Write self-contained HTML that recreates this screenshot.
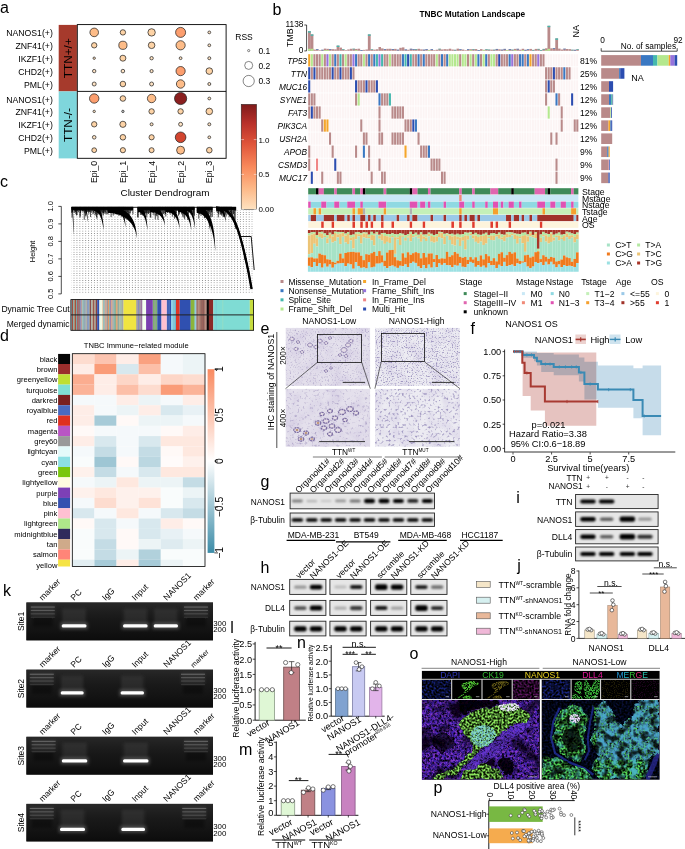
<!DOCTYPE html>
<html><head><meta charset="utf-8"><title>Figure</title>
<style>html,body{margin:0;padding:0;background:#fff}svg{display:block}text{font-family:"Liberation Sans",sans-serif}</style></head>
<body>
<svg width="685" height="849" viewBox="0 0 685 849">
<defs>
<linearGradient id="gradA" x1="0" y1="0" x2="0" y2="1">
<stop offset="0" stop-color="#7f1a1a"/><stop offset="0.18" stop-color="#b8302a"/><stop offset="0.38" stop-color="#e0553a"/><stop offset="0.6" stop-color="#f98a5c"/><stop offset="0.8" stop-color="#fdb887"/><stop offset="1" stop-color="#fee2c0"/>
</linearGradient>
<linearGradient id="gradD" x1="0" y1="0" x2="0" y2="1"><stop offset="0" stop-color="#f98a60"/><stop offset="0.5" stop-color="#ffffff"/><stop offset="1" stop-color="#3c8ca8"/></linearGradient>

<filter id="blur1" x="-5%" y="-50%" width="110%" height="200%"><feGaussianBlur stdDeviation="0.85"/></filter>

<filter id="ihcCloud" x="0" y="0" width="100%" height="100%" color-interpolation-filters="sRGB"><feTurbulence type="fractalNoise" baseFrequency="0.07" numOctaves="3" seed="4" result="n"/><feColorMatrix in="n" type="matrix" values="0 0 0 0 0  0 0 0 0 0  0 0 0 0 0  2.6 0 0 0 -1.0" result="a"/><feComposite in="SourceGraphic" in2="a" operator="in"/></filter>
<filter id="ihcSpkL" x="0" y="0" width="100%" height="100%" color-interpolation-filters="sRGB"><feTurbulence type="fractalNoise" baseFrequency="0.6" numOctaves="2" seed="8" result="n"/><feColorMatrix in="n" type="matrix" values="0 0 0 0 0  0 0 0 0 0  0 0 0 0 0  0 3.5 0 0 -1.95" result="a"/><feComposite in="SourceGraphic" in2="a" operator="in"/></filter>
<filter id="ihcSpkL2" x="0" y="0" width="100%" height="100%" color-interpolation-filters="sRGB"><feTurbulence type="fractalNoise" baseFrequency="0.4" numOctaves="2" seed="15" result="n"/><feColorMatrix in="n" type="matrix" values="0 0 0 0 0  0 0 0 0 0  0 0 0 0 0  0 3.5 0 0 -2.0" result="a"/><feComposite in="SourceGraphic" in2="a" operator="in"/></filter>
<filter id="ihcSpkR" x="0" y="0" width="100%" height="100%" color-interpolation-filters="sRGB"><feTurbulence type="fractalNoise" baseFrequency="0.8" numOctaves="1" seed="3" result="n"/><feColorMatrix in="n" type="matrix" values="0 0 0 0 0  0 0 0 0 0  0 0 0 0 0  0 4.5 0 0 -2.35" result="a"/><feComposite in="SourceGraphic" in2="a" operator="in"/></filter>
<filter id="ihcSpkR2" x="0" y="0" width="100%" height="100%" color-interpolation-filters="sRGB"><feTurbulence type="fractalNoise" baseFrequency="0.45" numOctaves="1" seed="9" result="n"/><feColorMatrix in="n" type="matrix" values="0 0 0 0 0  0 0 0 0 0  0 0 0 0 0  0 4.5 0 0 -2.45" result="a"/><feComposite in="SourceGraphic" in2="a" operator="in"/></filter>

<filter id="blur2" x="-5%" y="-10%" width="110%" height="120%"><feGaussianBlur stdDeviation="1.6"/></filter>
<filter id="blur3" x="-5%" y="-10%" width="110%" height="120%"><feGaussianBlur stdDeviation="0.7"/></filter>
<linearGradient id="gelg" x1="0" y1="0" x2="0" y2="1"><stop offset="0" stop-color="#2a2a2a" stop-opacity="0.9"/><stop offset="0.5" stop-color="#151515" stop-opacity="0.6"/><stop offset="1" stop-color="#0a0a0a" stop-opacity="0.9"/></linearGradient>
<filter id="fRough" x="-10%" y="-10%" width="120%" height="120%"><feTurbulence type="fractalNoise" baseFrequency="0.09" numOctaves="3" seed="6" result="t"/><feDisplacementMap in="SourceGraphic" in2="t" scale="9" xChannelSelector="R" yChannelSelector="G"/><feGaussianBlur stdDeviation="0.7"/></filter>
<filter id="fTexA" x="0" y="0" width="100%" height="100%" color-interpolation-filters="sRGB"><feTurbulence type="fractalNoise" baseFrequency="0.5" numOctaves="3" seed="5" result="n"/><feColorMatrix in="n" type="matrix" values="0 0 0 0 0  0 0 0 0 0  0 0 0 0 0  3.0 0 0 0 -1.1" result="a"/><feComposite in="SourceGraphic" in2="a" operator="in"/></filter>
<filter id="fTexB" x="0" y="0" width="100%" height="100%" color-interpolation-filters="sRGB"><feTurbulence type="fractalNoise" baseFrequency="0.7" numOctaves="2" seed="7" result="n"/><feColorMatrix in="n" type="matrix" values="0 0 0 0 0  0 0 0 0 0  0 0 0 0 0  0 4.0 0 0 -1.4" result="a"/><feComposite in="SourceGraphic" in2="a" operator="in"/></filter>
<filter id="fTexC" x="0" y="0" width="100%" height="100%" color-interpolation-filters="sRGB"><feTurbulence type="fractalNoise" baseFrequency="0.9" numOctaves="2" seed="9" result="n"/><feColorMatrix in="n" type="matrix" values="0 0 0 0 0  0 0 0 0 0  0 0 0 0 0  0 0 6.0 0 -3.1" result="a"/><feComposite in="SourceGraphic" in2="a" operator="in"/></filter>
<filter id="fTexP" x="0" y="0" width="100%" height="100%" color-interpolation-filters="sRGB"><feTurbulence type="fractalNoise" baseFrequency="0.4" numOctaves="3" seed="12" result="n"/><feColorMatrix in="n" type="matrix" values="0 0 0 0 0  0 0 0 0 0  0 0 0 0 0  2.6 0 0 0 -0.65" result="a"/><feComposite in="SourceGraphic" in2="a" operator="in"/></filter>
<filter id="fTexP2" x="0" y="0" width="100%" height="100%" color-interpolation-filters="sRGB"><feTurbulence type="fractalNoise" baseFrequency="0.45" numOctaves="3" seed="2" result="n"/><feColorMatrix in="n" type="matrix" values="0 0 0 0 0  0 0 0 0 0  0 0 0 0 0  0 4.0 0 0 -1.9" result="a"/><feComposite in="SourceGraphic" in2="a" operator="in"/></filter>
<filter id="fTexG" x="0" y="0" width="100%" height="100%" color-interpolation-filters="sRGB"><feTurbulence type="fractalNoise" baseFrequency="0.55" numOctaves="3" seed="21" result="n"/><feColorMatrix in="n" type="matrix" values="0 0 0 0 0  0 0 0 0 0  0 0 0 0 0  0 3.4 0 0 -1.05" result="a"/><feComposite in="SourceGraphic" in2="a" operator="in"/></filter>
<filter id="fTexG2" x="0" y="0" width="100%" height="100%" color-interpolation-filters="sRGB"><feTurbulence type="fractalNoise" baseFrequency="0.6" numOctaves="2" seed="33" result="n"/><feColorMatrix in="n" type="matrix" values="0 0 0 0 0  0 0 0 0 0  0 0 0 0 0  0 0 3.0 0 -0.8" result="a"/><feComposite in="SourceGraphic" in2="a" operator="in"/></filter>
<filter id="fTexC2" x="0" y="0" width="100%" height="100%" color-interpolation-filters="sRGB"><feTurbulence type="fractalNoise" baseFrequency="0.16" numOctaves="3" seed="17" result="n"/><feColorMatrix in="n" type="matrix" values="0 0 0 0 0  0 0 0 0 0  0 0 0 0 0  4.0 0 0 0 -1.8" result="a"/><feComposite in="SourceGraphic" in2="a" operator="in"/></filter>
<filter id="fTexD" x="0" y="0" width="100%" height="100%" color-interpolation-filters="sRGB"><feTurbulence type="fractalNoise" baseFrequency="0.06" numOctaves="2" seed="44" result="n"/><feColorMatrix in="n" type="matrix" values="0 0 0 0 0  0 0 0 0 0  0 0 0 0 0  0 0 4.0 0 -1.9" result="a"/><feComposite in="SourceGraphic" in2="a" operator="in"/></filter>
<filter id="fTexG3" x="0" y="0" width="100%" height="100%" color-interpolation-filters="sRGB"><feTurbulence type="fractalNoise" baseFrequency="0.5" numOctaves="3" seed="27" result="n"/><feColorMatrix in="n" type="matrix" values="0 0 0 0 0  0 0 0 0 0  0 0 0 0 0  0 3.6 0 0 -1.35" result="a"/><feComposite in="SourceGraphic" in2="a" operator="in"/></filter>
<filter id="fTexD2" x="0" y="0" width="100%" height="100%" color-interpolation-filters="sRGB"><feTurbulence type="fractalNoise" baseFrequency="0.12" numOctaves="2" seed="51" result="n"/><feColorMatrix in="n" type="matrix" values="0 0 0 0 0  0 0 0 0 0  0 0 0 0 0  5.0 0 0 0 -2.5" result="a"/><feComposite in="SourceGraphic" in2="a" operator="in"/></filter>
<filter id="blur4" x="-5%" y="-5%" width="110%" height="110%"><feGaussianBlur stdDeviation="0.45"/></filter>
<filter id="blurIF" x="0" y="0" width="100%" height="100%"><feGaussianBlur stdDeviation="0.45"/></filter>
</defs>

<rect width="685" height="849" fill="#fff"/>
<g id="panel-a">
<text x="0.0" y="12.6" font-size="16">a</text>
<text x="52.8" y="36.4" font-size="8.7" text-anchor="end">NANOS1(+)</text>
<text x="52.8" y="49.3" font-size="8.7" text-anchor="end">ZNF41(+)</text>
<text x="52.8" y="62.2" font-size="8.7" text-anchor="end">IKZF1(+)</text>
<text x="52.8" y="75.1" font-size="8.7" text-anchor="end">CHD2(+)</text>
<text x="52.8" y="88.0" font-size="8.7" text-anchor="end">PML(+)</text>
<text x="52.8" y="102.5" font-size="8.7" text-anchor="end">NANOS1(+)</text>
<text x="52.8" y="115.4" font-size="8.7" text-anchor="end">ZNF41(+)</text>
<text x="52.8" y="128.3" font-size="8.7" text-anchor="end">IKZF1(+)</text>
<text x="52.8" y="141.3" font-size="8.7" text-anchor="end">CHD2(+)</text>
<text x="52.8" y="154.2" font-size="8.7" text-anchor="end">PML(+)</text>
<rect x="58.70" y="24.90" width="18.20" height="66.50" fill="#a63a2c"/>
<rect x="58.70" y="91.40" width="18.20" height="67.00" fill="#7fd6dc"/>
<text x="72.0" y="58.2" font-size="11.8" text-anchor="middle" transform="rotate(-90 72.0 58.2)">TTN+/+</text>
<text x="72.0" y="125.0" font-size="11.8" text-anchor="middle" transform="rotate(-90 72.0 125.0)">TTN-/-</text>
<rect x="77.30" y="24.60" width="148.80" height="133.70" fill="#fff" stroke="#000" stroke-width="0.9"/>
<line x1="77.30" y1="91.40" x2="226.10" y2="91.40" stroke="#000" stroke-width="0.9"/>
<circle cx="94.20" cy="32.40" r="4.30" fill="#fdbc88" stroke="#1a1a1a" stroke-width="0.7"/>
<circle cx="122.90" cy="32.40" r="2.70" fill="#fdd3a6" stroke="#1a1a1a" stroke-width="0.7"/>
<circle cx="151.60" cy="32.40" r="3.70" fill="#fdd3a6" stroke="#1a1a1a" stroke-width="0.7"/>
<circle cx="180.60" cy="32.40" r="5.00" fill="#fc9e6e" stroke="#1a1a1a" stroke-width="0.7"/>
<circle cx="209.30" cy="32.40" r="1.40" fill="#fee3c4" stroke="#1a1a1a" stroke-width="0.7"/>
<circle cx="94.20" cy="45.30" r="2.70" fill="#fdd3a6" stroke="#1a1a1a" stroke-width="0.7"/>
<circle cx="122.90" cy="45.30" r="4.10" fill="#fdbc88" stroke="#1a1a1a" stroke-width="0.7"/>
<circle cx="151.60" cy="45.30" r="3.30" fill="#fdd3a6" stroke="#1a1a1a" stroke-width="0.7"/>
<circle cx="180.60" cy="45.30" r="4.60" fill="#fdbc88" stroke="#1a1a1a" stroke-width="0.7"/>
<circle cx="209.30" cy="45.30" r="1.40" fill="#fee3c4" stroke="#1a1a1a" stroke-width="0.7"/>
<circle cx="94.20" cy="58.20" r="1.20" fill="#fee3c4" stroke="#1a1a1a" stroke-width="0.7"/>
<circle cx="122.90" cy="58.20" r="3.00" fill="#fdd3a6" stroke="#1a1a1a" stroke-width="0.7"/>
<circle cx="151.60" cy="58.20" r="1.70" fill="#fee3c4" stroke="#1a1a1a" stroke-width="0.7"/>
<circle cx="180.60" cy="58.20" r="1.40" fill="#fee3c4" stroke="#1a1a1a" stroke-width="0.7"/>
<circle cx="209.30" cy="58.20" r="1.50" fill="#fee3c4" stroke="#1a1a1a" stroke-width="0.7"/>
<circle cx="94.20" cy="71.10" r="1.70" fill="#fee3c4" stroke="#1a1a1a" stroke-width="0.7"/>
<circle cx="122.90" cy="71.10" r="1.80" fill="#fee3c4" stroke="#1a1a1a" stroke-width="0.7"/>
<circle cx="151.60" cy="71.10" r="1.60" fill="#fee3c4" stroke="#1a1a1a" stroke-width="0.7"/>
<circle cx="180.60" cy="71.10" r="4.60" fill="#fc9e6e" stroke="#1a1a1a" stroke-width="0.7"/>
<circle cx="209.30" cy="71.10" r="3.30" fill="#fdd3a6" stroke="#1a1a1a" stroke-width="0.7"/>
<circle cx="94.20" cy="84.00" r="2.00" fill="#fee3c4" stroke="#1a1a1a" stroke-width="0.7"/>
<circle cx="122.90" cy="84.00" r="2.80" fill="#fdd3a6" stroke="#1a1a1a" stroke-width="0.7"/>
<circle cx="151.60" cy="84.00" r="2.00" fill="#fee3c4" stroke="#1a1a1a" stroke-width="0.7"/>
<circle cx="180.60" cy="84.00" r="4.20" fill="#fdbc88" stroke="#1a1a1a" stroke-width="0.7"/>
<circle cx="209.30" cy="84.00" r="1.50" fill="#fee3c4" stroke="#1a1a1a" stroke-width="0.7"/>
<circle cx="94.20" cy="98.50" r="4.70" fill="#fc9e6e" stroke="#1a1a1a" stroke-width="0.7"/>
<circle cx="122.90" cy="98.50" r="2.80" fill="#fdd3a6" stroke="#1a1a1a" stroke-width="0.7"/>
<circle cx="151.60" cy="98.50" r="4.20" fill="#fdbc88" stroke="#1a1a1a" stroke-width="0.7"/>
<circle cx="180.60" cy="98.50" r="6.10" fill="#8a1f1f" stroke="#1a1a1a" stroke-width="0.7"/>
<circle cx="209.30" cy="98.50" r="1.40" fill="#fee3c4" stroke="#1a1a1a" stroke-width="0.7"/>
<circle cx="94.20" cy="111.40" r="1.20" fill="#fee3c4" stroke="#1a1a1a" stroke-width="0.7"/>
<circle cx="122.90" cy="111.40" r="1.20" fill="#ccc" stroke="#1a1a1a" stroke-width="0.7"/>
<circle cx="151.60" cy="111.40" r="2.70" fill="#fdd3a6" stroke="#1a1a1a" stroke-width="0.7"/>
<circle cx="180.60" cy="111.40" r="2.70" fill="#fdd3a6" stroke="#1a1a1a" stroke-width="0.7"/>
<circle cx="209.30" cy="111.40" r="3.30" fill="#fdd3a6" stroke="#1a1a1a" stroke-width="0.7"/>
<circle cx="94.20" cy="124.30" r="2.70" fill="#fdd3a6" stroke="#1a1a1a" stroke-width="0.7"/>
<circle cx="122.90" cy="124.30" r="3.10" fill="#fdd3a6" stroke="#1a1a1a" stroke-width="0.7"/>
<circle cx="151.60" cy="124.30" r="1.50" fill="#fee3c4" stroke="#1a1a1a" stroke-width="0.7"/>
<circle cx="180.60" cy="124.30" r="2.00" fill="#fee3c4" stroke="#1a1a1a" stroke-width="0.7"/>
<circle cx="209.30" cy="124.30" r="1.50" fill="#fee3c4" stroke="#1a1a1a" stroke-width="0.7"/>
<circle cx="94.20" cy="137.30" r="1.80" fill="#fee3c4" stroke="#1a1a1a" stroke-width="0.7"/>
<circle cx="122.90" cy="137.30" r="2.80" fill="#fdd3a6" stroke="#1a1a1a" stroke-width="0.7"/>
<circle cx="151.60" cy="137.30" r="2.60" fill="#fdd3a6" stroke="#1a1a1a" stroke-width="0.7"/>
<circle cx="180.60" cy="137.30" r="5.30" fill="#d2452f" stroke="#1a1a1a" stroke-width="0.7"/>
<circle cx="209.30" cy="137.30" r="1.40" fill="#fee3c4" stroke="#1a1a1a" stroke-width="0.7"/>
<circle cx="94.20" cy="150.20" r="2.40" fill="#fdd3a6" stroke="#1a1a1a" stroke-width="0.7"/>
<circle cx="122.90" cy="150.20" r="2.60" fill="#fdd3a6" stroke="#1a1a1a" stroke-width="0.7"/>
<circle cx="151.60" cy="150.20" r="2.50" fill="#fdd3a6" stroke="#1a1a1a" stroke-width="0.7"/>
<circle cx="180.60" cy="150.20" r="4.00" fill="#fdbc88" stroke="#1a1a1a" stroke-width="0.7"/>
<circle cx="209.30" cy="150.20" r="2.80" fill="#fdd3a6" stroke="#1a1a1a" stroke-width="0.7"/>
<text x="97.2" y="172.0" font-size="8.7" text-anchor="middle" transform="rotate(-90 97.2 172.0)">Epi_0</text>
<text x="125.9" y="172.0" font-size="8.7" text-anchor="middle" transform="rotate(-90 125.9 172.0)">Epi_1</text>
<text x="154.6" y="172.0" font-size="8.7" text-anchor="middle" transform="rotate(-90 154.6 172.0)">Epi_4</text>
<text x="183.6" y="172.0" font-size="8.7" text-anchor="middle" transform="rotate(-90 183.6 172.0)">Epi_2</text>
<text x="212.3" y="172.0" font-size="8.7" text-anchor="middle" transform="rotate(-90 212.3 172.0)">Epi_3</text>
<text x="235.3" y="39.8" font-size="8.5">RSS</text>
<circle cx="248.70" cy="50.60" r="1.10" fill="#fff" stroke="#222" stroke-width="0.55"/>
<circle cx="248.70" cy="65.40" r="4.00" fill="#fff" stroke="#222" stroke-width="0.55"/>
<circle cx="248.70" cy="81.00" r="5.60" fill="#fff" stroke="#222" stroke-width="0.55"/>
<text x="258.4" y="53.7" font-size="8.5">0.1</text>
<text x="258.4" y="68.5" font-size="8.5">0.2</text>
<text x="258.4" y="84.1" font-size="8.5">0.3</text>
<rect x="241.2" y="104.3" width="15.4" height="105" fill="url(#gradA)" stroke="#222" stroke-width="0.5"/>
<text x="258.4" y="142.5" font-size="8">1.0</text>
<line x1="241.20" y1="139.60" x2="244.00" y2="139.60" stroke="#fff" stroke-width="0.5"/>
<line x1="253.80" y1="139.60" x2="256.60" y2="139.60" stroke="#fff" stroke-width="0.5"/>
<text x="258.4" y="177.3" font-size="8">0.5</text>
<line x1="241.20" y1="174.40" x2="244.00" y2="174.40" stroke="#fff" stroke-width="0.5"/>
<line x1="253.80" y1="174.40" x2="256.60" y2="174.40" stroke="#fff" stroke-width="0.5"/>
<text x="258.4" y="212.2" font-size="8">0.00</text>
<line x1="241.20" y1="209.30" x2="244.00" y2="209.30" stroke="#fff" stroke-width="0.5"/>
<line x1="253.80" y1="209.30" x2="256.60" y2="209.30" stroke="#fff" stroke-width="0.5"/>
</g>
<g id="panel-b">
<text x="272.5" y="14.5" font-size="16">b</text>
<text x="472.3" y="16.6" font-size="8.3" text-anchor="middle" font-weight="bold">TNBC Mutation Landscape</text>
<pattern id="bgc" x="308.2" y="0" width="2.603" height="20" patternUnits="userSpaceOnUse"><rect x="0" y="0" width="2.0" height="20" fill="#fcf4f4"/></pattern>
<rect x="308.20" y="54.20" width="270.11" height="12.20" fill="url(#bgc)"/>
<rect x="308.20" y="67.25" width="270.11" height="12.20" fill="url(#bgc)"/>
<rect x="308.20" y="80.30" width="270.11" height="12.20" fill="url(#bgc)"/>
<rect x="308.20" y="93.35" width="270.11" height="12.20" fill="url(#bgc)"/>
<rect x="308.20" y="106.40" width="270.11" height="12.20" fill="url(#bgc)"/>
<rect x="308.20" y="119.45" width="270.11" height="12.20" fill="url(#bgc)"/>
<rect x="308.20" y="132.50" width="270.11" height="12.20" fill="url(#bgc)"/>
<rect x="308.20" y="145.55" width="270.11" height="12.20" fill="url(#bgc)"/>
<rect x="308.20" y="158.60" width="270.11" height="12.20" fill="url(#bgc)"/>
<rect x="308.20" y="171.65" width="270.11" height="12.20" fill="url(#bgc)"/>
<rect x="308.20" y="54.20" width="2.05" height="12.20" fill="#f5a62a"/>
<rect x="310.80" y="54.20" width="2.05" height="12.20" fill="#b4e88e"/>
<rect x="313.41" y="54.20" width="2.05" height="12.20" fill="#b98a8a"/>
<rect x="316.01" y="54.20" width="2.05" height="12.20" fill="#b98a8a"/>
<rect x="318.61" y="54.20" width="2.05" height="12.20" fill="#b98a8a"/>
<rect x="321.21" y="54.20" width="2.05" height="12.20" fill="#b4e88e"/>
<rect x="323.82" y="54.20" width="2.05" height="12.20" fill="#b98a8a"/>
<rect x="326.42" y="54.20" width="2.05" height="12.20" fill="#9673dc"/>
<rect x="329.02" y="54.20" width="2.05" height="12.20" fill="#b4e88e"/>
<rect x="331.63" y="54.20" width="2.05" height="12.20" fill="#b98a8a"/>
<rect x="334.23" y="54.20" width="2.05" height="12.20" fill="#3a78c2"/>
<rect x="336.83" y="54.20" width="2.05" height="12.20" fill="#b98a8a"/>
<rect x="339.44" y="54.20" width="2.05" height="12.20" fill="#45b8ae"/>
<rect x="342.04" y="54.20" width="2.05" height="12.20" fill="#b98a8a"/>
<rect x="344.64" y="54.20" width="2.05" height="12.20" fill="#b4e88e"/>
<rect x="347.25" y="54.20" width="2.05" height="12.20" fill="#b98a8a"/>
<rect x="349.85" y="54.20" width="2.05" height="12.20" fill="#b98a8a"/>
<rect x="352.45" y="54.20" width="2.05" height="12.20" fill="#9673dc"/>
<rect x="355.05" y="54.20" width="2.05" height="12.20" fill="#3a78c2"/>
<rect x="357.66" y="54.20" width="2.05" height="12.20" fill="#b98a8a"/>
<rect x="360.26" y="54.20" width="2.05" height="12.20" fill="#b98a8a"/>
<rect x="362.86" y="54.20" width="2.05" height="12.20" fill="#b4e88e"/>
<rect x="365.47" y="54.20" width="2.05" height="12.20" fill="#b98a8a"/>
<rect x="368.07" y="54.20" width="2.05" height="12.20" fill="#3a78c2"/>
<rect x="370.67" y="54.20" width="2.05" height="12.20" fill="#b98a8a"/>
<rect x="373.27" y="54.20" width="2.05" height="12.20" fill="#3a78c2"/>
<rect x="375.88" y="54.20" width="2.05" height="12.20" fill="#45b8ae"/>
<rect x="378.48" y="54.20" width="2.05" height="12.20" fill="#9673dc"/>
<rect x="381.08" y="54.20" width="2.05" height="12.20" fill="#45b8ae"/>
<rect x="383.69" y="54.20" width="2.05" height="12.20" fill="#b98a8a"/>
<rect x="386.29" y="54.20" width="2.05" height="12.20" fill="#b98a8a"/>
<rect x="388.89" y="54.20" width="2.05" height="12.20" fill="#b4e88e"/>
<rect x="391.50" y="54.20" width="2.05" height="12.20" fill="#b98a8a"/>
<rect x="394.10" y="54.20" width="2.05" height="12.20" fill="#b98a8a"/>
<rect x="396.70" y="54.20" width="2.05" height="12.20" fill="#b98a8a"/>
<rect x="399.31" y="54.20" width="2.05" height="12.20" fill="#b98a8a"/>
<rect x="401.91" y="54.20" width="2.05" height="12.20" fill="#3a78c2"/>
<rect x="404.51" y="54.20" width="2.05" height="12.20" fill="#45b8ae"/>
<rect x="407.11" y="54.20" width="2.05" height="12.20" fill="#2c4db0"/>
<rect x="409.72" y="54.20" width="2.05" height="12.20" fill="#45b8ae"/>
<rect x="412.32" y="54.20" width="2.05" height="12.20" fill="#b98a8a"/>
<rect x="414.92" y="54.20" width="2.05" height="12.20" fill="#b98a8a"/>
<rect x="417.53" y="54.20" width="2.05" height="12.20" fill="#3a78c2"/>
<rect x="420.13" y="54.20" width="2.05" height="12.20" fill="#b98a8a"/>
<rect x="422.73" y="54.20" width="2.05" height="12.20" fill="#3a78c2"/>
<rect x="425.33" y="54.20" width="2.05" height="12.20" fill="#b98a8a"/>
<rect x="427.94" y="54.20" width="2.05" height="12.20" fill="#b98a8a"/>
<rect x="430.54" y="54.20" width="2.05" height="12.20" fill="#b98a8a"/>
<rect x="433.14" y="54.20" width="2.05" height="12.20" fill="#b98a8a"/>
<rect x="435.75" y="54.20" width="2.05" height="12.20" fill="#b4e88e"/>
<rect x="438.35" y="54.20" width="2.05" height="12.20" fill="#b98a8a"/>
<rect x="440.95" y="54.20" width="2.05" height="12.20" fill="#3a78c2"/>
<rect x="443.56" y="54.20" width="2.05" height="12.20" fill="#b98a8a"/>
<rect x="446.16" y="54.20" width="2.05" height="12.20" fill="#3a78c2"/>
<rect x="448.76" y="54.20" width="2.05" height="12.20" fill="#b4e88e"/>
<rect x="451.37" y="54.20" width="2.05" height="12.20" fill="#b4e88e"/>
<rect x="453.97" y="54.20" width="2.05" height="12.20" fill="#b4e88e"/>
<rect x="456.57" y="54.20" width="2.05" height="12.20" fill="#b4e88e"/>
<rect x="459.17" y="54.20" width="2.05" height="12.20" fill="#b98a8a"/>
<rect x="461.78" y="54.20" width="2.05" height="12.20" fill="#b4e88e"/>
<rect x="464.38" y="54.20" width="2.05" height="12.20" fill="#b4e88e"/>
<rect x="466.98" y="54.20" width="2.05" height="12.20" fill="#b98a8a"/>
<rect x="469.59" y="54.20" width="2.05" height="12.20" fill="#b4e88e"/>
<rect x="472.19" y="54.20" width="2.05" height="12.20" fill="#b98a8a"/>
<rect x="474.79" y="54.20" width="2.05" height="12.20" fill="#b4e88e"/>
<rect x="477.39" y="54.20" width="2.05" height="12.20" fill="#3a78c2"/>
<rect x="480.00" y="54.20" width="2.05" height="12.20" fill="#b98a8a"/>
<rect x="482.60" y="54.20" width="2.05" height="12.20" fill="#b4e88e"/>
<rect x="485.20" y="54.20" width="2.05" height="12.20" fill="#3a78c2"/>
<rect x="487.81" y="54.20" width="2.05" height="12.20" fill="#b98a8a"/>
<rect x="490.41" y="54.20" width="2.05" height="12.20" fill="#b4e88e"/>
<rect x="493.01" y="54.20" width="2.05" height="12.20" fill="#b4e88e"/>
<rect x="495.62" y="54.20" width="2.05" height="12.20" fill="#b98a8a"/>
<rect x="498.22" y="54.20" width="2.05" height="12.20" fill="#2c4db0"/>
<rect x="500.82" y="54.20" width="2.05" height="12.20" fill="#b98a8a"/>
<rect x="503.43" y="54.20" width="2.05" height="12.20" fill="#b98a8a"/>
<rect x="506.03" y="54.20" width="2.05" height="12.20" fill="#b98a8a"/>
<rect x="508.63" y="54.20" width="2.05" height="12.20" fill="#3a78c2"/>
<rect x="511.23" y="54.20" width="2.05" height="12.20" fill="#9673dc"/>
<rect x="513.84" y="54.20" width="2.05" height="12.20" fill="#b98a8a"/>
<rect x="516.44" y="54.20" width="2.05" height="12.20" fill="#b98a8a"/>
<rect x="519.04" y="54.20" width="2.05" height="12.20" fill="#3a78c2"/>
<rect x="521.65" y="54.20" width="2.05" height="12.20" fill="#3a78c2"/>
<rect x="524.25" y="54.20" width="2.05" height="12.20" fill="#b98a8a"/>
<rect x="526.85" y="54.20" width="2.05" height="12.20" fill="#3a78c2"/>
<rect x="529.46" y="54.20" width="2.05" height="12.20" fill="#f5a62a"/>
<rect x="532.06" y="54.20" width="2.05" height="12.20" fill="#b98a8a"/>
<rect x="534.66" y="54.20" width="2.05" height="12.20" fill="#b98a8a"/>
<rect x="537.26" y="54.20" width="2.05" height="12.20" fill="#9673dc"/>
<rect x="539.87" y="54.20" width="2.05" height="12.20" fill="#b98a8a"/>
<rect x="542.47" y="54.20" width="2.05" height="12.20" fill="#b98a8a"/>
<text x="307.0" y="63.6" font-size="8.3" text-anchor="end" font-style="italic">TP53</text>
<text x="580.0" y="63.7" font-size="8.6">81%</text>
<rect x="308.20" y="67.25" width="2.05" height="12.20" fill="#2c4db0"/>
<rect x="310.80" y="67.25" width="2.05" height="12.20" fill="#b98a8a"/>
<rect x="313.41" y="67.25" width="2.05" height="12.20" fill="#2c4db0"/>
<rect x="316.01" y="67.25" width="2.05" height="12.20" fill="#b98a8a"/>
<rect x="318.61" y="67.25" width="2.05" height="12.20" fill="#b98a8a"/>
<rect x="321.21" y="67.25" width="2.05" height="12.20" fill="#b98a8a"/>
<rect x="323.82" y="67.25" width="2.05" height="12.20" fill="#b98a8a"/>
<rect x="326.42" y="67.25" width="2.05" height="12.20" fill="#b98a8a"/>
<rect x="329.02" y="67.25" width="2.05" height="12.20" fill="#b98a8a"/>
<rect x="331.63" y="67.25" width="2.05" height="12.20" fill="#2c4db0"/>
<rect x="334.23" y="67.25" width="2.05" height="12.20" fill="#b98a8a"/>
<rect x="336.83" y="67.25" width="2.05" height="12.20" fill="#b98a8a"/>
<rect x="339.44" y="67.25" width="2.05" height="12.20" fill="#2c4db0"/>
<rect x="342.04" y="67.25" width="2.05" height="12.20" fill="#b98a8a"/>
<rect x="344.64" y="67.25" width="2.05" height="12.20" fill="#b98a8a"/>
<rect x="347.25" y="67.25" width="2.05" height="12.20" fill="#b98a8a"/>
<rect x="349.85" y="67.25" width="2.05" height="12.20" fill="#2c4db0"/>
<rect x="352.45" y="67.25" width="2.05" height="12.20" fill="#b98a8a"/>
<rect x="545.07" y="67.25" width="2.05" height="12.20" fill="#b98a8a"/>
<rect x="547.68" y="67.25" width="2.05" height="12.20" fill="#b98a8a"/>
<rect x="550.28" y="67.25" width="2.05" height="12.20" fill="#b98a8a"/>
<rect x="552.88" y="67.25" width="2.05" height="12.20" fill="#2c4db0"/>
<rect x="555.49" y="67.25" width="2.05" height="12.20" fill="#b98a8a"/>
<rect x="558.09" y="67.25" width="2.05" height="12.20" fill="#b98a8a"/>
<rect x="560.69" y="67.25" width="2.05" height="12.20" fill="#b98a8a"/>
<rect x="563.29" y="67.25" width="2.05" height="12.20" fill="#3a78c2"/>
<rect x="565.90" y="67.25" width="2.05" height="12.20" fill="#b98a8a"/>
<rect x="568.50" y="67.25" width="2.05" height="12.20" fill="#b98a8a"/>
<text x="307.0" y="76.6" font-size="8.3" text-anchor="end" font-style="italic">TTN</text>
<text x="580.0" y="76.7" font-size="8.6">25%</text>
<rect x="308.20" y="80.30" width="2.05" height="12.20" fill="#2c4db0"/>
<rect x="355.05" y="80.30" width="2.05" height="12.20" fill="#2c4db0"/>
<rect x="357.66" y="80.30" width="2.05" height="12.20" fill="#b98a8a"/>
<rect x="360.26" y="80.30" width="2.05" height="12.20" fill="#b98a8a"/>
<rect x="362.86" y="80.30" width="2.05" height="12.20" fill="#b98a8a"/>
<rect x="365.47" y="80.30" width="2.05" height="12.20" fill="#2c4db0"/>
<rect x="368.07" y="80.30" width="2.05" height="12.20" fill="#b98a8a"/>
<rect x="370.67" y="80.30" width="2.05" height="12.20" fill="#b98a8a"/>
<rect x="373.27" y="80.30" width="2.05" height="12.20" fill="#b98a8a"/>
<rect x="375.88" y="80.30" width="2.05" height="12.20" fill="#2c4db0"/>
<rect x="545.07" y="80.30" width="2.05" height="12.20" fill="#b98a8a"/>
<rect x="547.68" y="80.30" width="2.05" height="12.20" fill="#2c4db0"/>
<rect x="550.28" y="80.30" width="2.05" height="12.20" fill="#b98a8a"/>
<rect x="552.88" y="80.30" width="2.05" height="12.20" fill="#b98a8a"/>
<text x="307.0" y="89.7" font-size="8.3" text-anchor="end" font-style="italic">MUC16</text>
<text x="580.0" y="89.8" font-size="8.6">12%</text>
<rect x="308.20" y="93.35" width="2.05" height="12.20" fill="#b98a8a"/>
<rect x="310.80" y="93.35" width="2.05" height="12.20" fill="#b98a8a"/>
<rect x="313.41" y="93.35" width="2.05" height="12.20" fill="#b98a8a"/>
<rect x="355.05" y="93.35" width="2.05" height="12.20" fill="#b98a8a"/>
<rect x="357.66" y="93.35" width="2.05" height="12.20" fill="#b4e88e"/>
<rect x="378.48" y="93.35" width="2.05" height="12.20" fill="#3a78c2"/>
<rect x="381.08" y="93.35" width="2.05" height="12.20" fill="#b98a8a"/>
<rect x="383.69" y="93.35" width="2.05" height="12.20" fill="#b98a8a"/>
<rect x="386.29" y="93.35" width="2.05" height="12.20" fill="#b98a8a"/>
<rect x="388.89" y="93.35" width="2.05" height="12.20" fill="#45b8ae"/>
<rect x="545.07" y="93.35" width="2.05" height="12.20" fill="#b98a8a"/>
<rect x="555.49" y="93.35" width="2.05" height="12.20" fill="#3a78c2"/>
<rect x="558.09" y="93.35" width="2.05" height="12.20" fill="#b98a8a"/>
<rect x="571.10" y="93.35" width="2.05" height="12.20" fill="#2c4db0"/>
<text x="307.0" y="102.7" font-size="8.3" text-anchor="end" font-style="italic">SYNE1</text>
<text x="580.0" y="102.8" font-size="8.6">12%</text>
<rect x="308.20" y="106.40" width="2.05" height="12.20" fill="#b98a8a"/>
<rect x="310.80" y="106.40" width="2.05" height="12.20" fill="#2c4db0"/>
<rect x="313.41" y="106.40" width="2.05" height="12.20" fill="#b98a8a"/>
<rect x="316.01" y="106.40" width="2.05" height="12.20" fill="#b98a8a"/>
<rect x="318.61" y="106.40" width="2.05" height="12.20" fill="#b98a8a"/>
<rect x="378.48" y="106.40" width="2.05" height="12.20" fill="#b98a8a"/>
<rect x="391.50" y="106.40" width="2.05" height="12.20" fill="#b98a8a"/>
<rect x="394.10" y="106.40" width="2.05" height="12.20" fill="#b98a8a"/>
<rect x="396.70" y="106.40" width="2.05" height="12.20" fill="#b98a8a"/>
<rect x="399.31" y="106.40" width="2.05" height="12.20" fill="#b98a8a"/>
<rect x="401.91" y="106.40" width="2.05" height="12.20" fill="#b98a8a"/>
<rect x="547.68" y="106.40" width="2.05" height="12.20" fill="#b4e88e"/>
<rect x="560.69" y="106.40" width="2.05" height="12.20" fill="#b98a8a"/>
<text x="307.0" y="115.8" font-size="8.3" text-anchor="end" font-style="italic">FAT3</text>
<text x="580.0" y="115.9" font-size="8.6">12%</text>
<rect x="321.21" y="119.45" width="2.05" height="12.20" fill="#b98a8a"/>
<rect x="323.82" y="119.45" width="2.05" height="12.20" fill="#f5a62a"/>
<rect x="326.42" y="119.45" width="2.05" height="12.20" fill="#f5a62a"/>
<rect x="360.26" y="119.45" width="2.05" height="12.20" fill="#b98a8a"/>
<rect x="378.48" y="119.45" width="2.05" height="12.20" fill="#b98a8a"/>
<rect x="404.51" y="119.45" width="2.05" height="12.20" fill="#b98a8a"/>
<rect x="407.11" y="119.45" width="2.05" height="12.20" fill="#b98a8a"/>
<rect x="409.72" y="119.45" width="2.05" height="12.20" fill="#b98a8a"/>
<rect x="412.32" y="119.45" width="2.05" height="12.20" fill="#2c4db0"/>
<rect x="414.92" y="119.45" width="2.05" height="12.20" fill="#3a78c2"/>
<rect x="560.69" y="119.45" width="2.05" height="12.20" fill="#b98a8a"/>
<rect x="573.71" y="119.45" width="2.05" height="12.20" fill="#b98a8a"/>
<rect x="576.31" y="119.45" width="2.05" height="12.20" fill="#b98a8a"/>
<text x="307.0" y="128.8" font-size="8.3" text-anchor="end" font-style="italic">PIK3CA</text>
<text x="580.0" y="128.9" font-size="8.6">12%</text>
<rect x="329.02" y="132.50" width="2.05" height="12.20" fill="#b98a8a"/>
<rect x="362.86" y="132.50" width="2.05" height="12.20" fill="#b98a8a"/>
<rect x="365.47" y="132.50" width="2.05" height="12.20" fill="#b98a8a"/>
<rect x="378.48" y="132.50" width="2.05" height="12.20" fill="#b98a8a"/>
<rect x="381.08" y="132.50" width="2.05" height="12.20" fill="#b98a8a"/>
<rect x="391.50" y="132.50" width="2.05" height="12.20" fill="#b98a8a"/>
<rect x="394.10" y="132.50" width="2.05" height="12.20" fill="#b98a8a"/>
<rect x="396.70" y="132.50" width="2.05" height="12.20" fill="#b98a8a"/>
<rect x="399.31" y="132.50" width="2.05" height="12.20" fill="#b98a8a"/>
<rect x="401.91" y="132.50" width="2.05" height="12.20" fill="#b98a8a"/>
<rect x="417.53" y="132.50" width="2.05" height="12.20" fill="#b98a8a"/>
<rect x="550.28" y="132.50" width="2.05" height="12.20" fill="#b98a8a"/>
<rect x="555.49" y="132.50" width="2.05" height="12.20" fill="#b98a8a"/>
<text x="307.0" y="141.9" font-size="8.3" text-anchor="end" font-style="italic">USH2A</text>
<text x="580.0" y="142.0" font-size="8.6">12%</text>
<rect x="308.20" y="145.55" width="2.05" height="12.20" fill="#b98a8a"/>
<rect x="331.63" y="145.55" width="2.05" height="12.20" fill="#b98a8a"/>
<rect x="355.05" y="145.55" width="2.05" height="12.20" fill="#b98a8a"/>
<rect x="362.86" y="145.55" width="2.05" height="12.20" fill="#3a78c2"/>
<rect x="368.07" y="145.55" width="2.05" height="12.20" fill="#b98a8a"/>
<rect x="404.51" y="145.55" width="2.05" height="12.20" fill="#f5a62a"/>
<rect x="420.13" y="145.55" width="2.05" height="12.20" fill="#b98a8a"/>
<rect x="422.73" y="145.55" width="2.05" height="12.20" fill="#b98a8a"/>
<rect x="425.33" y="145.55" width="2.05" height="12.20" fill="#b98a8a"/>
<rect x="427.94" y="145.55" width="2.05" height="12.20" fill="#3a78c2"/>
<text x="307.0" y="154.9" font-size="8.3" text-anchor="end" font-style="italic">APOB</text>
<text x="580.0" y="155.0" font-size="8.6">9%</text>
<rect x="308.20" y="158.60" width="2.05" height="12.20" fill="#b98a8a"/>
<rect x="316.01" y="158.60" width="2.05" height="12.20" fill="#f08585"/>
<rect x="334.23" y="158.60" width="2.05" height="12.20" fill="#2c4db0"/>
<rect x="368.07" y="158.60" width="2.05" height="12.20" fill="#b98a8a"/>
<rect x="378.48" y="158.60" width="2.05" height="12.20" fill="#b98a8a"/>
<rect x="430.54" y="158.60" width="2.05" height="12.20" fill="#b98a8a"/>
<rect x="433.14" y="158.60" width="2.05" height="12.20" fill="#b98a8a"/>
<rect x="435.75" y="158.60" width="2.05" height="12.20" fill="#b98a8a"/>
<rect x="438.35" y="158.60" width="2.05" height="12.20" fill="#b98a8a"/>
<rect x="555.49" y="158.60" width="2.05" height="12.20" fill="#b98a8a"/>
<text x="307.0" y="168.0" font-size="8.3" text-anchor="end" font-style="italic">CSMD3</text>
<text x="580.0" y="168.1" font-size="8.6">9%</text>
<rect x="310.80" y="171.65" width="2.05" height="12.20" fill="#2c4db0"/>
<rect x="321.21" y="171.65" width="2.05" height="12.20" fill="#b98a8a"/>
<rect x="336.83" y="171.65" width="2.05" height="12.20" fill="#b98a8a"/>
<rect x="339.44" y="171.65" width="2.05" height="12.20" fill="#b98a8a"/>
<rect x="370.67" y="171.65" width="2.05" height="12.20" fill="#b98a8a"/>
<rect x="381.08" y="171.65" width="2.05" height="12.20" fill="#b98a8a"/>
<rect x="383.69" y="171.65" width="2.05" height="12.20" fill="#b98a8a"/>
<rect x="440.95" y="171.65" width="2.05" height="12.20" fill="#b98a8a"/>
<rect x="443.56" y="171.65" width="2.05" height="12.20" fill="#b98a8a"/>
<rect x="555.49" y="171.65" width="2.05" height="12.20" fill="#b98a8a"/>
<text x="307.0" y="181.0" font-size="8.3" text-anchor="end" font-style="italic">MUC17</text>
<text x="580.0" y="181.1" font-size="8.6">9%</text>
<line x1="306.60" y1="25.00" x2="306.60" y2="50.90" stroke="#000" stroke-width="0.7"/>
<line x1="304.30" y1="25.00" x2="306.60" y2="25.00" stroke="#000" stroke-width="0.7"/>
<line x1="304.30" y1="50.90" x2="306.60" y2="50.90" stroke="#000" stroke-width="0.7"/>
<text x="303.4" y="27.4" font-size="8.3" text-anchor="end">1138</text>
<text x="303.4" y="53.0" font-size="8.3" text-anchor="end">0</text>
<text x="292.6" y="37.6" font-size="8.8" text-anchor="middle" transform="rotate(-90 292.6 37.6)">TMB</text>
<rect x="308.00" y="31.20" width="2.80" height="19.60" fill="#b98a8a"/>
<rect x="308.00" y="31.20" width="2.80" height="1.40" fill="#45b8ae"/>
<rect x="308.00" y="48.80" width="2.80" height="2.00" fill="#b4e88e"/>
<rect x="310.60" y="34.40" width="2.80" height="16.40" fill="#b98a8a"/>
<rect x="310.60" y="34.40" width="2.80" height="1.40" fill="#45b8ae"/>
<rect x="310.60" y="48.80" width="2.80" height="2.00" fill="#b4e88e"/>
<rect x="313.41" y="49.61" width="2.50" height="1.19" fill="#b98a8a"/>
<rect x="316.01" y="49.20" width="2.50" height="1.60" fill="#b98a8a"/>
<rect x="316.01" y="49.20" width="2.50" height="0.60" fill="#3a78c2"/>
<rect x="318.61" y="50.18" width="2.50" height="0.62" fill="#b98a8a"/>
<rect x="321.21" y="49.79" width="2.50" height="1.01" fill="#b98a8a"/>
<rect x="321.21" y="49.79" width="2.50" height="0.60" fill="#3a78c2"/>
<rect x="323.82" y="48.61" width="2.50" height="2.19" fill="#b98a8a"/>
<rect x="323.82" y="50.00" width="2.50" height="0.80" fill="#b4e88e"/>
<rect x="326.42" y="48.86" width="2.50" height="1.94" fill="#b98a8a"/>
<rect x="326.42" y="50.00" width="2.50" height="0.80" fill="#b4e88e"/>
<rect x="329.02" y="49.18" width="2.50" height="1.62" fill="#b98a8a"/>
<rect x="329.02" y="49.18" width="2.50" height="0.60" fill="#3a78c2"/>
<rect x="331.63" y="49.18" width="2.50" height="1.62" fill="#b98a8a"/>
<rect x="334.23" y="49.36" width="2.50" height="1.44" fill="#b98a8a"/>
<rect x="336.63" y="45.60" width="2.80" height="5.20" fill="#b98a8a"/>
<rect x="336.63" y="45.60" width="2.80" height="1.40" fill="#45b8ae"/>
<rect x="339.44" y="47.60" width="2.50" height="3.20" fill="#b98a8a"/>
<rect x="342.04" y="49.25" width="2.50" height="1.55" fill="#b98a8a"/>
<rect x="342.04" y="49.25" width="2.50" height="0.60" fill="#45b8ae"/>
<rect x="344.64" y="50.15" width="2.50" height="0.65" fill="#b98a8a"/>
<rect x="347.25" y="49.44" width="2.50" height="1.36" fill="#b98a8a"/>
<rect x="349.85" y="48.79" width="2.50" height="2.01" fill="#b98a8a"/>
<rect x="352.45" y="48.73" width="2.50" height="2.07" fill="#b98a8a"/>
<rect x="352.45" y="48.73" width="2.50" height="0.60" fill="#45b8ae"/>
<rect x="355.05" y="48.92" width="2.50" height="1.88" fill="#b98a8a"/>
<rect x="355.05" y="50.00" width="2.50" height="0.80" fill="#b4e88e"/>
<rect x="357.66" y="48.70" width="2.50" height="2.10" fill="#b98a8a"/>
<rect x="360.26" y="50.04" width="2.50" height="0.76" fill="#b98a8a"/>
<rect x="360.26" y="50.04" width="2.50" height="0.60" fill="#3a78c2"/>
<rect x="362.86" y="49.85" width="2.50" height="0.95" fill="#b98a8a"/>
<rect x="365.47" y="49.50" width="2.50" height="1.30" fill="#b98a8a"/>
<rect x="367.87" y="34.40" width="2.80" height="16.40" fill="#b98a8a"/>
<rect x="367.87" y="34.40" width="2.80" height="1.40" fill="#45b8ae"/>
<rect x="370.67" y="49.39" width="2.50" height="1.41" fill="#b98a8a"/>
<rect x="370.67" y="49.39" width="2.50" height="0.60" fill="#45b8ae"/>
<rect x="373.27" y="49.64" width="2.50" height="1.16" fill="#b98a8a"/>
<rect x="375.88" y="49.27" width="2.50" height="1.53" fill="#b98a8a"/>
<rect x="378.48" y="47.00" width="2.50" height="3.80" fill="#b98a8a"/>
<rect x="381.08" y="48.40" width="2.50" height="2.40" fill="#b98a8a"/>
<rect x="383.69" y="49.13" width="2.50" height="1.67" fill="#b98a8a"/>
<rect x="383.69" y="49.13" width="2.50" height="0.60" fill="#3a78c2"/>
<rect x="386.29" y="48.82" width="2.50" height="1.98" fill="#b98a8a"/>
<rect x="388.89" y="48.75" width="2.50" height="2.05" fill="#b98a8a"/>
<rect x="391.50" y="49.06" width="2.50" height="1.74" fill="#b98a8a"/>
<rect x="391.50" y="49.06" width="2.50" height="0.60" fill="#3a78c2"/>
<rect x="394.10" y="48.87" width="2.50" height="1.93" fill="#b98a8a"/>
<rect x="396.70" y="49.74" width="2.50" height="1.06" fill="#b98a8a"/>
<rect x="396.70" y="49.74" width="2.50" height="0.60" fill="#3a78c2"/>
<rect x="399.31" y="47.80" width="2.50" height="3.00" fill="#b98a8a"/>
<rect x="401.91" y="47.40" width="2.50" height="3.40" fill="#b98a8a"/>
<rect x="404.51" y="49.54" width="2.50" height="1.26" fill="#b98a8a"/>
<rect x="404.51" y="49.54" width="2.50" height="0.60" fill="#3a78c2"/>
<rect x="407.11" y="49.73" width="2.50" height="1.07" fill="#b98a8a"/>
<rect x="409.72" y="48.80" width="2.50" height="2.00" fill="#b98a8a"/>
<rect x="409.72" y="48.80" width="2.50" height="0.60" fill="#3a78c2"/>
<rect x="412.32" y="49.22" width="2.50" height="1.58" fill="#b98a8a"/>
<rect x="412.32" y="49.22" width="2.50" height="0.60" fill="#3a78c2"/>
<rect x="414.92" y="49.05" width="2.50" height="1.75" fill="#b98a8a"/>
<rect x="414.92" y="49.05" width="2.50" height="0.60" fill="#45b8ae"/>
<rect x="417.53" y="48.79" width="2.50" height="2.01" fill="#b98a8a"/>
<rect x="420.13" y="49.39" width="2.50" height="1.41" fill="#b98a8a"/>
<rect x="422.73" y="49.70" width="2.50" height="1.10" fill="#b98a8a"/>
<rect x="422.73" y="49.70" width="2.50" height="0.60" fill="#3a78c2"/>
<rect x="425.33" y="49.24" width="2.50" height="1.56" fill="#b98a8a"/>
<rect x="425.33" y="49.24" width="2.50" height="0.60" fill="#3a78c2"/>
<rect x="427.94" y="49.88" width="2.50" height="0.92" fill="#b98a8a"/>
<rect x="427.94" y="50.00" width="2.50" height="0.80" fill="#b4e88e"/>
<rect x="430.54" y="49.22" width="2.50" height="1.58" fill="#b98a8a"/>
<rect x="430.54" y="49.22" width="2.50" height="0.60" fill="#3a78c2"/>
<rect x="433.14" y="50.13" width="2.50" height="0.67" fill="#b98a8a"/>
<rect x="435.75" y="49.70" width="2.50" height="1.10" fill="#b98a8a"/>
<rect x="438.35" y="48.77" width="2.50" height="2.03" fill="#b98a8a"/>
<rect x="438.35" y="48.77" width="2.50" height="0.60" fill="#45b8ae"/>
<rect x="440.95" y="49.46" width="2.50" height="1.34" fill="#b98a8a"/>
<rect x="443.56" y="49.17" width="2.50" height="1.63" fill="#b98a8a"/>
<rect x="446.16" y="49.31" width="2.50" height="1.49" fill="#b98a8a"/>
<rect x="448.76" y="48.70" width="2.50" height="2.10" fill="#b98a8a"/>
<rect x="451.37" y="49.51" width="2.50" height="1.29" fill="#b98a8a"/>
<rect x="453.97" y="49.82" width="2.50" height="0.98" fill="#b98a8a"/>
<rect x="453.97" y="49.82" width="2.50" height="0.60" fill="#45b8ae"/>
<rect x="456.57" y="48.64" width="2.50" height="2.16" fill="#b98a8a"/>
<rect x="459.17" y="49.32" width="2.50" height="1.48" fill="#b98a8a"/>
<rect x="459.17" y="49.32" width="2.50" height="0.60" fill="#3a78c2"/>
<rect x="461.78" y="49.54" width="2.50" height="1.26" fill="#b98a8a"/>
<rect x="464.38" y="50.17" width="2.50" height="0.63" fill="#b98a8a"/>
<rect x="466.98" y="49.19" width="2.50" height="1.61" fill="#b98a8a"/>
<rect x="466.98" y="49.19" width="2.50" height="0.60" fill="#3a78c2"/>
<rect x="469.59" y="49.20" width="2.50" height="1.60" fill="#b98a8a"/>
<rect x="469.59" y="50.00" width="2.50" height="0.80" fill="#b4e88e"/>
<rect x="472.19" y="49.11" width="2.50" height="1.69" fill="#b98a8a"/>
<rect x="472.19" y="49.11" width="2.50" height="0.60" fill="#45b8ae"/>
<rect x="474.79" y="49.07" width="2.50" height="1.73" fill="#b98a8a"/>
<rect x="477.39" y="50.16" width="2.50" height="0.64" fill="#b98a8a"/>
<rect x="477.39" y="50.16" width="2.50" height="0.60" fill="#3a78c2"/>
<rect x="480.00" y="49.12" width="2.50" height="1.68" fill="#b98a8a"/>
<rect x="482.60" y="49.80" width="2.50" height="1.00" fill="#b98a8a"/>
<rect x="482.60" y="50.00" width="2.50" height="0.80" fill="#b4e88e"/>
<rect x="485.20" y="49.25" width="2.50" height="1.55" fill="#b98a8a"/>
<rect x="485.20" y="49.25" width="2.50" height="0.60" fill="#45b8ae"/>
<rect x="487.81" y="49.62" width="2.50" height="1.18" fill="#b98a8a"/>
<rect x="487.81" y="49.62" width="2.50" height="0.60" fill="#45b8ae"/>
<rect x="490.41" y="49.61" width="2.50" height="1.19" fill="#b98a8a"/>
<rect x="493.01" y="49.72" width="2.50" height="1.08" fill="#b98a8a"/>
<rect x="493.01" y="49.72" width="2.50" height="0.60" fill="#45b8ae"/>
<rect x="495.62" y="48.96" width="2.50" height="1.84" fill="#b98a8a"/>
<rect x="495.62" y="48.96" width="2.50" height="0.60" fill="#3a78c2"/>
<rect x="498.22" y="49.29" width="2.50" height="1.51" fill="#b98a8a"/>
<rect x="500.82" y="49.70" width="2.50" height="1.10" fill="#b98a8a"/>
<rect x="500.82" y="49.70" width="2.50" height="0.60" fill="#3a78c2"/>
<rect x="503.43" y="48.91" width="2.50" height="1.89" fill="#b98a8a"/>
<rect x="503.43" y="48.91" width="2.50" height="0.60" fill="#3a78c2"/>
<rect x="506.03" y="49.90" width="2.50" height="0.90" fill="#b98a8a"/>
<rect x="506.03" y="50.00" width="2.50" height="0.80" fill="#b4e88e"/>
<rect x="508.63" y="49.08" width="2.50" height="1.72" fill="#b98a8a"/>
<rect x="508.63" y="49.08" width="2.50" height="0.60" fill="#3a78c2"/>
<rect x="511.23" y="49.68" width="2.50" height="1.12" fill="#b98a8a"/>
<rect x="511.23" y="49.68" width="2.50" height="0.60" fill="#45b8ae"/>
<rect x="513.84" y="48.87" width="2.50" height="1.93" fill="#b98a8a"/>
<rect x="513.84" y="50.00" width="2.50" height="0.80" fill="#b4e88e"/>
<rect x="516.44" y="48.83" width="2.50" height="1.97" fill="#b98a8a"/>
<rect x="516.44" y="48.83" width="2.50" height="0.60" fill="#3a78c2"/>
<rect x="519.04" y="49.66" width="2.50" height="1.14" fill="#b98a8a"/>
<rect x="521.65" y="48.78" width="2.50" height="2.02" fill="#b98a8a"/>
<rect x="521.65" y="50.00" width="2.50" height="0.80" fill="#b4e88e"/>
<rect x="524.25" y="49.84" width="2.50" height="0.96" fill="#b98a8a"/>
<rect x="524.25" y="49.84" width="2.50" height="0.60" fill="#3a78c2"/>
<rect x="526.85" y="49.35" width="2.50" height="1.45" fill="#b98a8a"/>
<rect x="526.85" y="49.35" width="2.50" height="0.60" fill="#3a78c2"/>
<rect x="529.46" y="48.91" width="2.50" height="1.89" fill="#b98a8a"/>
<rect x="532.06" y="49.91" width="2.50" height="0.89" fill="#b98a8a"/>
<rect x="532.06" y="49.91" width="2.50" height="0.60" fill="#45b8ae"/>
<rect x="534.66" y="48.91" width="2.50" height="1.89" fill="#b98a8a"/>
<rect x="537.26" y="48.91" width="2.50" height="1.89" fill="#b98a8a"/>
<rect x="537.26" y="48.91" width="2.50" height="0.60" fill="#45b8ae"/>
<rect x="539.87" y="49.99" width="2.50" height="0.81" fill="#b98a8a"/>
<rect x="539.87" y="49.99" width="2.50" height="0.60" fill="#45b8ae"/>
<rect x="542.47" y="48.93" width="2.50" height="1.87" fill="#b98a8a"/>
<rect x="542.47" y="48.93" width="2.50" height="0.60" fill="#45b8ae"/>
<rect x="545.07" y="48.30" width="2.50" height="2.50" fill="#b98a8a"/>
<rect x="545.07" y="50.00" width="2.50" height="0.80" fill="#b4e88e"/>
<rect x="547.48" y="25.80" width="2.80" height="25.00" fill="#b98a8a"/>
<rect x="547.48" y="25.80" width="2.80" height="1.40" fill="#45b8ae"/>
<rect x="547.48" y="48.80" width="2.80" height="2.00" fill="#b4e88e"/>
<rect x="550.28" y="48.30" width="2.50" height="2.50" fill="#b98a8a"/>
<rect x="552.88" y="48.20" width="2.50" height="2.60" fill="#b98a8a"/>
<rect x="552.88" y="48.20" width="2.50" height="0.60" fill="#3a78c2"/>
<rect x="555.28" y="38.40" width="2.80" height="12.40" fill="#b98a8a"/>
<rect x="555.28" y="38.40" width="2.80" height="1.40" fill="#45b8ae"/>
<rect x="558.09" y="48.60" width="2.50" height="2.20" fill="#b98a8a"/>
<rect x="560.69" y="49.51" width="2.50" height="1.29" fill="#b98a8a"/>
<rect x="563.29" y="48.72" width="2.50" height="2.08" fill="#b98a8a"/>
<rect x="563.29" y="48.72" width="2.50" height="0.60" fill="#3a78c2"/>
<rect x="565.90" y="49.01" width="2.50" height="1.79" fill="#b98a8a"/>
<rect x="568.50" y="49.14" width="2.50" height="1.66" fill="#b98a8a"/>
<rect x="571.10" y="49.74" width="2.50" height="1.06" fill="#b98a8a"/>
<rect x="571.10" y="49.74" width="2.50" height="0.60" fill="#45b8ae"/>
<rect x="573.71" y="49.84" width="2.50" height="0.96" fill="#b98a8a"/>
<rect x="573.71" y="49.84" width="2.50" height="0.60" fill="#3a78c2"/>
<rect x="576.31" y="49.26" width="2.50" height="1.54" fill="#b98a8a"/>
<rect x="576.31" y="49.26" width="2.50" height="0.60" fill="#45b8ae"/>
<text x="578.6" y="31.3" font-size="9" text-anchor="middle" transform="rotate(-90 578.6 31.3)">NA</text>
<line x1="601.20" y1="51.20" x2="677.20" y2="51.20" stroke="#000" stroke-width="0.7"/>
<line x1="601.20" y1="48.20" x2="601.20" y2="51.20" stroke="#000" stroke-width="0.7"/>
<line x1="677.20" y1="48.20" x2="677.20" y2="51.20" stroke="#000" stroke-width="0.7"/>
<text x="602.6" y="43.3" font-size="8.3" text-anchor="middle">0</text>
<text x="678.0" y="43.3" font-size="8.3" text-anchor="middle">92</text>
<text x="648.4" y="49.2" font-size="8.3" text-anchor="middle">No. of samples</text>
<rect x="601.20" y="55.10" width="39.80" height="10.60" fill="#b98a8a"/>
<rect x="641.00" y="55.10" width="12.00" height="10.60" fill="#3a78c2"/>
<rect x="653.00" y="55.10" width="4.40" height="10.60" fill="#45b8ae"/>
<rect x="657.40" y="55.10" width="11.30" height="10.60" fill="#b4e88e"/>
<rect x="668.70" y="55.10" width="1.60" height="10.60" fill="#f5a62a"/>
<rect x="670.30" y="55.10" width="4.30" height="10.60" fill="#9673dc"/>
<rect x="674.60" y="55.10" width="2.60" height="10.60" fill="#2c4db0"/>
<rect x="601.20" y="68.15" width="17.90" height="10.60" fill="#b98a8a"/>
<rect x="619.10" y="68.15" width="1.10" height="10.60" fill="#3a78c2"/>
<rect x="620.20" y="68.15" width="4.20" height="10.60" fill="#2c4db0"/>
<rect x="601.20" y="81.20" width="7.80" height="10.60" fill="#b98a8a"/>
<rect x="609.00" y="81.20" width="4.10" height="10.60" fill="#2c4db0"/>
<rect x="601.20" y="94.25" width="7.80" height="10.60" fill="#b98a8a"/>
<rect x="609.00" y="94.25" width="2.00" height="10.60" fill="#3a78c2"/>
<rect x="611.00" y="94.25" width="0.90" height="10.60" fill="#45b8ae"/>
<rect x="611.90" y="94.25" width="0.60" height="10.60" fill="#b4e88e"/>
<rect x="612.50" y="94.25" width="0.60" height="10.60" fill="#2c4db0"/>
<rect x="601.20" y="107.30" width="9.10" height="10.60" fill="#b98a8a"/>
<rect x="610.30" y="107.30" width="0.80" height="10.60" fill="#b4e88e"/>
<rect x="611.10" y="107.30" width="0.80" height="10.60" fill="#2c4db0"/>
<rect x="601.20" y="120.35" width="7.20" height="10.60" fill="#b98a8a"/>
<rect x="608.40" y="120.35" width="1.90" height="10.60" fill="#f5a62a"/>
<rect x="610.30" y="120.35" width="0.90" height="10.60" fill="#3a78c2"/>
<rect x="611.20" y="120.35" width="1.00" height="10.60" fill="#2c4db0"/>
<rect x="601.20" y="133.40" width="11.00" height="10.60" fill="#b98a8a"/>
<rect x="601.20" y="146.45" width="6.00" height="10.60" fill="#b98a8a"/>
<rect x="607.20" y="146.45" width="1.40" height="10.60" fill="#3a78c2"/>
<rect x="608.60" y="146.45" width="1.10" height="10.60" fill="#f5a62a"/>
<rect x="601.20" y="159.50" width="7.20" height="10.60" fill="#b98a8a"/>
<rect x="608.40" y="159.50" width="0.50" height="10.60" fill="#f08585"/>
<rect x="608.90" y="159.50" width="0.80" height="10.60" fill="#2c4db0"/>
<rect x="601.20" y="172.55" width="7.20" height="10.60" fill="#b98a8a"/>
<rect x="608.40" y="172.55" width="1.30" height="10.60" fill="#2c4db0"/>
<text x="631.2" y="80.8" font-size="9">NA</text>
<rect x="308.20" y="188.20" width="7.86" height="6.25" fill="#3e8a58"/>
<rect x="316.01" y="188.20" width="2.65" height="6.25" fill="#000"/>
<rect x="318.61" y="188.20" width="5.26" height="6.25" fill="#e066b0"/>
<rect x="323.82" y="188.20" width="10.46" height="6.25" fill="#3e8a58"/>
<rect x="334.23" y="188.20" width="2.65" height="6.25" fill="#e066b0"/>
<rect x="336.83" y="188.20" width="15.67" height="6.25" fill="#3e8a58"/>
<rect x="352.45" y="188.20" width="2.65" height="6.25" fill="#e066b0"/>
<rect x="355.05" y="188.20" width="5.26" height="6.25" fill="#3e8a58"/>
<rect x="360.26" y="188.20" width="2.65" height="6.25" fill="#e066b0"/>
<rect x="362.86" y="188.20" width="2.65" height="6.25" fill="#000"/>
<rect x="365.47" y="188.20" width="18.27" height="6.25" fill="#3e8a58"/>
<rect x="383.69" y="188.20" width="2.65" height="6.25" fill="#e066b0"/>
<rect x="386.29" y="188.20" width="23.48" height="6.25" fill="#3e8a58"/>
<rect x="409.72" y="188.20" width="2.65" height="6.25" fill="#000"/>
<rect x="412.32" y="188.20" width="5.26" height="6.25" fill="#e066b0"/>
<rect x="417.53" y="188.20" width="10.46" height="6.25" fill="#3e8a58"/>
<rect x="427.94" y="188.20" width="2.65" height="6.25" fill="#e066b0"/>
<rect x="430.54" y="188.20" width="28.68" height="6.25" fill="#3e8a58"/>
<rect x="459.17" y="188.20" width="2.65" height="6.25" fill="#e066b0"/>
<rect x="461.78" y="188.20" width="10.46" height="6.25" fill="#3e8a58"/>
<rect x="472.19" y="188.20" width="2.65" height="6.25" fill="#e066b0"/>
<rect x="474.79" y="188.20" width="15.67" height="6.25" fill="#3e8a58"/>
<rect x="490.41" y="188.20" width="7.86" height="6.25" fill="#e066b0"/>
<rect x="498.22" y="188.20" width="13.07" height="6.25" fill="#3e8a58"/>
<rect x="511.23" y="188.20" width="2.65" height="6.25" fill="#000"/>
<rect x="513.84" y="188.20" width="20.87" height="6.25" fill="#3e8a58"/>
<rect x="534.66" y="188.20" width="10.46" height="6.25" fill="#e066b0"/>
<rect x="545.07" y="188.20" width="2.65" height="6.25" fill="#3e8a58"/>
<rect x="547.68" y="188.20" width="2.65" height="6.25" fill="#000"/>
<rect x="550.28" y="188.20" width="20.87" height="6.25" fill="#3e8a58"/>
<rect x="571.10" y="188.20" width="2.65" height="6.25" fill="#e066b0"/>
<rect x="573.71" y="188.20" width="4.66" height="6.25" fill="#3e8a58"/>
<rect x="308.20" y="194.88" width="151.02" height="6.25" fill="#c9e8f6"/>
<rect x="459.17" y="194.88" width="2.65" height="6.25" fill="#f08a78"/>
<rect x="461.78" y="194.88" width="116.59" height="6.25" fill="#c9e8f6"/>
<rect x="308.20" y="201.56" width="2.65" height="6.25" fill="#e052b2"/>
<rect x="310.80" y="201.56" width="10.46" height="6.25" fill="#8fd9e2"/>
<rect x="321.21" y="201.56" width="5.26" height="6.25" fill="#e052b2"/>
<rect x="326.42" y="201.56" width="7.86" height="6.25" fill="#8fd9e2"/>
<rect x="334.23" y="201.56" width="5.26" height="6.25" fill="#e052b2"/>
<rect x="339.44" y="201.56" width="7.86" height="6.25" fill="#8fd9e2"/>
<rect x="347.25" y="201.56" width="7.86" height="6.25" fill="#e052b2"/>
<rect x="355.05" y="201.56" width="5.26" height="6.25" fill="#8fd9e2"/>
<rect x="360.26" y="201.56" width="2.65" height="6.25" fill="#e052b2"/>
<rect x="362.86" y="201.56" width="15.67" height="6.25" fill="#8fd9e2"/>
<rect x="378.48" y="201.56" width="7.86" height="6.25" fill="#e052b2"/>
<rect x="386.29" y="201.56" width="23.48" height="6.25" fill="#8fd9e2"/>
<rect x="409.72" y="201.56" width="7.86" height="6.25" fill="#e052b2"/>
<rect x="417.53" y="201.56" width="2.65" height="6.25" fill="#8fd9e2"/>
<rect x="420.13" y="201.56" width="5.26" height="6.25" fill="#e052b2"/>
<rect x="425.33" y="201.56" width="2.65" height="6.25" fill="#8fd9e2"/>
<rect x="427.94" y="201.56" width="2.65" height="6.25" fill="#e052b2"/>
<rect x="430.54" y="201.56" width="13.07" height="6.25" fill="#8fd9e2"/>
<rect x="443.56" y="201.56" width="2.65" height="6.25" fill="#e052b2"/>
<rect x="446.16" y="201.56" width="13.06" height="6.25" fill="#8fd9e2"/>
<rect x="459.17" y="201.56" width="5.26" height="6.25" fill="#e052b2"/>
<rect x="464.38" y="201.56" width="7.86" height="6.25" fill="#8fd9e2"/>
<rect x="472.19" y="201.56" width="2.65" height="6.25" fill="#e052b2"/>
<rect x="474.79" y="201.56" width="10.46" height="6.25" fill="#8fd9e2"/>
<rect x="485.20" y="201.56" width="2.65" height="6.25" fill="#e052b2"/>
<rect x="487.81" y="201.56" width="5.26" height="6.25" fill="#8fd9e2"/>
<rect x="493.01" y="201.56" width="5.26" height="6.25" fill="#e052b2"/>
<rect x="498.22" y="201.56" width="2.65" height="6.25" fill="#8fd9e2"/>
<rect x="500.82" y="201.56" width="2.65" height="6.25" fill="#e052b2"/>
<rect x="503.43" y="201.56" width="5.26" height="6.25" fill="#8fd9e2"/>
<rect x="508.63" y="201.56" width="5.26" height="6.25" fill="#e052b2"/>
<rect x="513.84" y="201.56" width="5.26" height="6.25" fill="#8fd9e2"/>
<rect x="519.04" y="201.56" width="2.65" height="6.25" fill="#e052b2"/>
<rect x="521.65" y="201.56" width="15.67" height="6.25" fill="#8fd9e2"/>
<rect x="537.26" y="201.56" width="7.86" height="6.25" fill="#e052b2"/>
<rect x="545.07" y="201.56" width="5.26" height="6.25" fill="#8fd9e2"/>
<rect x="550.28" y="201.56" width="5.26" height="6.25" fill="#e052b2"/>
<rect x="555.49" y="201.56" width="5.26" height="6.25" fill="#8fd9e2"/>
<rect x="560.69" y="201.56" width="5.26" height="6.25" fill="#e052b2"/>
<rect x="565.90" y="201.56" width="5.26" height="6.25" fill="#8fd9e2"/>
<rect x="571.10" y="201.56" width="2.65" height="6.25" fill="#e052b2"/>
<rect x="573.71" y="201.56" width="4.66" height="6.25" fill="#8fd9e2"/>
<rect x="308.20" y="208.24" width="5.26" height="6.25" fill="#c4f0b8"/>
<rect x="313.41" y="208.24" width="2.65" height="6.25" fill="#f5a02e"/>
<rect x="316.01" y="208.24" width="2.65" height="6.25" fill="#c4f0b8"/>
<rect x="318.61" y="208.24" width="2.65" height="6.25" fill="#f5a02e"/>
<rect x="321.21" y="208.24" width="31.29" height="6.25" fill="#c4f0b8"/>
<rect x="352.45" y="208.24" width="2.65" height="6.25" fill="#f5a02e"/>
<rect x="355.05" y="208.24" width="2.65" height="6.25" fill="#c4f0b8"/>
<rect x="357.66" y="208.24" width="5.26" height="6.25" fill="#f5a02e"/>
<rect x="362.86" y="208.24" width="2.65" height="6.25" fill="#b0b0b0"/>
<rect x="365.47" y="208.24" width="18.27" height="6.25" fill="#c4f0b8"/>
<rect x="383.69" y="208.24" width="2.65" height="6.25" fill="#f5a02e"/>
<rect x="386.29" y="208.24" width="23.48" height="6.25" fill="#c4f0b8"/>
<rect x="409.72" y="208.24" width="2.65" height="6.25" fill="#b0b0b0"/>
<rect x="412.32" y="208.24" width="46.90" height="6.25" fill="#c4f0b8"/>
<rect x="459.17" y="208.24" width="2.65" height="6.25" fill="#f5a02e"/>
<rect x="461.78" y="208.24" width="31.29" height="6.25" fill="#c4f0b8"/>
<rect x="493.01" y="208.24" width="5.26" height="6.25" fill="#f5a02e"/>
<rect x="498.22" y="208.24" width="44.30" height="6.25" fill="#c4f0b8"/>
<rect x="542.47" y="208.24" width="2.65" height="6.25" fill="#f5a02e"/>
<rect x="545.07" y="208.24" width="26.08" height="6.25" fill="#c4f0b8"/>
<rect x="571.10" y="208.24" width="5.26" height="6.25" fill="#f5a02e"/>
<rect x="576.31" y="208.24" width="2.05" height="6.25" fill="#c4f0b8"/>
<rect x="308.20" y="214.92" width="2.65" height="6.25" fill="#9bc9e8"/>
<rect x="310.80" y="214.92" width="5.26" height="6.25" fill="#a0322a"/>
<rect x="316.01" y="214.92" width="7.86" height="6.25" fill="#9bc9e8"/>
<rect x="323.82" y="214.92" width="10.46" height="6.25" fill="#a0322a"/>
<rect x="334.23" y="214.92" width="2.65" height="6.25" fill="#9bc9e8"/>
<rect x="336.83" y="214.92" width="7.86" height="6.25" fill="#a0322a"/>
<rect x="344.64" y="214.92" width="2.65" height="6.25" fill="#9bc9e8"/>
<rect x="347.25" y="214.92" width="2.65" height="6.25" fill="#a0322a"/>
<rect x="349.85" y="214.92" width="2.65" height="6.25" fill="#9bc9e8"/>
<rect x="352.45" y="214.92" width="2.65" height="6.25" fill="#a0322a"/>
<rect x="355.05" y="214.92" width="5.26" height="6.25" fill="#9bc9e8"/>
<rect x="360.26" y="214.92" width="5.26" height="6.25" fill="#a0322a"/>
<rect x="365.47" y="214.92" width="2.65" height="6.25" fill="#9bc9e8"/>
<rect x="368.07" y="214.92" width="2.65" height="6.25" fill="#a0322a"/>
<rect x="370.67" y="214.92" width="2.65" height="6.25" fill="#9bc9e8"/>
<rect x="373.27" y="214.92" width="2.65" height="6.25" fill="#a0322a"/>
<rect x="375.88" y="214.92" width="5.26" height="6.25" fill="#9bc9e8"/>
<rect x="381.08" y="214.92" width="2.65" height="6.25" fill="#a0322a"/>
<rect x="383.69" y="214.92" width="13.06" height="6.25" fill="#9bc9e8"/>
<rect x="396.70" y="214.92" width="2.65" height="6.25" fill="#a0322a"/>
<rect x="399.31" y="214.92" width="7.86" height="6.25" fill="#9bc9e8"/>
<rect x="407.11" y="214.92" width="2.65" height="6.25" fill="#a0322a"/>
<rect x="409.72" y="214.92" width="2.65" height="6.25" fill="#9bc9e8"/>
<rect x="412.32" y="214.92" width="5.26" height="6.25" fill="#a0322a"/>
<rect x="417.53" y="214.92" width="13.06" height="6.25" fill="#9bc9e8"/>
<rect x="430.54" y="214.92" width="2.65" height="6.25" fill="#a0322a"/>
<rect x="433.14" y="214.92" width="10.46" height="6.25" fill="#9bc9e8"/>
<rect x="443.56" y="214.92" width="2.65" height="6.25" fill="#a0322a"/>
<rect x="446.16" y="214.92" width="13.06" height="6.25" fill="#9bc9e8"/>
<rect x="459.17" y="214.92" width="2.65" height="6.25" fill="#a0322a"/>
<rect x="461.78" y="214.92" width="2.65" height="6.25" fill="#9bc9e8"/>
<rect x="464.38" y="214.92" width="2.65" height="6.25" fill="#a0322a"/>
<rect x="466.98" y="214.92" width="2.65" height="6.25" fill="#9bc9e8"/>
<rect x="469.59" y="214.92" width="5.26" height="6.25" fill="#a0322a"/>
<rect x="474.79" y="214.92" width="2.65" height="6.25" fill="#9bc9e8"/>
<rect x="477.39" y="214.92" width="2.65" height="6.25" fill="#a0322a"/>
<rect x="480.00" y="214.92" width="26.08" height="6.25" fill="#9bc9e8"/>
<rect x="506.03" y="214.92" width="5.26" height="6.25" fill="#a0322a"/>
<rect x="511.23" y="214.92" width="2.65" height="6.25" fill="#9bc9e8"/>
<rect x="513.84" y="214.92" width="5.26" height="6.25" fill="#a0322a"/>
<rect x="519.04" y="214.92" width="2.65" height="6.25" fill="#9bc9e8"/>
<rect x="521.65" y="214.92" width="2.65" height="6.25" fill="#a0322a"/>
<rect x="524.25" y="214.92" width="5.26" height="6.25" fill="#9bc9e8"/>
<rect x="529.46" y="214.92" width="2.65" height="6.25" fill="#a0322a"/>
<rect x="532.06" y="214.92" width="5.26" height="6.25" fill="#9bc9e8"/>
<rect x="537.26" y="214.92" width="36.49" height="6.25" fill="#a0322a"/>
<rect x="573.71" y="214.92" width="2.65" height="6.25" fill="#9bc9e8"/>
<rect x="576.31" y="214.92" width="2.05" height="6.25" fill="#a0322a"/>
<rect x="308.20" y="221.60" width="13.06" height="6.25" fill="#fdf4dc"/>
<rect x="321.21" y="221.60" width="2.65" height="6.25" fill="#e03c2e"/>
<rect x="323.82" y="221.60" width="7.86" height="6.25" fill="#fdf4dc"/>
<rect x="331.63" y="221.60" width="2.65" height="6.25" fill="#e03c2e"/>
<rect x="334.23" y="221.60" width="18.27" height="6.25" fill="#fdf4dc"/>
<rect x="352.45" y="221.60" width="2.65" height="6.25" fill="#e03c2e"/>
<rect x="355.05" y="221.60" width="5.26" height="6.25" fill="#fdf4dc"/>
<rect x="360.26" y="221.60" width="2.65" height="6.25" fill="#e03c2e"/>
<rect x="362.86" y="221.60" width="2.65" height="6.25" fill="#fdf4dc"/>
<rect x="365.47" y="221.60" width="2.65" height="6.25" fill="#e03c2e"/>
<rect x="368.07" y="221.60" width="2.65" height="6.25" fill="#fdf4dc"/>
<rect x="370.67" y="221.60" width="2.65" height="6.25" fill="#e03c2e"/>
<rect x="373.27" y="221.60" width="7.86" height="6.25" fill="#fdf4dc"/>
<rect x="381.08" y="221.60" width="2.65" height="6.25" fill="#e03c2e"/>
<rect x="383.69" y="221.60" width="7.86" height="6.25" fill="#fdf4dc"/>
<rect x="391.50" y="221.60" width="2.65" height="6.25" fill="#e03c2e"/>
<rect x="394.10" y="221.60" width="15.67" height="6.25" fill="#fdf4dc"/>
<rect x="409.72" y="221.60" width="2.65" height="6.25" fill="#e03c2e"/>
<rect x="412.32" y="221.60" width="10.46" height="6.25" fill="#fdf4dc"/>
<rect x="422.73" y="221.60" width="2.65" height="6.25" fill="#e03c2e"/>
<rect x="425.33" y="221.60" width="26.08" height="6.25" fill="#fdf4dc"/>
<rect x="451.37" y="221.60" width="2.65" height="6.25" fill="#e03c2e"/>
<rect x="453.97" y="221.60" width="5.26" height="6.25" fill="#fdf4dc"/>
<rect x="459.17" y="221.60" width="2.65" height="6.25" fill="#e03c2e"/>
<rect x="461.78" y="221.60" width="10.46" height="6.25" fill="#fdf4dc"/>
<rect x="472.19" y="221.60" width="2.65" height="6.25" fill="#e03c2e"/>
<rect x="474.79" y="221.60" width="15.67" height="6.25" fill="#fdf4dc"/>
<rect x="490.41" y="221.60" width="2.65" height="6.25" fill="#e03c2e"/>
<rect x="493.01" y="221.60" width="2.65" height="6.25" fill="#fdf4dc"/>
<rect x="495.62" y="221.60" width="2.65" height="6.25" fill="#e03c2e"/>
<rect x="498.22" y="221.60" width="10.46" height="6.25" fill="#fdf4dc"/>
<rect x="508.63" y="221.60" width="2.65" height="6.25" fill="#e03c2e"/>
<rect x="511.23" y="221.60" width="28.68" height="6.25" fill="#fdf4dc"/>
<rect x="539.87" y="221.60" width="2.65" height="6.25" fill="#e03c2e"/>
<rect x="542.47" y="221.60" width="35.89" height="6.25" fill="#fdf4dc"/>
<text x="582.0" y="194.9" font-size="8.7">Stage</text>
<text x="582.0" y="201.6" font-size="8.7">Mstage</text>
<text x="582.0" y="208.3" font-size="8.7">Nstage</text>
<text x="582.0" y="215.0" font-size="8.7">Tstage</text>
<text x="582.0" y="221.7" font-size="8.7">Age</text>
<text x="582.0" y="228.3" font-size="8.7">OS</text>
<rect x="307.90" y="230.00" width="2.65" height="3.23" fill="#a83428"/>
<rect x="307.90" y="233.18" width="2.65" height="2.28" fill="#b4e8a2"/>
<rect x="307.90" y="235.41" width="2.65" height="18.82" fill="#ecc476"/>
<rect x="307.90" y="254.18" width="2.65" height="3.39" fill="#a6e2c6"/>
<rect x="307.90" y="257.51" width="2.65" height="8.39" fill="#f07a1e"/>
<rect x="307.90" y="265.86" width="2.65" height="5.89" fill="#9be0e2"/>
<rect x="310.50" y="230.00" width="2.65" height="2.33" fill="#a83428"/>
<rect x="310.50" y="232.28" width="2.65" height="2.16" fill="#b4e8a2"/>
<rect x="310.50" y="234.40" width="2.65" height="18.82" fill="#ecc476"/>
<rect x="310.50" y="253.16" width="2.65" height="4.21" fill="#a6e2c6"/>
<rect x="310.50" y="257.32" width="2.65" height="10.04" fill="#f07a1e"/>
<rect x="310.50" y="267.31" width="2.65" height="4.44" fill="#9be0e2"/>
<rect x="313.11" y="230.00" width="2.65" height="2.03" fill="#a83428"/>
<rect x="313.11" y="231.98" width="2.65" height="1.64" fill="#b4e8a2"/>
<rect x="313.11" y="233.58" width="2.65" height="10.17" fill="#ecc476"/>
<rect x="313.11" y="243.70" width="2.65" height="14.77" fill="#a6e2c6"/>
<rect x="313.11" y="258.42" width="2.65" height="3.62" fill="#f07a1e"/>
<rect x="313.11" y="261.99" width="2.65" height="9.76" fill="#9be0e2"/>
<rect x="315.71" y="230.00" width="2.65" height="4.99" fill="#a83428"/>
<rect x="315.71" y="234.94" width="2.65" height="3.30" fill="#b4e8a2"/>
<rect x="315.71" y="238.19" width="2.65" height="8.33" fill="#ecc476"/>
<rect x="315.71" y="246.47" width="2.65" height="11.92" fill="#a6e2c6"/>
<rect x="315.71" y="258.34" width="2.65" height="7.76" fill="#f07a1e"/>
<rect x="315.71" y="266.06" width="2.65" height="5.69" fill="#9be0e2"/>
<rect x="318.31" y="230.00" width="2.65" height="2.24" fill="#a83428"/>
<rect x="318.31" y="232.19" width="2.65" height="0.92" fill="#b4e8a2"/>
<rect x="318.31" y="233.06" width="2.65" height="3.90" fill="#ecc476"/>
<rect x="318.31" y="236.92" width="2.65" height="16.71" fill="#a6e2c6"/>
<rect x="318.31" y="253.58" width="2.65" height="9.88" fill="#f07a1e"/>
<rect x="318.31" y="263.41" width="2.65" height="8.34" fill="#9be0e2"/>
<rect x="320.91" y="230.00" width="2.65" height="1.82" fill="#a83428"/>
<rect x="320.91" y="231.77" width="2.65" height="2.04" fill="#b4e8a2"/>
<rect x="320.91" y="233.76" width="2.65" height="4.85" fill="#ecc476"/>
<rect x="320.91" y="238.56" width="2.65" height="16.20" fill="#a6e2c6"/>
<rect x="320.91" y="254.71" width="2.65" height="13.00" fill="#f07a1e"/>
<rect x="320.91" y="267.66" width="2.65" height="4.09" fill="#9be0e2"/>
<rect x="323.52" y="230.00" width="2.65" height="3.45" fill="#a83428"/>
<rect x="323.52" y="233.40" width="2.65" height="2.49" fill="#b4e8a2"/>
<rect x="323.52" y="235.84" width="2.65" height="1.30" fill="#ecc476"/>
<rect x="323.52" y="237.09" width="2.65" height="18.18" fill="#a6e2c6"/>
<rect x="323.52" y="255.22" width="2.65" height="8.49" fill="#f07a1e"/>
<rect x="323.52" y="263.66" width="2.65" height="8.09" fill="#9be0e2"/>
<rect x="326.12" y="230.00" width="2.65" height="5.05" fill="#a83428"/>
<rect x="326.12" y="235.00" width="2.65" height="3.38" fill="#b4e8a2"/>
<rect x="326.12" y="238.32" width="2.65" height="5.06" fill="#ecc476"/>
<rect x="326.12" y="243.33" width="2.65" height="16.00" fill="#a6e2c6"/>
<rect x="326.12" y="259.29" width="2.65" height="7.47" fill="#f07a1e"/>
<rect x="326.12" y="266.71" width="2.65" height="5.04" fill="#9be0e2"/>
<rect x="328.72" y="230.00" width="2.65" height="2.77" fill="#a83428"/>
<rect x="328.72" y="232.72" width="2.65" height="1.46" fill="#b4e8a2"/>
<rect x="328.72" y="234.13" width="2.65" height="4.74" fill="#ecc476"/>
<rect x="328.72" y="238.82" width="2.65" height="20.98" fill="#a6e2c6"/>
<rect x="328.72" y="259.75" width="2.65" height="4.83" fill="#f07a1e"/>
<rect x="328.72" y="264.53" width="2.65" height="7.22" fill="#9be0e2"/>
<rect x="331.33" y="230.00" width="2.65" height="4.54" fill="#a83428"/>
<rect x="331.33" y="234.49" width="2.65" height="1.85" fill="#b4e8a2"/>
<rect x="331.33" y="236.29" width="2.65" height="6.29" fill="#ecc476"/>
<rect x="331.33" y="242.53" width="2.65" height="19.37" fill="#a6e2c6"/>
<rect x="331.33" y="261.85" width="2.65" height="5.90" fill="#f07a1e"/>
<rect x="331.33" y="267.70" width="2.65" height="4.05" fill="#9be0e2"/>
<rect x="333.93" y="230.00" width="2.65" height="1.72" fill="#a83428"/>
<rect x="333.93" y="231.67" width="2.65" height="1.41" fill="#b4e8a2"/>
<rect x="333.93" y="233.03" width="2.65" height="8.23" fill="#ecc476"/>
<rect x="333.93" y="241.21" width="2.65" height="21.55" fill="#a6e2c6"/>
<rect x="333.93" y="262.71" width="2.65" height="1.85" fill="#f07a1e"/>
<rect x="333.93" y="264.51" width="2.65" height="7.24" fill="#9be0e2"/>
<rect x="336.53" y="230.00" width="2.65" height="1.96" fill="#a83428"/>
<rect x="336.53" y="231.91" width="2.65" height="2.46" fill="#b4e8a2"/>
<rect x="336.53" y="234.32" width="2.65" height="3.05" fill="#ecc476"/>
<rect x="336.53" y="237.32" width="2.65" height="23.64" fill="#a6e2c6"/>
<rect x="336.53" y="260.90" width="2.65" height="2.75" fill="#f07a1e"/>
<rect x="336.53" y="263.60" width="2.65" height="8.15" fill="#9be0e2"/>
<rect x="339.14" y="230.00" width="2.65" height="2.01" fill="#a83428"/>
<rect x="339.14" y="231.96" width="2.65" height="1.72" fill="#b4e8a2"/>
<rect x="339.14" y="233.62" width="2.65" height="10.53" fill="#ecc476"/>
<rect x="339.14" y="244.11" width="2.65" height="9.56" fill="#a6e2c6"/>
<rect x="339.14" y="253.61" width="2.65" height="9.88" fill="#f07a1e"/>
<rect x="339.14" y="263.44" width="2.65" height="8.31" fill="#9be0e2"/>
<rect x="341.74" y="230.00" width="2.65" height="2.06" fill="#a83428"/>
<rect x="341.74" y="232.01" width="2.65" height="1.03" fill="#b4e8a2"/>
<rect x="341.74" y="232.99" width="2.65" height="3.80" fill="#ecc476"/>
<rect x="341.74" y="236.74" width="2.65" height="21.68" fill="#a6e2c6"/>
<rect x="341.74" y="258.36" width="2.65" height="4.64" fill="#f07a1e"/>
<rect x="341.74" y="262.95" width="2.65" height="8.80" fill="#9be0e2"/>
<rect x="344.34" y="230.00" width="2.65" height="3.58" fill="#a83428"/>
<rect x="344.34" y="233.53" width="2.65" height="2.00" fill="#b4e8a2"/>
<rect x="344.34" y="235.49" width="2.65" height="7.02" fill="#ecc476"/>
<rect x="344.34" y="242.46" width="2.65" height="10.57" fill="#a6e2c6"/>
<rect x="344.34" y="252.98" width="2.65" height="13.32" fill="#f07a1e"/>
<rect x="344.34" y="266.26" width="2.65" height="5.49" fill="#9be0e2"/>
<rect x="346.94" y="230.00" width="2.65" height="2.11" fill="#a83428"/>
<rect x="346.94" y="232.06" width="2.65" height="1.94" fill="#b4e8a2"/>
<rect x="346.94" y="233.94" width="2.65" height="10.10" fill="#ecc476"/>
<rect x="346.94" y="243.99" width="2.65" height="8.27" fill="#a6e2c6"/>
<rect x="346.94" y="252.20" width="2.65" height="11.45" fill="#f07a1e"/>
<rect x="346.94" y="263.60" width="2.65" height="8.15" fill="#9be0e2"/>
<rect x="349.55" y="230.00" width="2.65" height="4.96" fill="#a83428"/>
<rect x="349.55" y="234.91" width="2.65" height="2.89" fill="#b4e8a2"/>
<rect x="349.55" y="237.75" width="2.65" height="2.74" fill="#ecc476"/>
<rect x="349.55" y="240.44" width="2.65" height="11.56" fill="#a6e2c6"/>
<rect x="349.55" y="251.95" width="2.65" height="12.59" fill="#f07a1e"/>
<rect x="349.55" y="264.49" width="2.65" height="7.26" fill="#9be0e2"/>
<rect x="352.15" y="230.00" width="2.65" height="4.57" fill="#a83428"/>
<rect x="352.15" y="234.52" width="2.65" height="2.49" fill="#b4e8a2"/>
<rect x="352.15" y="236.96" width="2.65" height="11.59" fill="#ecc476"/>
<rect x="352.15" y="248.50" width="2.65" height="3.39" fill="#a6e2c6"/>
<rect x="352.15" y="251.84" width="2.65" height="16.92" fill="#f07a1e"/>
<rect x="352.15" y="268.71" width="2.65" height="3.04" fill="#9be0e2"/>
<rect x="354.75" y="230.00" width="2.65" height="2.43" fill="#a83428"/>
<rect x="354.75" y="232.38" width="2.65" height="1.53" fill="#b4e8a2"/>
<rect x="354.75" y="233.86" width="2.65" height="5.48" fill="#ecc476"/>
<rect x="354.75" y="239.29" width="2.65" height="13.15" fill="#a6e2c6"/>
<rect x="354.75" y="252.39" width="2.65" height="9.88" fill="#f07a1e"/>
<rect x="354.75" y="262.21" width="2.65" height="9.54" fill="#9be0e2"/>
<rect x="357.36" y="230.00" width="2.65" height="2.02" fill="#a83428"/>
<rect x="357.36" y="231.97" width="2.65" height="2.34" fill="#b4e8a2"/>
<rect x="357.36" y="234.26" width="2.65" height="2.10" fill="#ecc476"/>
<rect x="357.36" y="236.32" width="2.65" height="16.07" fill="#a6e2c6"/>
<rect x="357.36" y="252.33" width="2.65" height="13.67" fill="#f07a1e"/>
<rect x="357.36" y="265.95" width="2.65" height="5.80" fill="#9be0e2"/>
<rect x="359.96" y="230.00" width="2.65" height="2.96" fill="#a83428"/>
<rect x="359.96" y="232.91" width="2.65" height="2.02" fill="#b4e8a2"/>
<rect x="359.96" y="234.88" width="2.65" height="8.76" fill="#ecc476"/>
<rect x="359.96" y="243.59" width="2.65" height="12.17" fill="#a6e2c6"/>
<rect x="359.96" y="255.71" width="2.65" height="12.18" fill="#f07a1e"/>
<rect x="359.96" y="267.83" width="2.65" height="3.92" fill="#9be0e2"/>
<rect x="362.56" y="230.00" width="2.65" height="2.33" fill="#a83428"/>
<rect x="362.56" y="232.28" width="2.65" height="1.27" fill="#b4e8a2"/>
<rect x="362.56" y="233.50" width="2.65" height="4.08" fill="#ecc476"/>
<rect x="362.56" y="237.53" width="2.65" height="22.65" fill="#a6e2c6"/>
<rect x="362.56" y="260.13" width="2.65" height="7.41" fill="#f07a1e"/>
<rect x="362.56" y="267.49" width="2.65" height="4.26" fill="#9be0e2"/>
<rect x="365.17" y="230.00" width="2.65" height="2.55" fill="#a83428"/>
<rect x="365.17" y="232.50" width="2.65" height="1.36" fill="#b4e8a2"/>
<rect x="365.17" y="233.81" width="2.65" height="4.53" fill="#ecc476"/>
<rect x="365.17" y="238.29" width="2.65" height="15.95" fill="#a6e2c6"/>
<rect x="365.17" y="254.18" width="2.65" height="14.30" fill="#f07a1e"/>
<rect x="365.17" y="268.43" width="2.65" height="3.32" fill="#9be0e2"/>
<rect x="367.77" y="230.00" width="2.65" height="4.66" fill="#a83428"/>
<rect x="367.77" y="234.61" width="2.65" height="2.39" fill="#b4e8a2"/>
<rect x="367.77" y="236.96" width="2.65" height="1.30" fill="#ecc476"/>
<rect x="367.77" y="238.21" width="2.65" height="16.54" fill="#a6e2c6"/>
<rect x="367.77" y="254.70" width="2.65" height="7.78" fill="#f07a1e"/>
<rect x="367.77" y="262.43" width="2.65" height="9.32" fill="#9be0e2"/>
<rect x="370.37" y="230.00" width="2.65" height="1.85" fill="#a83428"/>
<rect x="370.37" y="231.80" width="2.65" height="3.29" fill="#b4e8a2"/>
<rect x="370.37" y="235.04" width="2.65" height="5.43" fill="#ecc476"/>
<rect x="370.37" y="240.42" width="2.65" height="12.80" fill="#a6e2c6"/>
<rect x="370.37" y="253.17" width="2.65" height="14.41" fill="#f07a1e"/>
<rect x="370.37" y="267.53" width="2.65" height="4.22" fill="#9be0e2"/>
<rect x="372.97" y="230.00" width="2.65" height="3.71" fill="#a83428"/>
<rect x="372.97" y="233.66" width="2.65" height="1.62" fill="#b4e8a2"/>
<rect x="372.97" y="235.23" width="2.65" height="10.25" fill="#ecc476"/>
<rect x="372.97" y="245.43" width="2.65" height="6.50" fill="#a6e2c6"/>
<rect x="372.97" y="251.88" width="2.65" height="14.97" fill="#f07a1e"/>
<rect x="372.97" y="266.80" width="2.65" height="4.95" fill="#9be0e2"/>
<rect x="375.58" y="230.00" width="2.65" height="1.95" fill="#a83428"/>
<rect x="375.58" y="231.90" width="2.65" height="1.46" fill="#b4e8a2"/>
<rect x="375.58" y="233.30" width="2.65" height="1.30" fill="#ecc476"/>
<rect x="375.58" y="234.55" width="2.65" height="21.47" fill="#a6e2c6"/>
<rect x="375.58" y="255.98" width="2.65" height="7.75" fill="#f07a1e"/>
<rect x="375.58" y="263.68" width="2.65" height="8.07" fill="#9be0e2"/>
<rect x="378.18" y="230.00" width="2.65" height="4.78" fill="#a83428"/>
<rect x="378.18" y="234.73" width="2.65" height="1.39" fill="#b4e8a2"/>
<rect x="378.18" y="236.07" width="2.65" height="2.68" fill="#ecc476"/>
<rect x="378.18" y="238.70" width="2.65" height="12.45" fill="#a6e2c6"/>
<rect x="378.18" y="251.10" width="2.65" height="12.55" fill="#f07a1e"/>
<rect x="378.18" y="263.60" width="2.65" height="8.15" fill="#9be0e2"/>
<rect x="380.78" y="230.00" width="2.65" height="3.20" fill="#a83428"/>
<rect x="380.78" y="233.15" width="2.65" height="1.04" fill="#b4e8a2"/>
<rect x="380.78" y="234.14" width="2.65" height="6.48" fill="#ecc476"/>
<rect x="380.78" y="240.57" width="2.65" height="14.79" fill="#a6e2c6"/>
<rect x="380.78" y="255.31" width="2.65" height="7.36" fill="#f07a1e"/>
<rect x="380.78" y="262.62" width="2.65" height="9.13" fill="#9be0e2"/>
<rect x="383.39" y="230.00" width="2.65" height="2.93" fill="#a83428"/>
<rect x="383.39" y="232.88" width="2.65" height="3.11" fill="#b4e8a2"/>
<rect x="383.39" y="235.94" width="2.65" height="7.92" fill="#ecc476"/>
<rect x="383.39" y="243.81" width="2.65" height="16.99" fill="#a6e2c6"/>
<rect x="383.39" y="260.75" width="2.65" height="5.65" fill="#f07a1e"/>
<rect x="383.39" y="266.35" width="2.65" height="5.40" fill="#9be0e2"/>
<rect x="385.99" y="230.00" width="2.65" height="4.02" fill="#a83428"/>
<rect x="385.99" y="233.97" width="2.65" height="2.35" fill="#b4e8a2"/>
<rect x="385.99" y="236.27" width="2.65" height="5.62" fill="#ecc476"/>
<rect x="385.99" y="241.84" width="2.65" height="10.75" fill="#a6e2c6"/>
<rect x="385.99" y="252.54" width="2.65" height="15.65" fill="#f07a1e"/>
<rect x="385.99" y="268.14" width="2.65" height="3.61" fill="#9be0e2"/>
<rect x="388.59" y="230.00" width="2.65" height="4.06" fill="#a83428"/>
<rect x="388.59" y="234.01" width="2.65" height="3.29" fill="#b4e8a2"/>
<rect x="388.59" y="237.25" width="2.65" height="5.74" fill="#ecc476"/>
<rect x="388.59" y="242.94" width="2.65" height="7.22" fill="#a6e2c6"/>
<rect x="388.59" y="250.12" width="2.65" height="16.14" fill="#f07a1e"/>
<rect x="388.59" y="266.20" width="2.65" height="5.55" fill="#9be0e2"/>
<rect x="391.20" y="230.00" width="2.65" height="3.33" fill="#a83428"/>
<rect x="391.20" y="233.28" width="2.65" height="2.71" fill="#b4e8a2"/>
<rect x="391.20" y="235.94" width="2.65" height="1.30" fill="#ecc476"/>
<rect x="391.20" y="237.19" width="2.65" height="12.80" fill="#a6e2c6"/>
<rect x="391.20" y="249.94" width="2.65" height="15.67" fill="#f07a1e"/>
<rect x="391.20" y="265.56" width="2.65" height="6.19" fill="#9be0e2"/>
<rect x="393.80" y="230.00" width="2.65" height="4.18" fill="#a83428"/>
<rect x="393.80" y="234.13" width="2.65" height="3.14" fill="#b4e8a2"/>
<rect x="393.80" y="237.21" width="2.65" height="16.66" fill="#ecc476"/>
<rect x="393.80" y="253.83" width="2.65" height="3.39" fill="#a6e2c6"/>
<rect x="393.80" y="257.16" width="2.65" height="9.57" fill="#f07a1e"/>
<rect x="393.80" y="266.68" width="2.65" height="5.07" fill="#9be0e2"/>
<rect x="396.40" y="230.00" width="2.65" height="4.36" fill="#a83428"/>
<rect x="396.40" y="234.31" width="2.65" height="3.17" fill="#b4e8a2"/>
<rect x="396.40" y="237.44" width="2.65" height="2.03" fill="#ecc476"/>
<rect x="396.40" y="239.41" width="2.65" height="20.97" fill="#a6e2c6"/>
<rect x="396.40" y="260.33" width="2.65" height="7.58" fill="#f07a1e"/>
<rect x="396.40" y="267.87" width="2.65" height="3.88" fill="#9be0e2"/>
<rect x="399.00" y="230.00" width="2.65" height="3.11" fill="#a83428"/>
<rect x="399.00" y="233.06" width="2.65" height="2.86" fill="#b4e8a2"/>
<rect x="399.00" y="235.87" width="2.65" height="9.12" fill="#ecc476"/>
<rect x="399.00" y="244.94" width="2.65" height="16.16" fill="#a6e2c6"/>
<rect x="399.00" y="261.06" width="2.65" height="4.75" fill="#f07a1e"/>
<rect x="399.00" y="265.75" width="2.65" height="6.00" fill="#9be0e2"/>
<rect x="401.61" y="230.00" width="2.65" height="3.80" fill="#a83428"/>
<rect x="401.61" y="233.75" width="2.65" height="1.84" fill="#b4e8a2"/>
<rect x="401.61" y="235.54" width="2.65" height="1.30" fill="#ecc476"/>
<rect x="401.61" y="236.79" width="2.65" height="16.53" fill="#a6e2c6"/>
<rect x="401.61" y="253.27" width="2.65" height="13.00" fill="#f07a1e"/>
<rect x="401.61" y="266.22" width="2.65" height="5.53" fill="#9be0e2"/>
<rect x="404.21" y="230.00" width="2.65" height="5.03" fill="#a83428"/>
<rect x="404.21" y="234.98" width="2.65" height="3.09" fill="#b4e8a2"/>
<rect x="404.21" y="238.02" width="2.65" height="2.78" fill="#ecc476"/>
<rect x="404.21" y="240.75" width="2.65" height="16.86" fill="#a6e2c6"/>
<rect x="404.21" y="257.56" width="2.65" height="6.94" fill="#f07a1e"/>
<rect x="404.21" y="264.45" width="2.65" height="7.30" fill="#9be0e2"/>
<rect x="406.81" y="230.00" width="2.65" height="4.17" fill="#a83428"/>
<rect x="406.81" y="234.12" width="2.65" height="2.34" fill="#b4e8a2"/>
<rect x="406.81" y="236.41" width="2.65" height="1.30" fill="#ecc476"/>
<rect x="406.81" y="237.66" width="2.65" height="14.65" fill="#a6e2c6"/>
<rect x="406.81" y="252.26" width="2.65" height="14.80" fill="#f07a1e"/>
<rect x="406.81" y="267.01" width="2.65" height="4.74" fill="#9be0e2"/>
<rect x="409.42" y="230.00" width="2.65" height="1.82" fill="#a83428"/>
<rect x="409.42" y="231.77" width="2.65" height="2.39" fill="#b4e8a2"/>
<rect x="409.42" y="234.11" width="2.65" height="7.38" fill="#ecc476"/>
<rect x="409.42" y="241.43" width="2.65" height="13.34" fill="#a6e2c6"/>
<rect x="409.42" y="254.73" width="2.65" height="8.65" fill="#f07a1e"/>
<rect x="409.42" y="263.32" width="2.65" height="8.43" fill="#9be0e2"/>
<rect x="412.02" y="230.00" width="2.65" height="4.05" fill="#a83428"/>
<rect x="412.02" y="234.00" width="2.65" height="2.13" fill="#b4e8a2"/>
<rect x="412.02" y="236.08" width="2.65" height="1.30" fill="#ecc476"/>
<rect x="412.02" y="237.33" width="2.65" height="15.89" fill="#a6e2c6"/>
<rect x="412.02" y="253.17" width="2.65" height="8.65" fill="#f07a1e"/>
<rect x="412.02" y="261.77" width="2.65" height="9.98" fill="#9be0e2"/>
<rect x="414.62" y="230.00" width="2.65" height="2.72" fill="#a83428"/>
<rect x="414.62" y="232.67" width="2.65" height="2.58" fill="#b4e8a2"/>
<rect x="414.62" y="235.20" width="2.65" height="1.30" fill="#ecc476"/>
<rect x="414.62" y="236.45" width="2.65" height="15.75" fill="#a6e2c6"/>
<rect x="414.62" y="252.16" width="2.65" height="10.79" fill="#f07a1e"/>
<rect x="414.62" y="262.89" width="2.65" height="8.86" fill="#9be0e2"/>
<rect x="417.23" y="230.00" width="2.65" height="4.74" fill="#a83428"/>
<rect x="417.23" y="234.69" width="2.65" height="2.54" fill="#b4e8a2"/>
<rect x="417.23" y="237.17" width="2.65" height="1.30" fill="#ecc476"/>
<rect x="417.23" y="238.43" width="2.65" height="14.75" fill="#a6e2c6"/>
<rect x="417.23" y="253.12" width="2.65" height="13.34" fill="#f07a1e"/>
<rect x="417.23" y="266.41" width="2.65" height="5.34" fill="#9be0e2"/>
<rect x="419.83" y="230.00" width="2.65" height="2.38" fill="#a83428"/>
<rect x="419.83" y="232.33" width="2.65" height="1.96" fill="#b4e8a2"/>
<rect x="419.83" y="234.24" width="2.65" height="7.56" fill="#ecc476"/>
<rect x="419.83" y="241.76" width="2.65" height="16.60" fill="#a6e2c6"/>
<rect x="419.83" y="258.31" width="2.65" height="9.92" fill="#f07a1e"/>
<rect x="419.83" y="268.17" width="2.65" height="3.58" fill="#9be0e2"/>
<rect x="422.43" y="230.00" width="2.65" height="4.65" fill="#a83428"/>
<rect x="422.43" y="234.60" width="2.65" height="1.85" fill="#b4e8a2"/>
<rect x="422.43" y="236.40" width="2.65" height="2.53" fill="#ecc476"/>
<rect x="422.43" y="238.88" width="2.65" height="14.19" fill="#a6e2c6"/>
<rect x="422.43" y="253.02" width="2.65" height="12.24" fill="#f07a1e"/>
<rect x="422.43" y="265.21" width="2.65" height="6.54" fill="#9be0e2"/>
<rect x="425.03" y="230.00" width="2.65" height="4.51" fill="#a83428"/>
<rect x="425.03" y="234.46" width="2.65" height="3.01" fill="#b4e8a2"/>
<rect x="425.03" y="237.42" width="2.65" height="3.60" fill="#ecc476"/>
<rect x="425.03" y="240.97" width="2.65" height="16.39" fill="#a6e2c6"/>
<rect x="425.03" y="257.31" width="2.65" height="11.17" fill="#f07a1e"/>
<rect x="425.03" y="268.43" width="2.65" height="3.32" fill="#9be0e2"/>
<rect x="427.64" y="230.00" width="2.65" height="2.64" fill="#a83428"/>
<rect x="427.64" y="232.59" width="2.65" height="1.31" fill="#b4e8a2"/>
<rect x="427.64" y="233.85" width="2.65" height="2.51" fill="#ecc476"/>
<rect x="427.64" y="236.30" width="2.65" height="17.26" fill="#a6e2c6"/>
<rect x="427.64" y="253.51" width="2.65" height="11.16" fill="#f07a1e"/>
<rect x="427.64" y="264.63" width="2.65" height="7.12" fill="#9be0e2"/>
<rect x="430.24" y="230.00" width="2.65" height="3.81" fill="#a83428"/>
<rect x="430.24" y="233.76" width="2.65" height="2.12" fill="#b4e8a2"/>
<rect x="430.24" y="235.83" width="2.65" height="5.87" fill="#ecc476"/>
<rect x="430.24" y="241.65" width="2.65" height="11.82" fill="#a6e2c6"/>
<rect x="430.24" y="253.41" width="2.65" height="14.28" fill="#f07a1e"/>
<rect x="430.24" y="267.64" width="2.65" height="4.11" fill="#9be0e2"/>
<rect x="432.84" y="230.00" width="2.65" height="4.99" fill="#a83428"/>
<rect x="432.84" y="234.94" width="2.65" height="2.02" fill="#b4e8a2"/>
<rect x="432.84" y="236.91" width="2.65" height="5.81" fill="#ecc476"/>
<rect x="432.84" y="242.67" width="2.65" height="16.46" fill="#a6e2c6"/>
<rect x="432.84" y="259.08" width="2.65" height="2.96" fill="#f07a1e"/>
<rect x="432.84" y="261.99" width="2.65" height="9.76" fill="#9be0e2"/>
<rect x="435.45" y="230.00" width="2.65" height="4.08" fill="#a83428"/>
<rect x="435.45" y="234.03" width="2.65" height="2.31" fill="#b4e8a2"/>
<rect x="435.45" y="236.29" width="2.65" height="5.44" fill="#ecc476"/>
<rect x="435.45" y="241.68" width="2.65" height="13.39" fill="#a6e2c6"/>
<rect x="435.45" y="255.02" width="2.65" height="12.34" fill="#f07a1e"/>
<rect x="435.45" y="267.30" width="2.65" height="4.45" fill="#9be0e2"/>
<rect x="438.05" y="230.00" width="2.65" height="1.78" fill="#a83428"/>
<rect x="438.05" y="231.73" width="2.65" height="1.22" fill="#b4e8a2"/>
<rect x="438.05" y="232.91" width="2.65" height="4.34" fill="#ecc476"/>
<rect x="438.05" y="237.19" width="2.65" height="21.97" fill="#a6e2c6"/>
<rect x="438.05" y="259.12" width="2.65" height="4.31" fill="#f07a1e"/>
<rect x="438.05" y="263.37" width="2.65" height="8.38" fill="#9be0e2"/>
<rect x="440.65" y="230.00" width="2.65" height="2.19" fill="#a83428"/>
<rect x="440.65" y="232.14" width="2.65" height="1.00" fill="#b4e8a2"/>
<rect x="440.65" y="233.09" width="2.65" height="5.26" fill="#ecc476"/>
<rect x="440.65" y="238.30" width="2.65" height="20.05" fill="#a6e2c6"/>
<rect x="440.65" y="258.30" width="2.65" height="6.61" fill="#f07a1e"/>
<rect x="440.65" y="264.86" width="2.65" height="6.89" fill="#9be0e2"/>
<rect x="443.26" y="230.00" width="2.65" height="3.82" fill="#a83428"/>
<rect x="443.26" y="233.77" width="2.65" height="2.52" fill="#b4e8a2"/>
<rect x="443.26" y="236.24" width="2.65" height="8.02" fill="#ecc476"/>
<rect x="443.26" y="244.22" width="2.65" height="14.45" fill="#a6e2c6"/>
<rect x="443.26" y="258.62" width="2.65" height="4.54" fill="#f07a1e"/>
<rect x="443.26" y="263.11" width="2.65" height="8.64" fill="#9be0e2"/>
<rect x="445.86" y="230.00" width="2.65" height="3.30" fill="#a83428"/>
<rect x="445.86" y="233.25" width="2.65" height="1.33" fill="#b4e8a2"/>
<rect x="445.86" y="234.53" width="2.65" height="1.30" fill="#ecc476"/>
<rect x="445.86" y="235.79" width="2.65" height="16.10" fill="#a6e2c6"/>
<rect x="445.86" y="251.83" width="2.65" height="13.26" fill="#f07a1e"/>
<rect x="445.86" y="265.04" width="2.65" height="6.71" fill="#9be0e2"/>
<rect x="448.46" y="230.00" width="2.65" height="4.10" fill="#a83428"/>
<rect x="448.46" y="234.05" width="2.65" height="1.33" fill="#b4e8a2"/>
<rect x="448.46" y="235.33" width="2.65" height="4.62" fill="#ecc476"/>
<rect x="448.46" y="239.91" width="2.65" height="16.95" fill="#a6e2c6"/>
<rect x="448.46" y="256.81" width="2.65" height="8.62" fill="#f07a1e"/>
<rect x="448.46" y="265.38" width="2.65" height="6.37" fill="#9be0e2"/>
<rect x="451.06" y="230.00" width="2.65" height="3.77" fill="#a83428"/>
<rect x="451.06" y="233.72" width="2.65" height="2.78" fill="#b4e8a2"/>
<rect x="451.06" y="236.44" width="2.65" height="8.10" fill="#ecc476"/>
<rect x="451.06" y="244.49" width="2.65" height="10.76" fill="#a6e2c6"/>
<rect x="451.06" y="255.20" width="2.65" height="12.16" fill="#f07a1e"/>
<rect x="451.06" y="267.31" width="2.65" height="4.44" fill="#9be0e2"/>
<rect x="453.67" y="230.00" width="2.65" height="4.74" fill="#a83428"/>
<rect x="453.67" y="234.69" width="2.65" height="1.10" fill="#b4e8a2"/>
<rect x="453.67" y="235.74" width="2.65" height="9.92" fill="#ecc476"/>
<rect x="453.67" y="245.62" width="2.65" height="6.46" fill="#a6e2c6"/>
<rect x="453.67" y="252.02" width="2.65" height="12.93" fill="#f07a1e"/>
<rect x="453.67" y="264.91" width="2.65" height="6.84" fill="#9be0e2"/>
<rect x="456.27" y="230.00" width="2.65" height="3.80" fill="#a83428"/>
<rect x="456.27" y="233.75" width="2.65" height="3.16" fill="#b4e8a2"/>
<rect x="456.27" y="236.87" width="2.65" height="2.86" fill="#ecc476"/>
<rect x="456.27" y="239.67" width="2.65" height="13.97" fill="#a6e2c6"/>
<rect x="456.27" y="253.59" width="2.65" height="12.18" fill="#f07a1e"/>
<rect x="456.27" y="265.72" width="2.65" height="6.03" fill="#9be0e2"/>
<rect x="458.87" y="230.00" width="2.65" height="4.65" fill="#a83428"/>
<rect x="458.87" y="234.60" width="2.65" height="2.88" fill="#b4e8a2"/>
<rect x="458.87" y="237.43" width="2.65" height="8.55" fill="#ecc476"/>
<rect x="458.87" y="245.93" width="2.65" height="10.99" fill="#a6e2c6"/>
<rect x="458.87" y="256.87" width="2.65" height="6.33" fill="#f07a1e"/>
<rect x="458.87" y="263.14" width="2.65" height="8.61" fill="#9be0e2"/>
<rect x="461.48" y="230.00" width="2.65" height="4.13" fill="#a83428"/>
<rect x="461.48" y="234.08" width="2.65" height="2.93" fill="#b4e8a2"/>
<rect x="461.48" y="236.96" width="2.65" height="3.78" fill="#ecc476"/>
<rect x="461.48" y="240.68" width="2.65" height="17.12" fill="#a6e2c6"/>
<rect x="461.48" y="257.75" width="2.65" height="9.08" fill="#f07a1e"/>
<rect x="461.48" y="266.78" width="2.65" height="4.97" fill="#9be0e2"/>
<rect x="464.08" y="230.00" width="2.65" height="2.43" fill="#a83428"/>
<rect x="464.08" y="232.38" width="2.65" height="3.14" fill="#b4e8a2"/>
<rect x="464.08" y="235.47" width="2.65" height="14.17" fill="#ecc476"/>
<rect x="464.08" y="249.58" width="2.65" height="7.41" fill="#a6e2c6"/>
<rect x="464.08" y="256.95" width="2.65" height="10.40" fill="#f07a1e"/>
<rect x="464.08" y="267.30" width="2.65" height="4.45" fill="#9be0e2"/>
<rect x="466.68" y="230.00" width="2.65" height="2.79" fill="#a83428"/>
<rect x="466.68" y="232.74" width="2.65" height="3.16" fill="#b4e8a2"/>
<rect x="466.68" y="235.85" width="2.65" height="3.93" fill="#ecc476"/>
<rect x="466.68" y="239.73" width="2.65" height="20.28" fill="#a6e2c6"/>
<rect x="466.68" y="259.96" width="2.65" height="4.25" fill="#f07a1e"/>
<rect x="466.68" y="264.16" width="2.65" height="7.59" fill="#9be0e2"/>
<rect x="469.29" y="230.00" width="2.65" height="1.99" fill="#a83428"/>
<rect x="469.29" y="231.94" width="2.65" height="1.99" fill="#b4e8a2"/>
<rect x="469.29" y="233.88" width="2.65" height="1.30" fill="#ecc476"/>
<rect x="469.29" y="235.13" width="2.65" height="22.02" fill="#a6e2c6"/>
<rect x="469.29" y="257.10" width="2.65" height="4.84" fill="#f07a1e"/>
<rect x="469.29" y="261.89" width="2.65" height="9.86" fill="#9be0e2"/>
<rect x="471.89" y="230.00" width="2.65" height="4.42" fill="#a83428"/>
<rect x="471.89" y="234.37" width="2.65" height="1.04" fill="#b4e8a2"/>
<rect x="471.89" y="235.36" width="2.65" height="3.28" fill="#ecc476"/>
<rect x="471.89" y="238.59" width="2.65" height="20.90" fill="#a6e2c6"/>
<rect x="471.89" y="259.44" width="2.65" height="3.53" fill="#f07a1e"/>
<rect x="471.89" y="262.92" width="2.65" height="8.83" fill="#9be0e2"/>
<rect x="474.49" y="230.00" width="2.65" height="2.84" fill="#a83428"/>
<rect x="474.49" y="232.79" width="2.65" height="2.86" fill="#b4e8a2"/>
<rect x="474.49" y="235.59" width="2.65" height="6.26" fill="#ecc476"/>
<rect x="474.49" y="241.80" width="2.65" height="15.50" fill="#a6e2c6"/>
<rect x="474.49" y="257.24" width="2.65" height="9.63" fill="#f07a1e"/>
<rect x="474.49" y="266.82" width="2.65" height="4.93" fill="#9be0e2"/>
<rect x="477.09" y="230.00" width="2.65" height="4.52" fill="#a83428"/>
<rect x="477.09" y="234.47" width="2.65" height="2.61" fill="#b4e8a2"/>
<rect x="477.09" y="237.03" width="2.65" height="6.52" fill="#ecc476"/>
<rect x="477.09" y="243.50" width="2.65" height="17.53" fill="#a6e2c6"/>
<rect x="477.09" y="260.97" width="2.65" height="4.26" fill="#f07a1e"/>
<rect x="477.09" y="265.18" width="2.65" height="6.57" fill="#9be0e2"/>
<rect x="479.70" y="230.00" width="2.65" height="4.88" fill="#a83428"/>
<rect x="479.70" y="234.83" width="2.65" height="1.10" fill="#b4e8a2"/>
<rect x="479.70" y="235.88" width="2.65" height="5.78" fill="#ecc476"/>
<rect x="479.70" y="241.62" width="2.65" height="13.82" fill="#a6e2c6"/>
<rect x="479.70" y="255.39" width="2.65" height="11.52" fill="#f07a1e"/>
<rect x="479.70" y="266.86" width="2.65" height="4.89" fill="#9be0e2"/>
<rect x="482.30" y="230.00" width="2.65" height="3.85" fill="#a83428"/>
<rect x="482.30" y="233.80" width="2.65" height="2.19" fill="#b4e8a2"/>
<rect x="482.30" y="235.94" width="2.65" height="9.07" fill="#ecc476"/>
<rect x="482.30" y="244.96" width="2.65" height="14.46" fill="#a6e2c6"/>
<rect x="482.30" y="259.37" width="2.65" height="6.34" fill="#f07a1e"/>
<rect x="482.30" y="265.66" width="2.65" height="6.09" fill="#9be0e2"/>
<rect x="484.90" y="230.00" width="2.65" height="2.76" fill="#a83428"/>
<rect x="484.90" y="232.71" width="2.65" height="1.84" fill="#b4e8a2"/>
<rect x="484.90" y="234.50" width="2.65" height="9.09" fill="#ecc476"/>
<rect x="484.90" y="243.54" width="2.65" height="10.59" fill="#a6e2c6"/>
<rect x="484.90" y="254.07" width="2.65" height="13.70" fill="#f07a1e"/>
<rect x="484.90" y="267.72" width="2.65" height="4.03" fill="#9be0e2"/>
<rect x="487.51" y="230.00" width="2.65" height="4.95" fill="#a83428"/>
<rect x="487.51" y="234.90" width="2.65" height="2.20" fill="#b4e8a2"/>
<rect x="487.51" y="237.04" width="2.65" height="1.30" fill="#ecc476"/>
<rect x="487.51" y="238.30" width="2.65" height="17.97" fill="#a6e2c6"/>
<rect x="487.51" y="256.21" width="2.65" height="6.95" fill="#f07a1e"/>
<rect x="487.51" y="263.12" width="2.65" height="8.63" fill="#9be0e2"/>
<rect x="490.11" y="230.00" width="2.65" height="3.51" fill="#a83428"/>
<rect x="490.11" y="233.46" width="2.65" height="2.14" fill="#b4e8a2"/>
<rect x="490.11" y="235.55" width="2.65" height="4.43" fill="#ecc476"/>
<rect x="490.11" y="239.93" width="2.65" height="21.02" fill="#a6e2c6"/>
<rect x="490.11" y="260.90" width="2.65" height="4.50" fill="#f07a1e"/>
<rect x="490.11" y="265.35" width="2.65" height="6.40" fill="#9be0e2"/>
<rect x="492.71" y="230.00" width="2.65" height="3.05" fill="#a83428"/>
<rect x="492.71" y="233.00" width="2.65" height="2.89" fill="#b4e8a2"/>
<rect x="492.71" y="235.84" width="2.65" height="4.57" fill="#ecc476"/>
<rect x="492.71" y="240.36" width="2.65" height="17.85" fill="#a6e2c6"/>
<rect x="492.71" y="258.16" width="2.65" height="7.07" fill="#f07a1e"/>
<rect x="492.71" y="265.17" width="2.65" height="6.58" fill="#9be0e2"/>
<rect x="495.32" y="230.00" width="2.65" height="4.02" fill="#a83428"/>
<rect x="495.32" y="233.97" width="2.65" height="1.05" fill="#b4e8a2"/>
<rect x="495.32" y="234.97" width="2.65" height="1.71" fill="#ecc476"/>
<rect x="495.32" y="236.63" width="2.65" height="24.78" fill="#a6e2c6"/>
<rect x="495.32" y="261.36" width="2.65" height="6.93" fill="#f07a1e"/>
<rect x="495.32" y="268.24" width="2.65" height="3.51" fill="#9be0e2"/>
<rect x="497.92" y="230.00" width="2.65" height="2.62" fill="#a83428"/>
<rect x="497.92" y="232.57" width="2.65" height="2.07" fill="#b4e8a2"/>
<rect x="497.92" y="234.58" width="2.65" height="4.22" fill="#ecc476"/>
<rect x="497.92" y="238.76" width="2.65" height="15.13" fill="#a6e2c6"/>
<rect x="497.92" y="253.84" width="2.65" height="10.98" fill="#f07a1e"/>
<rect x="497.92" y="264.77" width="2.65" height="6.98" fill="#9be0e2"/>
<rect x="500.52" y="230.00" width="2.65" height="4.44" fill="#a83428"/>
<rect x="500.52" y="234.39" width="2.65" height="3.14" fill="#b4e8a2"/>
<rect x="500.52" y="237.48" width="2.65" height="2.17" fill="#ecc476"/>
<rect x="500.52" y="239.60" width="2.65" height="12.70" fill="#a6e2c6"/>
<rect x="500.52" y="252.24" width="2.65" height="13.88" fill="#f07a1e"/>
<rect x="500.52" y="266.07" width="2.65" height="5.68" fill="#9be0e2"/>
<rect x="503.12" y="230.00" width="2.65" height="4.80" fill="#a83428"/>
<rect x="503.12" y="234.75" width="2.65" height="1.21" fill="#b4e8a2"/>
<rect x="503.12" y="235.91" width="2.65" height="5.48" fill="#ecc476"/>
<rect x="503.12" y="241.34" width="2.65" height="16.48" fill="#a6e2c6"/>
<rect x="503.12" y="257.77" width="2.65" height="4.13" fill="#f07a1e"/>
<rect x="503.12" y="261.85" width="2.65" height="9.90" fill="#9be0e2"/>
<rect x="505.73" y="230.00" width="2.65" height="2.37" fill="#a83428"/>
<rect x="505.73" y="232.32" width="2.65" height="1.45" fill="#b4e8a2"/>
<rect x="505.73" y="233.72" width="2.65" height="3.92" fill="#ecc476"/>
<rect x="505.73" y="237.59" width="2.65" height="17.56" fill="#a6e2c6"/>
<rect x="505.73" y="255.10" width="2.65" height="11.04" fill="#f07a1e"/>
<rect x="505.73" y="266.09" width="2.65" height="5.66" fill="#9be0e2"/>
<rect x="508.33" y="230.00" width="2.65" height="2.07" fill="#a83428"/>
<rect x="508.33" y="232.02" width="2.65" height="2.71" fill="#b4e8a2"/>
<rect x="508.33" y="234.68" width="2.65" height="2.34" fill="#ecc476"/>
<rect x="508.33" y="236.97" width="2.65" height="15.00" fill="#a6e2c6"/>
<rect x="508.33" y="251.92" width="2.65" height="13.44" fill="#f07a1e"/>
<rect x="508.33" y="265.31" width="2.65" height="6.44" fill="#9be0e2"/>
<rect x="510.93" y="230.00" width="2.65" height="2.55" fill="#a83428"/>
<rect x="510.93" y="232.50" width="2.65" height="1.38" fill="#b4e8a2"/>
<rect x="510.93" y="233.83" width="2.65" height="1.54" fill="#ecc476"/>
<rect x="510.93" y="235.33" width="2.65" height="18.27" fill="#a6e2c6"/>
<rect x="510.93" y="253.55" width="2.65" height="11.12" fill="#f07a1e"/>
<rect x="510.93" y="264.62" width="2.65" height="7.13" fill="#9be0e2"/>
<rect x="513.54" y="230.00" width="2.65" height="3.48" fill="#a83428"/>
<rect x="513.54" y="233.43" width="2.65" height="1.28" fill="#b4e8a2"/>
<rect x="513.54" y="234.67" width="2.65" height="4.38" fill="#ecc476"/>
<rect x="513.54" y="238.99" width="2.65" height="13.34" fill="#a6e2c6"/>
<rect x="513.54" y="252.29" width="2.65" height="13.93" fill="#f07a1e"/>
<rect x="513.54" y="266.17" width="2.65" height="5.58" fill="#9be0e2"/>
<rect x="516.14" y="230.00" width="2.65" height="3.85" fill="#a83428"/>
<rect x="516.14" y="233.80" width="2.65" height="2.21" fill="#b4e8a2"/>
<rect x="516.14" y="235.96" width="2.65" height="7.78" fill="#ecc476"/>
<rect x="516.14" y="243.69" width="2.65" height="14.94" fill="#a6e2c6"/>
<rect x="516.14" y="258.57" width="2.65" height="4.82" fill="#f07a1e"/>
<rect x="516.14" y="263.34" width="2.65" height="8.41" fill="#9be0e2"/>
<rect x="518.74" y="230.00" width="2.65" height="4.19" fill="#a83428"/>
<rect x="518.74" y="234.14" width="2.65" height="2.91" fill="#b4e8a2"/>
<rect x="518.74" y="237.00" width="2.65" height="1.36" fill="#ecc476"/>
<rect x="518.74" y="238.31" width="2.65" height="22.67" fill="#a6e2c6"/>
<rect x="518.74" y="260.93" width="2.65" height="3.05" fill="#f07a1e"/>
<rect x="518.74" y="263.93" width="2.65" height="7.82" fill="#9be0e2"/>
<rect x="521.35" y="230.00" width="2.65" height="2.77" fill="#a83428"/>
<rect x="521.35" y="232.72" width="2.65" height="3.19" fill="#b4e8a2"/>
<rect x="521.35" y="235.86" width="2.65" height="7.43" fill="#ecc476"/>
<rect x="521.35" y="243.24" width="2.65" height="18.29" fill="#a6e2c6"/>
<rect x="521.35" y="261.48" width="2.65" height="1.30" fill="#f07a1e"/>
<rect x="521.35" y="262.73" width="2.65" height="9.02" fill="#9be0e2"/>
<rect x="523.95" y="230.00" width="2.65" height="2.52" fill="#a83428"/>
<rect x="523.95" y="232.47" width="2.65" height="2.70" fill="#b4e8a2"/>
<rect x="523.95" y="235.12" width="2.65" height="16.76" fill="#ecc476"/>
<rect x="523.95" y="251.83" width="2.65" height="3.45" fill="#a6e2c6"/>
<rect x="523.95" y="255.23" width="2.65" height="7.20" fill="#f07a1e"/>
<rect x="523.95" y="262.38" width="2.65" height="9.37" fill="#9be0e2"/>
<rect x="526.55" y="230.00" width="2.65" height="4.49" fill="#a83428"/>
<rect x="526.55" y="234.44" width="2.65" height="1.94" fill="#b4e8a2"/>
<rect x="526.55" y="236.33" width="2.65" height="5.48" fill="#ecc476"/>
<rect x="526.55" y="241.77" width="2.65" height="13.10" fill="#a6e2c6"/>
<rect x="526.55" y="254.82" width="2.65" height="11.78" fill="#f07a1e"/>
<rect x="526.55" y="266.55" width="2.65" height="5.20" fill="#9be0e2"/>
<rect x="529.16" y="230.00" width="2.65" height="1.78" fill="#a83428"/>
<rect x="529.16" y="231.73" width="2.65" height="1.39" fill="#b4e8a2"/>
<rect x="529.16" y="233.06" width="2.65" height="3.38" fill="#ecc476"/>
<rect x="529.16" y="236.39" width="2.65" height="21.21" fill="#a6e2c6"/>
<rect x="529.16" y="257.55" width="2.65" height="10.65" fill="#f07a1e"/>
<rect x="529.16" y="268.15" width="2.65" height="3.60" fill="#9be0e2"/>
<rect x="531.76" y="230.00" width="2.65" height="4.95" fill="#a83428"/>
<rect x="531.76" y="234.90" width="2.65" height="1.17" fill="#b4e8a2"/>
<rect x="531.76" y="236.02" width="2.65" height="1.30" fill="#ecc476"/>
<rect x="531.76" y="237.27" width="2.65" height="19.32" fill="#a6e2c6"/>
<rect x="531.76" y="256.54" width="2.65" height="10.06" fill="#f07a1e"/>
<rect x="531.76" y="266.55" width="2.65" height="5.20" fill="#9be0e2"/>
<rect x="534.36" y="230.00" width="2.65" height="2.35" fill="#a83428"/>
<rect x="534.36" y="232.30" width="2.65" height="1.06" fill="#b4e8a2"/>
<rect x="534.36" y="233.31" width="2.65" height="4.85" fill="#ecc476"/>
<rect x="534.36" y="238.11" width="2.65" height="14.12" fill="#a6e2c6"/>
<rect x="534.36" y="252.18" width="2.65" height="9.83" fill="#f07a1e"/>
<rect x="534.36" y="261.96" width="2.65" height="9.79" fill="#9be0e2"/>
<rect x="536.96" y="230.00" width="2.65" height="18.82" fill="#a83428"/>
<rect x="536.96" y="248.76" width="2.65" height="2.17" fill="#b4e8a2"/>
<rect x="536.96" y="250.89" width="2.65" height="3.35" fill="#ecc476"/>
<rect x="536.96" y="254.19" width="2.65" height="-2.46" fill="#a6e2c6"/>
<rect x="536.96" y="251.68" width="2.65" height="11.51" fill="#f07a1e"/>
<rect x="536.96" y="263.14" width="2.65" height="8.61" fill="#9be0e2"/>
<rect x="539.57" y="230.00" width="2.65" height="4.52" fill="#a83428"/>
<rect x="539.57" y="234.47" width="2.65" height="3.36" fill="#b4e8a2"/>
<rect x="539.57" y="237.78" width="2.65" height="4.27" fill="#ecc476"/>
<rect x="539.57" y="242.00" width="2.65" height="17.16" fill="#a6e2c6"/>
<rect x="539.57" y="259.11" width="2.65" height="3.31" fill="#f07a1e"/>
<rect x="539.57" y="262.37" width="2.65" height="9.38" fill="#9be0e2"/>
<rect x="542.17" y="230.00" width="2.65" height="1.92" fill="#a83428"/>
<rect x="542.17" y="231.87" width="2.65" height="3.26" fill="#b4e8a2"/>
<rect x="542.17" y="235.09" width="2.65" height="1.30" fill="#ecc476"/>
<rect x="542.17" y="236.34" width="2.65" height="18.92" fill="#a6e2c6"/>
<rect x="542.17" y="255.21" width="2.65" height="9.85" fill="#f07a1e"/>
<rect x="542.17" y="265.00" width="2.65" height="6.75" fill="#9be0e2"/>
<rect x="544.77" y="230.00" width="2.65" height="3.44" fill="#a83428"/>
<rect x="544.77" y="233.39" width="2.65" height="1.96" fill="#b4e8a2"/>
<rect x="544.77" y="235.30" width="2.65" height="6.39" fill="#ecc476"/>
<rect x="544.77" y="241.64" width="2.65" height="15.25" fill="#a6e2c6"/>
<rect x="544.77" y="256.84" width="2.65" height="5.00" fill="#f07a1e"/>
<rect x="544.77" y="261.79" width="2.65" height="9.96" fill="#9be0e2"/>
<rect x="547.38" y="230.00" width="2.65" height="4.06" fill="#a83428"/>
<rect x="547.38" y="234.01" width="2.65" height="3.00" fill="#b4e8a2"/>
<rect x="547.38" y="236.95" width="2.65" height="6.59" fill="#ecc476"/>
<rect x="547.38" y="243.49" width="2.65" height="15.30" fill="#a6e2c6"/>
<rect x="547.38" y="258.74" width="2.65" height="5.88" fill="#f07a1e"/>
<rect x="547.38" y="264.57" width="2.65" height="7.18" fill="#9be0e2"/>
<rect x="549.98" y="230.00" width="2.65" height="2.37" fill="#a83428"/>
<rect x="549.98" y="232.32" width="2.65" height="1.30" fill="#b4e8a2"/>
<rect x="549.98" y="233.57" width="2.65" height="8.39" fill="#ecc476"/>
<rect x="549.98" y="241.90" width="2.65" height="15.14" fill="#a6e2c6"/>
<rect x="549.98" y="256.99" width="2.65" height="4.86" fill="#f07a1e"/>
<rect x="549.98" y="261.80" width="2.65" height="9.95" fill="#9be0e2"/>
<rect x="552.58" y="230.00" width="2.65" height="4.70" fill="#a83428"/>
<rect x="552.58" y="234.65" width="2.65" height="2.89" fill="#b4e8a2"/>
<rect x="552.58" y="237.49" width="2.65" height="3.19" fill="#ecc476"/>
<rect x="552.58" y="240.63" width="2.65" height="17.08" fill="#a6e2c6"/>
<rect x="552.58" y="257.66" width="2.65" height="6.95" fill="#f07a1e"/>
<rect x="552.58" y="264.56" width="2.65" height="7.19" fill="#9be0e2"/>
<rect x="555.19" y="230.00" width="2.65" height="3.72" fill="#a83428"/>
<rect x="555.19" y="233.67" width="2.65" height="2.15" fill="#b4e8a2"/>
<rect x="555.19" y="235.76" width="2.65" height="1.30" fill="#ecc476"/>
<rect x="555.19" y="237.02" width="2.65" height="24.51" fill="#a6e2c6"/>
<rect x="555.19" y="261.47" width="2.65" height="5.97" fill="#f07a1e"/>
<rect x="555.19" y="267.40" width="2.65" height="4.35" fill="#9be0e2"/>
<rect x="557.79" y="230.00" width="2.65" height="2.58" fill="#a83428"/>
<rect x="557.79" y="232.53" width="2.65" height="3.16" fill="#b4e8a2"/>
<rect x="557.79" y="235.64" width="2.65" height="4.85" fill="#ecc476"/>
<rect x="557.79" y="240.45" width="2.65" height="20.51" fill="#a6e2c6"/>
<rect x="557.79" y="260.90" width="2.65" height="3.72" fill="#f07a1e"/>
<rect x="557.79" y="264.57" width="2.65" height="7.18" fill="#9be0e2"/>
<rect x="560.39" y="230.00" width="2.65" height="4.71" fill="#a83428"/>
<rect x="560.39" y="234.66" width="2.65" height="3.09" fill="#b4e8a2"/>
<rect x="560.39" y="237.69" width="2.65" height="1.30" fill="#ecc476"/>
<rect x="560.39" y="238.95" width="2.65" height="20.61" fill="#a6e2c6"/>
<rect x="560.39" y="259.50" width="2.65" height="7.68" fill="#f07a1e"/>
<rect x="560.39" y="267.13" width="2.65" height="4.62" fill="#9be0e2"/>
<rect x="562.99" y="230.00" width="2.65" height="4.27" fill="#a83428"/>
<rect x="562.99" y="234.22" width="2.65" height="1.90" fill="#b4e8a2"/>
<rect x="562.99" y="236.07" width="2.65" height="4.84" fill="#ecc476"/>
<rect x="562.99" y="240.86" width="2.65" height="14.67" fill="#a6e2c6"/>
<rect x="562.99" y="255.48" width="2.65" height="9.59" fill="#f07a1e"/>
<rect x="562.99" y="265.02" width="2.65" height="6.73" fill="#9be0e2"/>
<rect x="565.60" y="230.00" width="2.65" height="1.75" fill="#a83428"/>
<rect x="565.60" y="231.70" width="2.65" height="1.77" fill="#b4e8a2"/>
<rect x="565.60" y="233.43" width="2.65" height="3.80" fill="#ecc476"/>
<rect x="565.60" y="237.17" width="2.65" height="20.18" fill="#a6e2c6"/>
<rect x="565.60" y="257.30" width="2.65" height="8.86" fill="#f07a1e"/>
<rect x="565.60" y="266.12" width="2.65" height="5.63" fill="#9be0e2"/>
<rect x="568.20" y="230.00" width="2.65" height="2.49" fill="#a83428"/>
<rect x="568.20" y="232.44" width="2.65" height="3.25" fill="#b4e8a2"/>
<rect x="568.20" y="235.64" width="2.65" height="3.53" fill="#ecc476"/>
<rect x="568.20" y="239.12" width="2.65" height="19.00" fill="#a6e2c6"/>
<rect x="568.20" y="258.07" width="2.65" height="7.71" fill="#f07a1e"/>
<rect x="568.20" y="265.73" width="2.65" height="6.02" fill="#9be0e2"/>
<rect x="570.80" y="230.00" width="2.65" height="3.50" fill="#a83428"/>
<rect x="570.80" y="233.45" width="2.65" height="1.86" fill="#b4e8a2"/>
<rect x="570.80" y="235.26" width="2.65" height="2.44" fill="#ecc476"/>
<rect x="570.80" y="237.64" width="2.65" height="24.18" fill="#a6e2c6"/>
<rect x="570.80" y="261.77" width="2.65" height="4.52" fill="#f07a1e"/>
<rect x="570.80" y="266.25" width="2.65" height="5.50" fill="#9be0e2"/>
<rect x="573.41" y="230.00" width="2.65" height="4.06" fill="#a83428"/>
<rect x="573.41" y="234.01" width="2.65" height="2.79" fill="#b4e8a2"/>
<rect x="573.41" y="236.75" width="2.65" height="5.77" fill="#ecc476"/>
<rect x="573.41" y="242.46" width="2.65" height="16.54" fill="#a6e2c6"/>
<rect x="573.41" y="258.95" width="2.65" height="8.03" fill="#f07a1e"/>
<rect x="573.41" y="266.93" width="2.65" height="4.82" fill="#9be0e2"/>
<rect x="576.01" y="230.00" width="2.65" height="2.57" fill="#a83428"/>
<rect x="576.01" y="232.52" width="2.65" height="1.89" fill="#b4e8a2"/>
<rect x="576.01" y="234.36" width="2.65" height="4.96" fill="#ecc476"/>
<rect x="576.01" y="239.28" width="2.65" height="13.11" fill="#a6e2c6"/>
<rect x="576.01" y="252.34" width="2.65" height="10.79" fill="#f07a1e"/>
<rect x="576.01" y="263.08" width="2.65" height="8.67" fill="#9be0e2"/>
<rect x="280.50" y="280.00" width="3.00" height="3.00" fill="#b98a8a"/>
<text x="288.4" y="284.6" font-size="8.5">Missense_Mutation</text>
<rect x="280.50" y="289.17" width="3.00" height="3.00" fill="#3a78c2"/>
<text x="288.4" y="293.7" font-size="8.5">Nonsense_Mutation</text>
<rect x="280.50" y="298.34" width="3.00" height="3.00" fill="#45b8ae"/>
<text x="288.4" y="302.9" font-size="8.5">Splice_Site</text>
<rect x="280.50" y="307.51" width="3.00" height="3.00" fill="#b4e88e"/>
<text x="288.4" y="312.1" font-size="8.5">Frame_Shift_Del</text>
<rect x="363.10" y="280.00" width="3.00" height="3.00" fill="#f5a62a"/>
<text x="372.0" y="284.6" font-size="8.5">In_Frame_Del</text>
<rect x="363.10" y="289.17" width="3.00" height="3.00" fill="#9673dc"/>
<text x="372.0" y="293.7" font-size="8.5">Frame_Shift_Ins</text>
<rect x="363.10" y="298.34" width="3.00" height="3.00" fill="#f08585"/>
<text x="372.0" y="302.9" font-size="8.5">In_Frame_Ins</text>
<rect x="363.10" y="307.51" width="3.00" height="3.00" fill="#2c4db0"/>
<text x="372.0" y="312.1" font-size="8.5">Multi_Hit</text>
<rect x="606.90" y="243.50" width="3.00" height="3.00" fill="#a6e2c6"/>
<text x="615.2" y="248.1" font-size="8.5">C&gt;T</text>
<rect x="606.90" y="252.50" width="3.00" height="3.00" fill="#f07a1e"/>
<text x="615.2" y="257.1" font-size="8.5">C&gt;G</text>
<rect x="606.90" y="261.50" width="3.00" height="3.00" fill="#9be0e2"/>
<text x="615.2" y="266.1" font-size="8.5">C&gt;A</text>
<rect x="637.10" y="243.50" width="3.00" height="3.00" fill="#b4e8a2"/>
<text x="645.3" y="248.1" font-size="8.5">T&gt;A</text>
<rect x="637.10" y="252.50" width="3.00" height="3.00" fill="#ecc476"/>
<text x="645.3" y="257.1" font-size="8.5">T&gt;C</text>
<rect x="637.10" y="261.50" width="3.00" height="3.00" fill="#a83428"/>
<text x="645.3" y="266.1" font-size="8.5">T&gt;G</text>
<text x="459.6" y="285.1" font-size="8.7">Stage</text>
<text x="516.0" y="285.1" font-size="8.7">Mstage</text>
<text x="545.8" y="285.1" font-size="8.7">Nstage</text>
<text x="581.2" y="285.1" font-size="8.7">Tstage</text>
<text x="615.8" y="285.1" font-size="8.7">Age</text>
<text x="651.0" y="285.1" font-size="8.7">OS</text>
<rect x="463.70" y="292.10" width="3.00" height="3.00" fill="#3e8a58"/>
<text x="473.6" y="296.7" font-size="8.6">StageI−II</text>
<rect x="463.70" y="301.20" width="3.00" height="3.00" fill="#e066b0"/>
<text x="473.6" y="305.8" font-size="8.6">StageIII−IV</text>
<rect x="463.70" y="310.30" width="3.00" height="3.00" fill="#000"/>
<text x="473.6" y="314.9" font-size="8.6">unknown</text>
<rect x="521.90" y="292.10" width="3.00" height="3.00" fill="#c9e8f6"/>
<text x="530.6" y="296.7" font-size="8.6">M0</text>
<rect x="521.90" y="301.20" width="3.00" height="3.00" fill="#f08a78"/>
<text x="530.6" y="305.8" font-size="8.6">M1</text>
<rect x="550.70" y="292.10" width="3.00" height="3.00" fill="#8fd9e2"/>
<text x="558.8" y="296.7" font-size="8.6">N0</text>
<rect x="550.70" y="301.20" width="3.00" height="3.00" fill="#e052b2"/>
<text x="558.8" y="305.8" font-size="8.6">N1−3</text>
<rect x="586.20" y="292.10" width="3.00" height="3.00" fill="#c4f0b8"/>
<text x="594.6" y="296.7" font-size="8.6">T1−2</text>
<rect x="586.20" y="301.20" width="3.00" height="3.00" fill="#f5a02e"/>
<text x="594.6" y="305.8" font-size="8.6">T3−4</text>
<rect x="621.40" y="292.10" width="3.00" height="3.00" fill="#9bc9e8"/>
<text x="630.1" y="296.7" font-size="8.6">&lt;=55</text>
<rect x="621.40" y="301.20" width="3.00" height="3.00" fill="#a0322a"/>
<text x="630.1" y="305.8" font-size="8.6">&gt;55</text>
<rect x="655.90" y="292.10" width="3.00" height="3.00" fill="#fdf4dc"/>
<text x="664.6" y="296.7" font-size="8.6">0</text>
<rect x="655.90" y="301.20" width="3.00" height="3.00" fill="#e03c2e"/>
<text x="664.6" y="305.8" font-size="8.6">1</text>
</g>
<g id="panel-c">
<text x="0.0" y="187.4" font-size="16">c</text>
<text x="165.0" y="196.2" font-size="9.9" text-anchor="middle">Cluster Dendrogram</text>
<line x1="61.30" y1="206.40" x2="61.30" y2="293.90" stroke="#000" stroke-width="0.7"/>
<line x1="58.30" y1="206.40" x2="61.30" y2="206.40" stroke="#000" stroke-width="0.7"/>
<text x="53.0" y="206.4" font-size="7.5" text-anchor="middle" transform="rotate(-90 53.0 206.4)">1.0</text>
<line x1="58.30" y1="223.90" x2="61.30" y2="223.90" stroke="#000" stroke-width="0.7"/>
<text x="53.0" y="223.9" font-size="7.5" text-anchor="middle" transform="rotate(-90 53.0 223.9)">0.9</text>
<line x1="58.30" y1="241.40" x2="61.30" y2="241.40" stroke="#000" stroke-width="0.7"/>
<text x="53.0" y="241.4" font-size="7.5" text-anchor="middle" transform="rotate(-90 53.0 241.4)">0.8</text>
<line x1="58.30" y1="258.90" x2="61.30" y2="258.90" stroke="#000" stroke-width="0.7"/>
<text x="53.0" y="258.9" font-size="7.5" text-anchor="middle" transform="rotate(-90 53.0 258.9)">0.7</text>
<line x1="58.30" y1="276.40" x2="61.30" y2="276.40" stroke="#000" stroke-width="0.7"/>
<text x="53.0" y="276.4" font-size="7.5" text-anchor="middle" transform="rotate(-90 53.0 276.4)">0.6</text>
<line x1="58.30" y1="293.90" x2="61.30" y2="293.90" stroke="#000" stroke-width="0.7"/>
<text x="53.0" y="293.9" font-size="7.5" text-anchor="middle" transform="rotate(-90 53.0 293.9)">0.5</text>
<text x="34.6" y="251.4" font-size="7.5" text-anchor="middle" transform="rotate(-90 34.6 251.4)">Height</text>
<pattern id="dots" x="70.6" y="207.2" width="2.92" height="2.35" patternUnits="userSpaceOnUse"><rect x="0" y="0" width="0.75" height="0.75" fill="#5a5a5a"/></pattern>
<rect x="71.60" y="210.00" width="181.00" height="83.50" fill="url(#dots)"/>
<line x1="71.60" y1="207.30" x2="232.00" y2="207.30" stroke="#000" stroke-width="0.9"/>
<rect x="71.60" y="206.90" width="61.40" height="3.00" fill="#000"/>
<line x1="71.60" y1="206.90" x2="71.60" y2="212.72" stroke="#000" stroke-width="0.7"/>
<line x1="72.01" y1="206.90" x2="72.01" y2="217.61" stroke="#000" stroke-width="0.7"/>
<line x1="72.53" y1="206.90" x2="72.53" y2="211.82" stroke="#000" stroke-width="0.7"/>
<line x1="72.97" y1="206.90" x2="72.97" y2="211.52" stroke="#000" stroke-width="0.7"/>
<line x1="73.54" y1="206.90" x2="73.54" y2="210.04" stroke="#000" stroke-width="0.7"/>
<line x1="74.10" y1="206.90" x2="74.10" y2="213.00" stroke="#000" stroke-width="0.7"/>
<line x1="74.57" y1="206.90" x2="74.57" y2="210.76" stroke="#000" stroke-width="0.7"/>
<line x1="74.99" y1="206.90" x2="74.99" y2="212.19" stroke="#000" stroke-width="0.7"/>
<line x1="75.52" y1="206.90" x2="75.52" y2="211.80" stroke="#000" stroke-width="0.7"/>
<line x1="75.85" y1="206.90" x2="75.85" y2="214.17" stroke="#000" stroke-width="0.7"/>
<line x1="76.18" y1="206.90" x2="76.18" y2="211.24" stroke="#000" stroke-width="0.7"/>
<line x1="76.49" y1="206.90" x2="76.49" y2="215.39" stroke="#000" stroke-width="0.7"/>
<line x1="77.08" y1="206.90" x2="77.08" y2="215.10" stroke="#000" stroke-width="0.7"/>
<line x1="77.47" y1="206.90" x2="77.47" y2="211.25" stroke="#000" stroke-width="0.7"/>
<line x1="77.98" y1="206.90" x2="77.98" y2="210.35" stroke="#000" stroke-width="0.7"/>
<line x1="78.57" y1="206.90" x2="78.57" y2="212.32" stroke="#000" stroke-width="0.7"/>
<line x1="79.14" y1="206.90" x2="79.14" y2="210.56" stroke="#000" stroke-width="0.7"/>
<line x1="79.56" y1="206.90" x2="79.56" y2="210.56" stroke="#000" stroke-width="0.7"/>
<line x1="79.96" y1="206.90" x2="79.96" y2="217.72" stroke="#000" stroke-width="0.7"/>
<line x1="80.26" y1="206.90" x2="80.26" y2="216.44" stroke="#000" stroke-width="0.7"/>
<line x1="80.58" y1="206.90" x2="80.58" y2="212.96" stroke="#000" stroke-width="0.7"/>
<line x1="81.03" y1="206.90" x2="81.03" y2="211.05" stroke="#000" stroke-width="0.7"/>
<line x1="81.47" y1="206.90" x2="81.47" y2="210.04" stroke="#000" stroke-width="0.7"/>
<line x1="82.06" y1="206.90" x2="82.06" y2="211.20" stroke="#000" stroke-width="0.7"/>
<line x1="82.47" y1="206.90" x2="82.47" y2="211.16" stroke="#000" stroke-width="0.7"/>
<line x1="83.00" y1="206.90" x2="83.00" y2="211.63" stroke="#000" stroke-width="0.7"/>
<line x1="83.56" y1="206.90" x2="83.56" y2="211.26" stroke="#000" stroke-width="0.7"/>
<line x1="83.91" y1="206.90" x2="83.91" y2="210.20" stroke="#000" stroke-width="0.7"/>
<line x1="84.28" y1="206.90" x2="84.28" y2="219.75" stroke="#000" stroke-width="0.7"/>
<line x1="84.69" y1="206.90" x2="84.69" y2="213.18" stroke="#000" stroke-width="0.7"/>
<line x1="85.06" y1="206.90" x2="85.06" y2="211.48" stroke="#000" stroke-width="0.7"/>
<line x1="85.59" y1="206.90" x2="85.59" y2="216.30" stroke="#000" stroke-width="0.7"/>
<line x1="85.98" y1="206.90" x2="85.98" y2="214.41" stroke="#000" stroke-width="0.7"/>
<line x1="86.30" y1="206.90" x2="86.30" y2="212.04" stroke="#000" stroke-width="0.7"/>
<line x1="86.71" y1="206.90" x2="86.71" y2="210.75" stroke="#000" stroke-width="0.7"/>
<line x1="87.29" y1="206.90" x2="87.29" y2="212.07" stroke="#000" stroke-width="0.7"/>
<line x1="87.79" y1="206.90" x2="87.79" y2="211.03" stroke="#000" stroke-width="0.7"/>
<line x1="88.12" y1="206.90" x2="88.12" y2="211.70" stroke="#000" stroke-width="0.7"/>
<line x1="88.51" y1="206.90" x2="88.51" y2="211.67" stroke="#000" stroke-width="0.7"/>
<line x1="88.83" y1="206.90" x2="88.83" y2="213.83" stroke="#000" stroke-width="0.7"/>
<line x1="89.25" y1="206.90" x2="89.25" y2="211.75" stroke="#000" stroke-width="0.7"/>
<line x1="89.65" y1="206.90" x2="89.65" y2="211.87" stroke="#000" stroke-width="0.7"/>
<line x1="90.08" y1="206.90" x2="90.08" y2="211.26" stroke="#000" stroke-width="0.7"/>
<line x1="90.57" y1="206.90" x2="90.57" y2="217.06" stroke="#000" stroke-width="0.7"/>
<line x1="91.12" y1="206.90" x2="91.12" y2="212.35" stroke="#000" stroke-width="0.7"/>
<line x1="91.59" y1="206.90" x2="91.59" y2="211.48" stroke="#000" stroke-width="0.7"/>
<line x1="92.13" y1="206.90" x2="92.13" y2="209.64" stroke="#000" stroke-width="0.7"/>
<line x1="92.54" y1="206.90" x2="92.54" y2="210.99" stroke="#000" stroke-width="0.7"/>
<line x1="92.93" y1="206.90" x2="92.93" y2="214.33" stroke="#000" stroke-width="0.7"/>
<line x1="93.41" y1="206.90" x2="93.41" y2="212.34" stroke="#000" stroke-width="0.7"/>
<line x1="93.85" y1="206.90" x2="93.85" y2="213.51" stroke="#000" stroke-width="0.7"/>
<line x1="94.24" y1="206.90" x2="94.24" y2="211.37" stroke="#000" stroke-width="0.7"/>
<line x1="94.66" y1="206.90" x2="94.66" y2="210.18" stroke="#000" stroke-width="0.7"/>
<line x1="95.21" y1="206.90" x2="95.21" y2="215.54" stroke="#000" stroke-width="0.7"/>
<line x1="95.70" y1="206.90" x2="95.70" y2="214.14" stroke="#000" stroke-width="0.7"/>
<line x1="96.05" y1="206.90" x2="96.05" y2="212.05" stroke="#000" stroke-width="0.7"/>
<line x1="96.59" y1="206.90" x2="96.59" y2="217.12" stroke="#000" stroke-width="0.7"/>
<line x1="96.91" y1="206.90" x2="96.91" y2="218.75" stroke="#000" stroke-width="0.7"/>
<line x1="97.42" y1="206.90" x2="97.42" y2="213.07" stroke="#000" stroke-width="0.7"/>
<line x1="97.81" y1="206.90" x2="97.81" y2="214.52" stroke="#000" stroke-width="0.7"/>
<line x1="98.19" y1="206.90" x2="98.19" y2="212.03" stroke="#000" stroke-width="0.7"/>
<line x1="98.79" y1="206.90" x2="98.79" y2="214.37" stroke="#000" stroke-width="0.7"/>
<line x1="99.37" y1="206.90" x2="99.37" y2="213.79" stroke="#000" stroke-width="0.7"/>
<line x1="99.92" y1="206.90" x2="99.92" y2="213.01" stroke="#000" stroke-width="0.7"/>
<line x1="100.30" y1="206.90" x2="100.30" y2="214.27" stroke="#000" stroke-width="0.7"/>
<line x1="100.69" y1="206.90" x2="100.69" y2="214.29" stroke="#000" stroke-width="0.7"/>
<line x1="101.23" y1="206.90" x2="101.23" y2="211.32" stroke="#000" stroke-width="0.7"/>
<line x1="101.63" y1="206.90" x2="101.63" y2="216.55" stroke="#000" stroke-width="0.7"/>
<line x1="102.21" y1="206.90" x2="102.21" y2="212.07" stroke="#000" stroke-width="0.7"/>
<line x1="102.71" y1="206.90" x2="102.71" y2="213.37" stroke="#000" stroke-width="0.7"/>
<line x1="103.17" y1="206.90" x2="103.17" y2="215.62" stroke="#000" stroke-width="0.7"/>
<line x1="103.53" y1="206.90" x2="103.53" y2="213.31" stroke="#000" stroke-width="0.7"/>
<line x1="103.97" y1="206.90" x2="103.97" y2="213.29" stroke="#000" stroke-width="0.7"/>
<line x1="104.47" y1="206.90" x2="104.47" y2="211.70" stroke="#000" stroke-width="0.7"/>
<line x1="105.01" y1="206.90" x2="105.01" y2="213.77" stroke="#000" stroke-width="0.7"/>
<line x1="105.59" y1="206.90" x2="105.59" y2="212.37" stroke="#000" stroke-width="0.7"/>
<line x1="106.12" y1="206.90" x2="106.12" y2="214.25" stroke="#000" stroke-width="0.7"/>
<line x1="106.72" y1="206.90" x2="106.72" y2="210.30" stroke="#000" stroke-width="0.7"/>
<line x1="107.15" y1="206.90" x2="107.15" y2="213.80" stroke="#000" stroke-width="0.7"/>
<line x1="107.68" y1="206.90" x2="107.68" y2="211.48" stroke="#000" stroke-width="0.7"/>
<line x1="107.99" y1="206.90" x2="107.99" y2="214.53" stroke="#000" stroke-width="0.7"/>
<line x1="108.34" y1="206.90" x2="108.34" y2="210.18" stroke="#000" stroke-width="0.7"/>
<line x1="108.93" y1="206.90" x2="108.93" y2="211.78" stroke="#000" stroke-width="0.7"/>
<line x1="109.24" y1="206.90" x2="109.24" y2="212.33" stroke="#000" stroke-width="0.7"/>
<line x1="109.74" y1="206.90" x2="109.74" y2="210.48" stroke="#000" stroke-width="0.7"/>
<line x1="110.11" y1="206.90" x2="110.11" y2="210.50" stroke="#000" stroke-width="0.7"/>
<line x1="110.53" y1="206.90" x2="110.53" y2="213.07" stroke="#000" stroke-width="0.7"/>
<line x1="111.09" y1="206.90" x2="111.09" y2="217.06" stroke="#000" stroke-width="0.7"/>
<line x1="111.51" y1="206.90" x2="111.51" y2="210.40" stroke="#000" stroke-width="0.7"/>
<line x1="111.90" y1="206.90" x2="111.90" y2="212.14" stroke="#000" stroke-width="0.7"/>
<line x1="112.30" y1="206.90" x2="112.30" y2="212.87" stroke="#000" stroke-width="0.7"/>
<line x1="112.70" y1="206.90" x2="112.70" y2="210.95" stroke="#000" stroke-width="0.7"/>
<line x1="113.25" y1="206.90" x2="113.25" y2="215.59" stroke="#000" stroke-width="0.7"/>
<line x1="113.69" y1="206.90" x2="113.69" y2="211.39" stroke="#000" stroke-width="0.7"/>
<line x1="114.16" y1="206.90" x2="114.16" y2="212.32" stroke="#000" stroke-width="0.7"/>
<line x1="114.64" y1="206.90" x2="114.64" y2="212.96" stroke="#000" stroke-width="0.7"/>
<line x1="115.14" y1="206.90" x2="115.14" y2="211.48" stroke="#000" stroke-width="0.7"/>
<line x1="115.61" y1="206.90" x2="115.61" y2="213.86" stroke="#000" stroke-width="0.7"/>
<line x1="116.01" y1="206.90" x2="116.01" y2="213.20" stroke="#000" stroke-width="0.7"/>
<line x1="116.43" y1="206.90" x2="116.43" y2="211.13" stroke="#000" stroke-width="0.7"/>
<line x1="116.88" y1="206.90" x2="116.88" y2="214.80" stroke="#000" stroke-width="0.7"/>
<line x1="117.47" y1="206.90" x2="117.47" y2="211.39" stroke="#000" stroke-width="0.7"/>
<line x1="117.84" y1="206.90" x2="117.84" y2="211.99" stroke="#000" stroke-width="0.7"/>
<line x1="118.27" y1="206.90" x2="118.27" y2="213.34" stroke="#000" stroke-width="0.7"/>
<line x1="118.66" y1="206.90" x2="118.66" y2="210.93" stroke="#000" stroke-width="0.7"/>
<line x1="118.97" y1="206.90" x2="118.97" y2="216.01" stroke="#000" stroke-width="0.7"/>
<line x1="119.40" y1="206.90" x2="119.40" y2="210.62" stroke="#000" stroke-width="0.7"/>
<line x1="119.74" y1="206.90" x2="119.74" y2="211.15" stroke="#000" stroke-width="0.7"/>
<line x1="120.20" y1="206.90" x2="120.20" y2="211.23" stroke="#000" stroke-width="0.7"/>
<line x1="120.65" y1="206.90" x2="120.65" y2="209.79" stroke="#000" stroke-width="0.7"/>
<line x1="121.03" y1="206.90" x2="121.03" y2="211.70" stroke="#000" stroke-width="0.7"/>
<line x1="121.41" y1="206.90" x2="121.41" y2="213.23" stroke="#000" stroke-width="0.7"/>
<line x1="121.85" y1="206.90" x2="121.85" y2="217.22" stroke="#000" stroke-width="0.7"/>
<line x1="122.42" y1="206.90" x2="122.42" y2="209.33" stroke="#000" stroke-width="0.7"/>
<line x1="122.76" y1="206.90" x2="122.76" y2="212.10" stroke="#000" stroke-width="0.7"/>
<line x1="123.16" y1="206.90" x2="123.16" y2="212.69" stroke="#000" stroke-width="0.7"/>
<line x1="123.46" y1="206.90" x2="123.46" y2="211.58" stroke="#000" stroke-width="0.7"/>
<line x1="123.99" y1="206.90" x2="123.99" y2="212.23" stroke="#000" stroke-width="0.7"/>
<line x1="124.29" y1="206.90" x2="124.29" y2="213.52" stroke="#000" stroke-width="0.7"/>
<line x1="124.86" y1="206.90" x2="124.86" y2="215.63" stroke="#000" stroke-width="0.7"/>
<line x1="125.17" y1="206.90" x2="125.17" y2="218.95" stroke="#000" stroke-width="0.7"/>
<line x1="125.65" y1="206.90" x2="125.65" y2="216.44" stroke="#000" stroke-width="0.7"/>
<line x1="126.14" y1="206.90" x2="126.14" y2="214.11" stroke="#000" stroke-width="0.7"/>
<line x1="126.69" y1="206.90" x2="126.69" y2="212.47" stroke="#000" stroke-width="0.7"/>
<line x1="127.24" y1="206.90" x2="127.24" y2="212.15" stroke="#000" stroke-width="0.7"/>
<line x1="127.68" y1="206.90" x2="127.68" y2="214.50" stroke="#000" stroke-width="0.7"/>
<line x1="128.23" y1="206.90" x2="128.23" y2="216.79" stroke="#000" stroke-width="0.7"/>
<line x1="128.71" y1="206.90" x2="128.71" y2="216.80" stroke="#000" stroke-width="0.7"/>
<line x1="129.28" y1="206.90" x2="129.28" y2="210.31" stroke="#000" stroke-width="0.7"/>
<line x1="129.79" y1="206.90" x2="129.79" y2="214.51" stroke="#000" stroke-width="0.7"/>
<line x1="130.25" y1="206.90" x2="130.25" y2="213.15" stroke="#000" stroke-width="0.7"/>
<line x1="130.80" y1="206.90" x2="130.80" y2="210.77" stroke="#000" stroke-width="0.7"/>
<line x1="131.18" y1="206.90" x2="131.18" y2="210.88" stroke="#000" stroke-width="0.7"/>
<line x1="131.68" y1="206.90" x2="131.68" y2="209.97" stroke="#000" stroke-width="0.7"/>
<line x1="132.10" y1="206.90" x2="132.10" y2="211.30" stroke="#000" stroke-width="0.7"/>
<line x1="132.61" y1="206.90" x2="132.61" y2="209.55" stroke="#000" stroke-width="0.7"/>
<line x1="132.95" y1="206.90" x2="132.95" y2="214.28" stroke="#000" stroke-width="0.7"/>
<rect x="137.60" y="206.90" width="56.90" height="3.00" fill="#000"/>
<line x1="137.60" y1="206.90" x2="137.60" y2="217.37" stroke="#000" stroke-width="0.7"/>
<line x1="138.20" y1="206.90" x2="138.20" y2="217.49" stroke="#000" stroke-width="0.7"/>
<line x1="138.54" y1="206.90" x2="138.54" y2="212.44" stroke="#000" stroke-width="0.7"/>
<line x1="139.08" y1="206.90" x2="139.08" y2="210.54" stroke="#000" stroke-width="0.7"/>
<line x1="139.40" y1="206.90" x2="139.40" y2="210.62" stroke="#000" stroke-width="0.7"/>
<line x1="139.92" y1="206.90" x2="139.92" y2="210.67" stroke="#000" stroke-width="0.7"/>
<line x1="140.39" y1="206.90" x2="140.39" y2="214.89" stroke="#000" stroke-width="0.7"/>
<line x1="140.88" y1="206.90" x2="140.88" y2="210.16" stroke="#000" stroke-width="0.7"/>
<line x1="141.27" y1="206.90" x2="141.27" y2="213.66" stroke="#000" stroke-width="0.7"/>
<line x1="141.68" y1="206.90" x2="141.68" y2="214.77" stroke="#000" stroke-width="0.7"/>
<line x1="142.00" y1="206.90" x2="142.00" y2="214.37" stroke="#000" stroke-width="0.7"/>
<line x1="142.47" y1="206.90" x2="142.47" y2="215.43" stroke="#000" stroke-width="0.7"/>
<line x1="143.04" y1="206.90" x2="143.04" y2="213.90" stroke="#000" stroke-width="0.7"/>
<line x1="143.41" y1="206.90" x2="143.41" y2="210.40" stroke="#000" stroke-width="0.7"/>
<line x1="143.78" y1="206.90" x2="143.78" y2="215.80" stroke="#000" stroke-width="0.7"/>
<line x1="144.38" y1="206.90" x2="144.38" y2="215.51" stroke="#000" stroke-width="0.7"/>
<line x1="144.79" y1="206.90" x2="144.79" y2="214.84" stroke="#000" stroke-width="0.7"/>
<line x1="145.13" y1="206.90" x2="145.13" y2="210.61" stroke="#000" stroke-width="0.7"/>
<line x1="145.45" y1="206.90" x2="145.45" y2="213.08" stroke="#000" stroke-width="0.7"/>
<line x1="146.01" y1="206.90" x2="146.01" y2="214.08" stroke="#000" stroke-width="0.7"/>
<line x1="146.38" y1="206.90" x2="146.38" y2="212.78" stroke="#000" stroke-width="0.7"/>
<line x1="146.78" y1="206.90" x2="146.78" y2="217.28" stroke="#000" stroke-width="0.7"/>
<line x1="147.24" y1="206.90" x2="147.24" y2="211.29" stroke="#000" stroke-width="0.7"/>
<line x1="147.59" y1="206.90" x2="147.59" y2="213.48" stroke="#000" stroke-width="0.7"/>
<line x1="147.95" y1="206.90" x2="147.95" y2="209.47" stroke="#000" stroke-width="0.7"/>
<line x1="148.53" y1="206.90" x2="148.53" y2="213.97" stroke="#000" stroke-width="0.7"/>
<line x1="148.87" y1="206.90" x2="148.87" y2="213.20" stroke="#000" stroke-width="0.7"/>
<line x1="149.42" y1="206.90" x2="149.42" y2="211.50" stroke="#000" stroke-width="0.7"/>
<line x1="149.90" y1="206.90" x2="149.90" y2="212.89" stroke="#000" stroke-width="0.7"/>
<line x1="150.32" y1="206.90" x2="150.32" y2="217.06" stroke="#000" stroke-width="0.7"/>
<line x1="150.81" y1="206.90" x2="150.81" y2="217.89" stroke="#000" stroke-width="0.7"/>
<line x1="151.40" y1="206.90" x2="151.40" y2="212.05" stroke="#000" stroke-width="0.7"/>
<line x1="151.88" y1="206.90" x2="151.88" y2="212.56" stroke="#000" stroke-width="0.7"/>
<line x1="152.23" y1="206.90" x2="152.23" y2="209.49" stroke="#000" stroke-width="0.7"/>
<line x1="152.54" y1="206.90" x2="152.54" y2="210.39" stroke="#000" stroke-width="0.7"/>
<line x1="152.99" y1="206.90" x2="152.99" y2="213.41" stroke="#000" stroke-width="0.7"/>
<line x1="153.39" y1="206.90" x2="153.39" y2="212.75" stroke="#000" stroke-width="0.7"/>
<line x1="153.96" y1="206.90" x2="153.96" y2="215.39" stroke="#000" stroke-width="0.7"/>
<line x1="154.36" y1="206.90" x2="154.36" y2="211.45" stroke="#000" stroke-width="0.7"/>
<line x1="154.70" y1="206.90" x2="154.70" y2="210.08" stroke="#000" stroke-width="0.7"/>
<line x1="155.27" y1="206.90" x2="155.27" y2="219.38" stroke="#000" stroke-width="0.7"/>
<line x1="155.61" y1="206.90" x2="155.61" y2="210.83" stroke="#000" stroke-width="0.7"/>
<line x1="156.16" y1="206.90" x2="156.16" y2="215.82" stroke="#000" stroke-width="0.7"/>
<line x1="156.53" y1="206.90" x2="156.53" y2="214.24" stroke="#000" stroke-width="0.7"/>
<line x1="156.93" y1="206.90" x2="156.93" y2="216.31" stroke="#000" stroke-width="0.7"/>
<line x1="157.51" y1="206.90" x2="157.51" y2="213.01" stroke="#000" stroke-width="0.7"/>
<line x1="157.95" y1="206.90" x2="157.95" y2="219.77" stroke="#000" stroke-width="0.7"/>
<line x1="158.28" y1="206.90" x2="158.28" y2="214.52" stroke="#000" stroke-width="0.7"/>
<line x1="158.72" y1="206.90" x2="158.72" y2="211.72" stroke="#000" stroke-width="0.7"/>
<line x1="159.07" y1="206.90" x2="159.07" y2="211.69" stroke="#000" stroke-width="0.7"/>
<line x1="159.54" y1="206.90" x2="159.54" y2="213.29" stroke="#000" stroke-width="0.7"/>
<line x1="159.96" y1="206.90" x2="159.96" y2="214.72" stroke="#000" stroke-width="0.7"/>
<line x1="160.36" y1="206.90" x2="160.36" y2="212.37" stroke="#000" stroke-width="0.7"/>
<line x1="160.68" y1="206.90" x2="160.68" y2="215.24" stroke="#000" stroke-width="0.7"/>
<line x1="161.21" y1="206.90" x2="161.21" y2="211.58" stroke="#000" stroke-width="0.7"/>
<line x1="161.79" y1="206.90" x2="161.79" y2="215.94" stroke="#000" stroke-width="0.7"/>
<line x1="162.31" y1="206.90" x2="162.31" y2="210.52" stroke="#000" stroke-width="0.7"/>
<line x1="162.63" y1="206.90" x2="162.63" y2="218.19" stroke="#000" stroke-width="0.7"/>
<line x1="162.98" y1="206.90" x2="162.98" y2="210.40" stroke="#000" stroke-width="0.7"/>
<line x1="163.57" y1="206.90" x2="163.57" y2="213.96" stroke="#000" stroke-width="0.7"/>
<line x1="164.16" y1="206.90" x2="164.16" y2="213.26" stroke="#000" stroke-width="0.7"/>
<line x1="164.73" y1="206.90" x2="164.73" y2="211.42" stroke="#000" stroke-width="0.7"/>
<line x1="165.17" y1="206.90" x2="165.17" y2="214.12" stroke="#000" stroke-width="0.7"/>
<line x1="165.48" y1="206.90" x2="165.48" y2="213.84" stroke="#000" stroke-width="0.7"/>
<line x1="165.80" y1="206.90" x2="165.80" y2="216.54" stroke="#000" stroke-width="0.7"/>
<line x1="166.19" y1="206.90" x2="166.19" y2="211.05" stroke="#000" stroke-width="0.7"/>
<line x1="166.77" y1="206.90" x2="166.77" y2="210.35" stroke="#000" stroke-width="0.7"/>
<line x1="167.23" y1="206.90" x2="167.23" y2="211.76" stroke="#000" stroke-width="0.7"/>
<line x1="167.60" y1="206.90" x2="167.60" y2="212.87" stroke="#000" stroke-width="0.7"/>
<line x1="167.92" y1="206.90" x2="167.92" y2="211.40" stroke="#000" stroke-width="0.7"/>
<line x1="168.48" y1="206.90" x2="168.48" y2="211.46" stroke="#000" stroke-width="0.7"/>
<line x1="168.91" y1="206.90" x2="168.91" y2="211.96" stroke="#000" stroke-width="0.7"/>
<line x1="169.38" y1="206.90" x2="169.38" y2="212.93" stroke="#000" stroke-width="0.7"/>
<line x1="169.72" y1="206.90" x2="169.72" y2="211.13" stroke="#000" stroke-width="0.7"/>
<line x1="170.12" y1="206.90" x2="170.12" y2="214.22" stroke="#000" stroke-width="0.7"/>
<line x1="170.72" y1="206.90" x2="170.72" y2="212.16" stroke="#000" stroke-width="0.7"/>
<line x1="171.11" y1="206.90" x2="171.11" y2="210.86" stroke="#000" stroke-width="0.7"/>
<line x1="171.49" y1="206.90" x2="171.49" y2="212.20" stroke="#000" stroke-width="0.7"/>
<line x1="171.83" y1="206.90" x2="171.83" y2="210.24" stroke="#000" stroke-width="0.7"/>
<line x1="172.34" y1="206.90" x2="172.34" y2="216.67" stroke="#000" stroke-width="0.7"/>
<line x1="172.81" y1="206.90" x2="172.81" y2="210.59" stroke="#000" stroke-width="0.7"/>
<line x1="173.26" y1="206.90" x2="173.26" y2="210.02" stroke="#000" stroke-width="0.7"/>
<line x1="173.62" y1="206.90" x2="173.62" y2="213.15" stroke="#000" stroke-width="0.7"/>
<line x1="174.18" y1="206.90" x2="174.18" y2="210.14" stroke="#000" stroke-width="0.7"/>
<line x1="174.58" y1="206.90" x2="174.58" y2="218.72" stroke="#000" stroke-width="0.7"/>
<line x1="174.88" y1="206.90" x2="174.88" y2="212.46" stroke="#000" stroke-width="0.7"/>
<line x1="175.40" y1="206.90" x2="175.40" y2="211.81" stroke="#000" stroke-width="0.7"/>
<line x1="175.75" y1="206.90" x2="175.75" y2="216.18" stroke="#000" stroke-width="0.7"/>
<line x1="176.33" y1="206.90" x2="176.33" y2="213.14" stroke="#000" stroke-width="0.7"/>
<line x1="176.76" y1="206.90" x2="176.76" y2="210.92" stroke="#000" stroke-width="0.7"/>
<line x1="177.18" y1="206.90" x2="177.18" y2="210.70" stroke="#000" stroke-width="0.7"/>
<line x1="177.57" y1="206.90" x2="177.57" y2="210.56" stroke="#000" stroke-width="0.7"/>
<line x1="178.07" y1="206.90" x2="178.07" y2="210.60" stroke="#000" stroke-width="0.7"/>
<line x1="178.53" y1="206.90" x2="178.53" y2="215.69" stroke="#000" stroke-width="0.7"/>
<line x1="178.84" y1="206.90" x2="178.84" y2="211.24" stroke="#000" stroke-width="0.7"/>
<line x1="179.39" y1="206.90" x2="179.39" y2="214.11" stroke="#000" stroke-width="0.7"/>
<line x1="179.98" y1="206.90" x2="179.98" y2="211.77" stroke="#000" stroke-width="0.7"/>
<line x1="180.43" y1="206.90" x2="180.43" y2="210.81" stroke="#000" stroke-width="0.7"/>
<line x1="180.83" y1="206.90" x2="180.83" y2="209.63" stroke="#000" stroke-width="0.7"/>
<line x1="181.32" y1="206.90" x2="181.32" y2="211.72" stroke="#000" stroke-width="0.7"/>
<line x1="181.65" y1="206.90" x2="181.65" y2="214.12" stroke="#000" stroke-width="0.7"/>
<line x1="182.14" y1="206.90" x2="182.14" y2="211.02" stroke="#000" stroke-width="0.7"/>
<line x1="182.72" y1="206.90" x2="182.72" y2="216.68" stroke="#000" stroke-width="0.7"/>
<line x1="183.12" y1="206.90" x2="183.12" y2="214.30" stroke="#000" stroke-width="0.7"/>
<line x1="183.56" y1="206.90" x2="183.56" y2="211.70" stroke="#000" stroke-width="0.7"/>
<line x1="183.87" y1="206.90" x2="183.87" y2="217.58" stroke="#000" stroke-width="0.7"/>
<line x1="184.33" y1="206.90" x2="184.33" y2="213.19" stroke="#000" stroke-width="0.7"/>
<line x1="184.66" y1="206.90" x2="184.66" y2="219.20" stroke="#000" stroke-width="0.7"/>
<line x1="185.17" y1="206.90" x2="185.17" y2="212.35" stroke="#000" stroke-width="0.7"/>
<line x1="185.48" y1="206.90" x2="185.48" y2="212.64" stroke="#000" stroke-width="0.7"/>
<line x1="185.99" y1="206.90" x2="185.99" y2="211.68" stroke="#000" stroke-width="0.7"/>
<line x1="186.35" y1="206.90" x2="186.35" y2="212.97" stroke="#000" stroke-width="0.7"/>
<line x1="186.74" y1="206.90" x2="186.74" y2="213.13" stroke="#000" stroke-width="0.7"/>
<line x1="187.27" y1="206.90" x2="187.27" y2="210.82" stroke="#000" stroke-width="0.7"/>
<line x1="187.81" y1="206.90" x2="187.81" y2="219.99" stroke="#000" stroke-width="0.7"/>
<line x1="188.36" y1="206.90" x2="188.36" y2="214.47" stroke="#000" stroke-width="0.7"/>
<line x1="188.81" y1="206.90" x2="188.81" y2="210.93" stroke="#000" stroke-width="0.7"/>
<line x1="189.36" y1="206.90" x2="189.36" y2="212.44" stroke="#000" stroke-width="0.7"/>
<line x1="189.69" y1="206.90" x2="189.69" y2="211.45" stroke="#000" stroke-width="0.7"/>
<line x1="190.21" y1="206.90" x2="190.21" y2="211.89" stroke="#000" stroke-width="0.7"/>
<line x1="190.73" y1="206.90" x2="190.73" y2="213.49" stroke="#000" stroke-width="0.7"/>
<line x1="191.29" y1="206.90" x2="191.29" y2="212.06" stroke="#000" stroke-width="0.7"/>
<line x1="191.65" y1="206.90" x2="191.65" y2="212.95" stroke="#000" stroke-width="0.7"/>
<line x1="192.10" y1="206.90" x2="192.10" y2="214.18" stroke="#000" stroke-width="0.7"/>
<line x1="192.65" y1="206.90" x2="192.65" y2="209.93" stroke="#000" stroke-width="0.7"/>
<line x1="192.96" y1="206.90" x2="192.96" y2="212.04" stroke="#000" stroke-width="0.7"/>
<line x1="193.41" y1="206.90" x2="193.41" y2="214.51" stroke="#000" stroke-width="0.7"/>
<line x1="193.83" y1="206.90" x2="193.83" y2="218.99" stroke="#000" stroke-width="0.7"/>
<line x1="194.40" y1="206.90" x2="194.40" y2="215.69" stroke="#000" stroke-width="0.7"/>
<rect x="197.00" y="206.90" width="15.50" height="3.00" fill="#000"/>
<line x1="197.00" y1="206.90" x2="197.00" y2="211.90" stroke="#000" stroke-width="0.7"/>
<line x1="197.41" y1="206.90" x2="197.41" y2="211.78" stroke="#000" stroke-width="0.7"/>
<line x1="197.94" y1="206.90" x2="197.94" y2="210.61" stroke="#000" stroke-width="0.7"/>
<line x1="198.26" y1="206.90" x2="198.26" y2="210.85" stroke="#000" stroke-width="0.7"/>
<line x1="198.75" y1="206.90" x2="198.75" y2="218.66" stroke="#000" stroke-width="0.7"/>
<line x1="199.26" y1="206.90" x2="199.26" y2="213.41" stroke="#000" stroke-width="0.7"/>
<line x1="199.57" y1="206.90" x2="199.57" y2="214.07" stroke="#000" stroke-width="0.7"/>
<line x1="199.88" y1="206.90" x2="199.88" y2="210.64" stroke="#000" stroke-width="0.7"/>
<line x1="200.46" y1="206.90" x2="200.46" y2="212.56" stroke="#000" stroke-width="0.7"/>
<line x1="201.01" y1="206.90" x2="201.01" y2="215.93" stroke="#000" stroke-width="0.7"/>
<line x1="201.48" y1="206.90" x2="201.48" y2="212.91" stroke="#000" stroke-width="0.7"/>
<line x1="202.05" y1="206.90" x2="202.05" y2="210.75" stroke="#000" stroke-width="0.7"/>
<line x1="202.59" y1="206.90" x2="202.59" y2="212.48" stroke="#000" stroke-width="0.7"/>
<line x1="202.89" y1="206.90" x2="202.89" y2="212.42" stroke="#000" stroke-width="0.7"/>
<line x1="203.41" y1="206.90" x2="203.41" y2="215.30" stroke="#000" stroke-width="0.7"/>
<line x1="203.99" y1="206.90" x2="203.99" y2="212.99" stroke="#000" stroke-width="0.7"/>
<line x1="204.38" y1="206.90" x2="204.38" y2="218.23" stroke="#000" stroke-width="0.7"/>
<line x1="204.85" y1="206.90" x2="204.85" y2="217.82" stroke="#000" stroke-width="0.7"/>
<line x1="205.23" y1="206.90" x2="205.23" y2="209.73" stroke="#000" stroke-width="0.7"/>
<line x1="205.62" y1="206.90" x2="205.62" y2="212.89" stroke="#000" stroke-width="0.7"/>
<line x1="205.94" y1="206.90" x2="205.94" y2="210.09" stroke="#000" stroke-width="0.7"/>
<line x1="206.36" y1="206.90" x2="206.36" y2="210.46" stroke="#000" stroke-width="0.7"/>
<line x1="206.68" y1="206.90" x2="206.68" y2="214.21" stroke="#000" stroke-width="0.7"/>
<line x1="207.17" y1="206.90" x2="207.17" y2="214.61" stroke="#000" stroke-width="0.7"/>
<line x1="207.60" y1="206.90" x2="207.60" y2="212.79" stroke="#000" stroke-width="0.7"/>
<line x1="208.08" y1="206.90" x2="208.08" y2="210.66" stroke="#000" stroke-width="0.7"/>
<line x1="208.46" y1="206.90" x2="208.46" y2="215.26" stroke="#000" stroke-width="0.7"/>
<line x1="208.86" y1="206.90" x2="208.86" y2="211.21" stroke="#000" stroke-width="0.7"/>
<line x1="209.20" y1="206.90" x2="209.20" y2="213.92" stroke="#000" stroke-width="0.7"/>
<line x1="209.67" y1="206.90" x2="209.67" y2="211.77" stroke="#000" stroke-width="0.7"/>
<line x1="210.14" y1="206.90" x2="210.14" y2="216.83" stroke="#000" stroke-width="0.7"/>
<line x1="210.54" y1="206.90" x2="210.54" y2="209.42" stroke="#000" stroke-width="0.7"/>
<line x1="210.99" y1="206.90" x2="210.99" y2="217.22" stroke="#000" stroke-width="0.7"/>
<line x1="211.31" y1="206.90" x2="211.31" y2="212.03" stroke="#000" stroke-width="0.7"/>
<line x1="211.80" y1="206.90" x2="211.80" y2="212.13" stroke="#000" stroke-width="0.7"/>
<line x1="212.29" y1="206.90" x2="212.29" y2="216.96" stroke="#000" stroke-width="0.7"/>
<rect x="216.50" y="206.90" width="19.50" height="3.00" fill="#000"/>
<line x1="216.50" y1="206.90" x2="216.50" y2="211.58" stroke="#000" stroke-width="0.7"/>
<line x1="216.83" y1="206.90" x2="216.83" y2="210.96" stroke="#000" stroke-width="0.7"/>
<line x1="217.32" y1="206.90" x2="217.32" y2="210.45" stroke="#000" stroke-width="0.7"/>
<line x1="217.75" y1="206.90" x2="217.75" y2="212.95" stroke="#000" stroke-width="0.7"/>
<line x1="218.29" y1="206.90" x2="218.29" y2="217.37" stroke="#000" stroke-width="0.7"/>
<line x1="218.76" y1="206.90" x2="218.76" y2="214.20" stroke="#000" stroke-width="0.7"/>
<line x1="219.35" y1="206.90" x2="219.35" y2="210.03" stroke="#000" stroke-width="0.7"/>
<line x1="219.89" y1="206.90" x2="219.89" y2="210.42" stroke="#000" stroke-width="0.7"/>
<line x1="220.30" y1="206.90" x2="220.30" y2="214.22" stroke="#000" stroke-width="0.7"/>
<line x1="220.90" y1="206.90" x2="220.90" y2="214.60" stroke="#000" stroke-width="0.7"/>
<line x1="221.32" y1="206.90" x2="221.32" y2="213.56" stroke="#000" stroke-width="0.7"/>
<line x1="221.62" y1="206.90" x2="221.62" y2="215.55" stroke="#000" stroke-width="0.7"/>
<line x1="221.96" y1="206.90" x2="221.96" y2="210.29" stroke="#000" stroke-width="0.7"/>
<line x1="222.55" y1="206.90" x2="222.55" y2="213.26" stroke="#000" stroke-width="0.7"/>
<line x1="223.08" y1="206.90" x2="223.08" y2="216.46" stroke="#000" stroke-width="0.7"/>
<line x1="223.38" y1="206.90" x2="223.38" y2="216.97" stroke="#000" stroke-width="0.7"/>
<line x1="223.79" y1="206.90" x2="223.79" y2="213.88" stroke="#000" stroke-width="0.7"/>
<line x1="224.19" y1="206.90" x2="224.19" y2="210.63" stroke="#000" stroke-width="0.7"/>
<line x1="224.64" y1="206.90" x2="224.64" y2="216.73" stroke="#000" stroke-width="0.7"/>
<line x1="224.97" y1="206.90" x2="224.97" y2="209.89" stroke="#000" stroke-width="0.7"/>
<line x1="225.37" y1="206.90" x2="225.37" y2="214.48" stroke="#000" stroke-width="0.7"/>
<line x1="225.80" y1="206.90" x2="225.80" y2="210.95" stroke="#000" stroke-width="0.7"/>
<line x1="226.17" y1="206.90" x2="226.17" y2="216.50" stroke="#000" stroke-width="0.7"/>
<line x1="226.51" y1="206.90" x2="226.51" y2="210.41" stroke="#000" stroke-width="0.7"/>
<line x1="226.94" y1="206.90" x2="226.94" y2="211.25" stroke="#000" stroke-width="0.7"/>
<line x1="227.36" y1="206.90" x2="227.36" y2="210.13" stroke="#000" stroke-width="0.7"/>
<line x1="227.77" y1="206.90" x2="227.77" y2="214.60" stroke="#000" stroke-width="0.7"/>
<line x1="228.31" y1="206.90" x2="228.31" y2="210.80" stroke="#000" stroke-width="0.7"/>
<line x1="228.62" y1="206.90" x2="228.62" y2="212.19" stroke="#000" stroke-width="0.7"/>
<line x1="229.20" y1="206.90" x2="229.20" y2="217.20" stroke="#000" stroke-width="0.7"/>
<line x1="229.52" y1="206.90" x2="229.52" y2="210.38" stroke="#000" stroke-width="0.7"/>
<line x1="230.06" y1="206.90" x2="230.06" y2="210.24" stroke="#000" stroke-width="0.7"/>
<line x1="230.39" y1="206.90" x2="230.39" y2="212.30" stroke="#000" stroke-width="0.7"/>
<line x1="230.94" y1="206.90" x2="230.94" y2="212.88" stroke="#000" stroke-width="0.7"/>
<line x1="231.25" y1="206.90" x2="231.25" y2="213.80" stroke="#000" stroke-width="0.7"/>
<line x1="231.70" y1="206.90" x2="231.70" y2="217.66" stroke="#000" stroke-width="0.7"/>
<line x1="232.27" y1="206.90" x2="232.27" y2="215.99" stroke="#000" stroke-width="0.7"/>
<line x1="232.75" y1="206.90" x2="232.75" y2="209.96" stroke="#000" stroke-width="0.7"/>
<line x1="233.28" y1="206.90" x2="233.28" y2="213.94" stroke="#000" stroke-width="0.7"/>
<line x1="233.83" y1="206.90" x2="233.83" y2="214.30" stroke="#000" stroke-width="0.7"/>
<line x1="234.24" y1="206.90" x2="234.24" y2="218.64" stroke="#000" stroke-width="0.7"/>
<line x1="234.81" y1="206.90" x2="234.81" y2="210.66" stroke="#000" stroke-width="0.7"/>
<line x1="235.17" y1="206.90" x2="235.17" y2="219.93" stroke="#000" stroke-width="0.7"/>
<line x1="235.77" y1="206.90" x2="235.77" y2="210.88" stroke="#000" stroke-width="0.7"/>
<path d="M108.0,206.9 C126.8,206.9 136.4,216.4 137.0,238.5 C135.4,222.7 124.0,212.9 108.0,212.9 Z" fill="#000"/>
<path d="M116.0,206.9 C122.3,206.9 125.1,213.1 125.7,227.7 C124.1,217.3 121.3,210.9 116.0,210.9 Z" fill="#000"/>
<path d="M94.0,206.9 C100.4,206.9 103.2,214.0 103.8,230.6 C102.2,218.8 99.4,210.9 94.0,210.9 Z" fill="#000"/>
<path d="M71.6,206.9 C73.2,206.9 73.4,215.3 74.0,235.0 C72.4,220.9 72.9,209.4 71.6,209.4 Z" fill="#000"/>
<path d="M84.0,206.9 C86.6,206.9 87.4,211.4 88.0,222.0 C86.4,214.4 86.2,209.9 84.0,209.9 Z" fill="#000"/>
<path d="M138.0,206.9 C144.2,206.9 147.0,214.0 147.6,230.6 C146.0,218.8 143.3,211.9 138.0,211.9 Z" fill="#000"/>
<path d="M150.0,206.9 C159.8,206.9 164.4,212.6 165.0,226.0 C163.4,216.4 158.2,211.9 150.0,211.9 Z" fill="#000"/>
<path d="M166.0,206.9 C174.9,206.9 179.1,213.5 179.7,229.0 C178.1,217.9 173.5,211.9 166.0,211.9 Z" fill="#000"/>
<path d="M178.0,206.9 C186.7,206.9 190.8,214.0 191.4,230.6 C189.8,218.8 185.4,211.9 178.0,211.9 Z" fill="#000"/>
<path d="M186.0,206.9 C192.0,206.9 194.6,213.6 195.2,229.2 C193.6,218.1 191.1,210.9 186.0,210.9 Z" fill="#000"/>
<path d="M197.0,206.9 C209.0,206.9 214.8,220.3 215.4,251.5 C213.8,229.2 207.1,212.9 197.0,212.9 Z" fill="#000"/>
<path d="M199.0,206.9 C206.5,206.9 209.9,214.7 210.5,233.0 C208.9,219.9 205.3,210.9 199.0,210.9 Z" fill="#000"/>
<path d="M217.0,206.9 C222.8,206.9 225.4,211.4 226.0,222.0 C224.4,214.4 221.9,210.9 217.0,210.9 Z" fill="#000"/>
<path d="M216,207.4 C228,208 234,216 239.6,235 C244,250 248,268 251.6,289" fill="none" stroke="#000" stroke-width="2.3"/>
<path d="M220,208 C230,210 236,222 241,240 C245,255 248.5,270 251.6,289" fill="none" stroke="#000" stroke-width="1.5"/>
<path d="M224,208.5 C233,213 238,228 243,246 C246,260 249,274 251.6,289" fill="none" stroke="#000" stroke-width="0.9"/>
<path d="M226,210 C233,214 236,224 239,234 M230,211 C235,218 238,228 241,240 M233,217 L236,229 M243,246 L245,260 M246,258 L248,272" fill="none" stroke="#000" stroke-width="0.8"/>
<path d="M239.6,236.5 L251.2,236.5 L254.2,270" fill="none" stroke="#000" stroke-width="0.9"/>
<rect x="70.90" y="299.60" width="0.56" height="30.70" fill="#8a6a9a"/>
<rect x="71.41" y="299.60" width="0.68" height="30.70" fill="#7aa8a8"/>
<rect x="72.04" y="299.60" width="1.07" height="30.70" fill="#a04838"/>
<rect x="73.06" y="299.60" width="0.51" height="30.70" fill="#6a9a9a"/>
<rect x="73.52" y="299.60" width="0.48" height="30.70" fill="#6a9a9a"/>
<rect x="73.95" y="299.60" width="1.16" height="30.70" fill="#b09070"/>
<rect x="75.05" y="299.60" width="0.97" height="30.70" fill="#a04838"/>
<rect x="75.97" y="299.60" width="1.22" height="30.70" fill="#7aa8a8"/>
<rect x="77.14" y="299.60" width="0.82" height="30.70" fill="#a04838"/>
<rect x="77.91" y="299.60" width="0.64" height="30.70" fill="#8a6a9a"/>
<rect x="78.50" y="299.60" width="1.20" height="30.70" fill="#7a3030"/>
<rect x="79.65" y="299.60" width="0.46" height="30.70" fill="#6a9a9a"/>
<rect x="80.06" y="299.60" width="0.52" height="30.70" fill="#5070c0"/>
<rect x="80.53" y="299.60" width="1.05" height="30.70" fill="#8a6a9a"/>
<rect x="81.53" y="299.60" width="0.72" height="30.70" fill="#b09070"/>
<rect x="82.20" y="299.60" width="0.57" height="30.70" fill="#88b0b0"/>
<rect x="82.72" y="299.60" width="1.17" height="30.70" fill="#88b0b0"/>
<rect x="83.84" y="299.60" width="0.52" height="30.70" fill="#7aa8a8"/>
<rect x="84.31" y="299.60" width="0.53" height="30.70" fill="#6a9a9a"/>
<rect x="84.79" y="299.60" width="0.75" height="30.70" fill="#8a6a9a"/>
<rect x="85.49" y="299.60" width="1.18" height="30.70" fill="#88b0b0"/>
<rect x="86.62" y="299.60" width="0.92" height="30.70" fill="#b09070"/>
<rect x="87.48" y="299.60" width="1.22" height="30.70" fill="#5070c0"/>
<rect x="88.66" y="299.60" width="0.66" height="30.70" fill="#88b0b0"/>
<rect x="89.27" y="299.60" width="0.46" height="30.70" fill="#6a9a9a"/>
<rect x="89.68" y="299.60" width="0.56" height="30.70" fill="#a04838"/>
<rect x="90.18" y="299.60" width="0.98" height="30.70" fill="#7a3030"/>
<rect x="91.12" y="299.60" width="0.46" height="30.70" fill="#b09070"/>
<rect x="91.52" y="299.60" width="0.79" height="30.70" fill="#88b0b0"/>
<rect x="92.26" y="299.60" width="1.02" height="30.70" fill="#b09070"/>
<rect x="93.23" y="299.60" width="1.08" height="30.70" fill="#7a3030"/>
<rect x="94.26" y="299.60" width="1.09" height="30.70" fill="#b09070"/>
<rect x="95.31" y="299.60" width="0.48" height="30.70" fill="#6a9a9a"/>
<rect x="95.74" y="299.60" width="1.16" height="30.70" fill="#7a3030"/>
<rect x="96.85" y="299.60" width="0.40" height="30.70" fill="#a04838"/>
<rect x="102.30" y="299.60" width="0.90" height="30.70" fill="#e09868"/>
<rect x="103.15" y="299.60" width="1.37" height="30.70" fill="#88b8b0"/>
<rect x="104.47" y="299.60" width="1.02" height="30.70" fill="#999"/>
<rect x="105.44" y="299.60" width="1.16" height="30.70" fill="#d08868"/>
<rect x="106.56" y="299.60" width="1.44" height="30.70" fill="#999"/>
<rect x="107.94" y="299.60" width="1.30" height="30.70" fill="#e09868"/>
<rect x="109.19" y="299.60" width="1.09" height="30.70" fill="#7aa8a8"/>
<rect x="110.24" y="299.60" width="1.19" height="30.70" fill="#8a6a9a"/>
<rect x="111.37" y="299.60" width="1.07" height="30.70" fill="#e09868"/>
<rect x="112.39" y="299.60" width="1.37" height="30.70" fill="#999"/>
<rect x="113.72" y="299.60" width="1.27" height="30.70" fill="#88b8b0"/>
<rect x="114.93" y="299.60" width="1.28" height="30.70" fill="#90b090"/>
<rect x="116.16" y="299.60" width="0.91" height="30.70" fill="#e09868"/>
<rect x="117.02" y="299.60" width="0.94" height="30.70" fill="#c0a880"/>
<rect x="117.91" y="299.60" width="1.02" height="30.70" fill="#7aa8a8"/>
<rect x="118.88" y="299.60" width="0.51" height="30.70" fill="#e09868"/>
<rect x="119.34" y="299.60" width="0.57" height="30.70" fill="#90b090"/>
<rect x="119.86" y="299.60" width="0.82" height="30.70" fill="#88b8b0"/>
<rect x="120.63" y="299.60" width="0.71" height="30.70" fill="#999"/>
<rect x="121.29" y="299.60" width="0.93" height="30.70" fill="#90b090"/>
<rect x="122.18" y="299.60" width="1.19" height="30.70" fill="#999"/>
<rect x="123.32" y="299.60" width="0.23" height="30.70" fill="#7aa8a8"/>
<rect x="136.30" y="299.60" width="0.83" height="30.70" fill="#5a6ab0"/>
<rect x="137.08" y="299.60" width="0.55" height="30.70" fill="#888"/>
<rect x="137.58" y="299.60" width="0.87" height="30.70" fill="#9a7a9a"/>
<rect x="138.40" y="299.60" width="0.98" height="30.70" fill="#5a6ab0"/>
<rect x="139.32" y="299.60" width="1.00" height="30.70" fill="#888"/>
<rect x="140.27" y="299.60" width="0.81" height="30.70" fill="#9a7a9a"/>
<rect x="141.03" y="299.60" width="0.48" height="30.70" fill="#905040"/>
<rect x="141.46" y="299.60" width="0.79" height="30.70" fill="#7a50a0"/>
<rect x="142.20" y="299.60" width="0.35" height="30.70" fill="#9a7a9a"/>
<rect x="152.70" y="299.60" width="0.90" height="30.70" fill="#5a9a4a"/>
<rect x="153.55" y="299.60" width="0.57" height="30.70" fill="#5a9a4a"/>
<rect x="154.06" y="299.60" width="0.63" height="30.70" fill="#5a9a4a"/>
<rect x="154.65" y="299.60" width="0.98" height="30.70" fill="#888"/>
<rect x="155.57" y="299.60" width="0.93" height="30.70" fill="#5a9a4a"/>
<rect x="156.45" y="299.60" width="0.90" height="30.70" fill="#5a9a4a"/>
<rect x="166.60" y="299.60" width="0.58" height="30.70" fill="#3050b0"/>
<rect x="167.13" y="299.60" width="0.87" height="30.70" fill="#3050b0"/>
<rect x="167.95" y="299.60" width="0.92" height="30.70" fill="#3050b0"/>
<rect x="168.82" y="299.60" width="1.05" height="30.70" fill="#3060b8"/>
<rect x="169.82" y="299.60" width="1.22" height="30.70" fill="#3050b0"/>
<rect x="170.99" y="299.60" width="0.06" height="30.70" fill="#3060b8"/>
<rect x="173.10" y="299.60" width="0.75" height="30.70" fill="#5fb8c8"/>
<rect x="173.80" y="299.60" width="0.68" height="30.70" fill="#5fb8c8"/>
<rect x="174.43" y="299.60" width="0.70" height="30.70" fill="#5fb8c8"/>
<rect x="175.08" y="299.60" width="0.81" height="30.70" fill="#5fb8c8"/>
<rect x="175.84" y="299.60" width="0.21" height="30.70" fill="#3c5cb8"/>
<rect x="194.30" y="299.60" width="0.88" height="30.70" fill="#5fb8b0"/>
<rect x="195.13" y="299.60" width="0.71" height="30.70" fill="#80c0d8"/>
<rect x="195.79" y="299.60" width="0.76" height="30.70" fill="#80c0d8"/>
<rect x="196.50" y="299.60" width="0.83" height="30.70" fill="#8a4a40"/>
<rect x="197.28" y="299.60" width="1.06" height="30.70" fill="#905848"/>
<rect x="198.29" y="299.60" width="1.05" height="30.70" fill="#a87868"/>
<rect x="199.29" y="299.60" width="0.87" height="30.70" fill="#a06050"/>
<rect x="200.11" y="299.60" width="0.66" height="30.70" fill="#905848"/>
<rect x="200.72" y="299.60" width="0.69" height="30.70" fill="#7a4038"/>
<rect x="201.35" y="299.60" width="0.91" height="30.70" fill="#7a4038"/>
<rect x="202.21" y="299.60" width="0.83" height="30.70" fill="#8a4a40"/>
<rect x="202.99" y="299.60" width="0.67" height="30.70" fill="#6a3030"/>
<rect x="203.60" y="299.60" width="1.00" height="30.70" fill="#7a4038"/>
<rect x="204.55" y="299.60" width="0.98" height="30.70" fill="#a06050"/>
<rect x="205.48" y="299.60" width="0.99" height="30.70" fill="#a87868"/>
<rect x="206.43" y="299.60" width="0.32" height="30.70" fill="#7a4038"/>
<rect x="97.20" y="299.60" width="2.25" height="30.70" fill="#3050b0"/>
<rect x="99.40" y="299.60" width="2.95" height="30.70" fill="#eef8e4"/>
<rect x="123.50" y="299.60" width="12.85" height="30.70" fill="#f0e442"/>
<rect x="142.50" y="299.60" width="3.65" height="30.70" fill="#f4fff0"/>
<rect x="146.10" y="299.60" width="6.65" height="30.70" fill="#7a3fb0"/>
<rect x="157.30" y="299.60" width="4.25" height="30.70" fill="#3050b0"/>
<rect x="161.50" y="299.60" width="5.15" height="30.70" fill="#ffc0d0"/>
<rect x="171.00" y="299.60" width="2.15" height="30.70" fill="#90d0e8"/>
<rect x="176.00" y="299.60" width="3.75" height="30.70" fill="#e03424"/>
<rect x="179.70" y="299.60" width="11.05" height="30.70" fill="#3050b0"/>
<rect x="190.70" y="299.60" width="3.65" height="30.70" fill="#8cb43a"/>
<rect x="206.70" y="299.60" width="2.25" height="30.70" fill="#050505"/>
<rect x="208.90" y="299.60" width="4.45" height="30.70" fill="#8a2a28"/>
<rect x="213.30" y="299.60" width="36.55" height="30.70" fill="#7fdcd4"/>
<rect x="249.80" y="299.60" width="3.85" height="30.70" fill="#c6dc3e"/>
<line x1="216.20" y1="299.60" x2="216.20" y2="330.30" stroke="#7ab8dc" stroke-width="0.5"/>
<line x1="222.80" y1="299.60" x2="222.80" y2="330.30" stroke="#a8e0b8" stroke-width="0.5"/>
<rect x="70.90" y="299.60" width="182.70" height="30.70" fill="none" stroke="#000" stroke-width="0.8"/>
<line x1="70.90" y1="314.90" x2="253.60" y2="314.90" stroke="#222" stroke-width="1.0"/>
<text x="69.5" y="311.5" font-size="8.5" text-anchor="end">Dynamic Tree Cut</text>
<text x="69.5" y="326.9" font-size="8.5" text-anchor="end">Merged dynamic</text>
</g>
<g id="panel-d">
<text x="0.0" y="340.8" font-size="16">d</text>
<text x="136.3" y="348.3" font-size="7.6" text-anchor="middle">TNBC Immune−related module</text>
<clipPath id="cD"><rect x="0" y="353.7" width="230" height="212.90000000000003"/></clipPath>
<rect x="58.10" y="353.70" width="12.00" height="10.35" fill="#050505" clip-path="url(#cD)"/>
<text x="57.4" y="361.6" font-size="7.6" text-anchor="end">black</text>
<rect x="72.30" y="353.70" width="22.17" height="10.35" fill="#fddccf" clip-path="url(#cD)"/>
<rect x="94.42" y="353.70" width="22.17" height="10.35" fill="#fcc4b0" clip-path="url(#cD)"/>
<rect x="116.53" y="353.70" width="22.17" height="10.35" fill="#feede7" clip-path="url(#cD)"/>
<rect x="138.65" y="353.70" width="22.17" height="10.35" fill="#faa180" clip-path="url(#cD)"/>
<rect x="160.77" y="353.70" width="22.17" height="10.35" fill="#f5f9fb" clip-path="url(#cD)"/>
<rect x="182.88" y="353.70" width="22.17" height="10.35" fill="#ecf4f6" clip-path="url(#cD)"/>
<rect x="58.10" y="364.00" width="12.00" height="10.35" fill="#9a2e2c" clip-path="url(#cD)"/>
<text x="57.4" y="371.9" font-size="7.6" text-anchor="end">brown</text>
<rect x="72.30" y="364.00" width="22.17" height="10.35" fill="#feede7" clip-path="url(#cD)"/>
<rect x="94.42" y="364.00" width="22.17" height="10.35" fill="#fa9c78" clip-path="url(#cD)"/>
<rect x="116.53" y="364.00" width="22.17" height="10.35" fill="#d8e8ee" clip-path="url(#cD)"/>
<rect x="138.65" y="364.00" width="22.17" height="10.35" fill="#fcbfa8" clip-path="url(#cD)"/>
<rect x="160.77" y="364.00" width="22.17" height="10.35" fill="#f5f9fb" clip-path="url(#cD)"/>
<rect x="182.88" y="364.00" width="22.17" height="10.35" fill="#ecf4f6" clip-path="url(#cD)"/>
<rect x="58.10" y="374.30" width="12.00" height="10.35" fill="#bfdf34" clip-path="url(#cD)"/>
<text x="57.4" y="382.2" font-size="7.6" text-anchor="end">greenyellow</text>
<rect x="72.30" y="374.30" width="22.17" height="10.35" fill="#fbad90" clip-path="url(#cD)"/>
<rect x="94.42" y="374.30" width="22.17" height="10.35" fill="#feede7" clip-path="url(#cD)"/>
<rect x="116.53" y="374.30" width="22.17" height="10.35" fill="#fdd6c7" clip-path="url(#cD)"/>
<rect x="138.65" y="374.30" width="22.17" height="10.35" fill="#feede7" clip-path="url(#cD)"/>
<rect x="160.77" y="374.30" width="22.17" height="10.35" fill="#fdd6c7" clip-path="url(#cD)"/>
<rect x="182.88" y="374.30" width="22.17" height="10.35" fill="#fddccf" clip-path="url(#cD)"/>
<rect x="58.10" y="384.60" width="12.00" height="10.35" fill="#7fe0d6" clip-path="url(#cD)"/>
<text x="57.4" y="392.5" font-size="7.6" text-anchor="end">turquoise</text>
<rect x="72.30" y="384.60" width="22.17" height="10.35" fill="#fbb398" clip-path="url(#cD)"/>
<rect x="94.42" y="384.60" width="22.17" height="10.35" fill="#feede7" clip-path="url(#cD)"/>
<rect x="116.53" y="384.60" width="22.17" height="10.35" fill="#fcbfa8" clip-path="url(#cD)"/>
<rect x="138.65" y="384.60" width="22.17" height="10.35" fill="#fddccf" clip-path="url(#cD)"/>
<rect x="160.77" y="384.60" width="22.17" height="10.35" fill="#fa9c78" clip-path="url(#cD)"/>
<rect x="182.88" y="384.60" width="22.17" height="10.35" fill="#fbb398" clip-path="url(#cD)"/>
<rect x="58.10" y="394.90" width="12.00" height="10.35" fill="#7a2020" clip-path="url(#cD)"/>
<text x="57.4" y="402.8" font-size="7.6" text-anchor="end">darkred</text>
<rect x="72.30" y="394.90" width="22.17" height="10.35" fill="#f5f9fb" clip-path="url(#cD)"/>
<rect x="94.42" y="394.90" width="22.17" height="10.35" fill="#f5f9fb" clip-path="url(#cD)"/>
<rect x="116.53" y="394.90" width="22.17" height="10.35" fill="#feede7" clip-path="url(#cD)"/>
<rect x="138.65" y="394.90" width="22.17" height="10.35" fill="#ecf4f6" clip-path="url(#cD)"/>
<rect x="160.77" y="394.90" width="22.17" height="10.35" fill="#f5f9fb" clip-path="url(#cD)"/>
<rect x="182.88" y="394.90" width="22.17" height="10.35" fill="#feede7" clip-path="url(#cD)"/>
<rect x="58.10" y="405.20" width="12.00" height="10.35" fill="#4a6ac0" clip-path="url(#cD)"/>
<text x="57.4" y="413.1" font-size="7.6" text-anchor="end">royalblue</text>
<rect x="72.30" y="405.20" width="22.17" height="10.35" fill="#feede7" clip-path="url(#cD)"/>
<rect x="94.42" y="405.20" width="22.17" height="10.35" fill="#f5f9fb" clip-path="url(#cD)"/>
<rect x="116.53" y="405.20" width="22.17" height="10.35" fill="#ecf4f6" clip-path="url(#cD)"/>
<rect x="138.65" y="405.20" width="22.17" height="10.35" fill="#feede7" clip-path="url(#cD)"/>
<rect x="160.77" y="405.20" width="22.17" height="10.35" fill="#d8e8ee" clip-path="url(#cD)"/>
<rect x="182.88" y="405.20" width="22.17" height="10.35" fill="#e8f1f5" clip-path="url(#cD)"/>
<rect x="58.10" y="415.50" width="12.00" height="10.35" fill="#e03020" clip-path="url(#cD)"/>
<text x="57.4" y="423.4" font-size="7.6" text-anchor="end">red</text>
<rect x="72.30" y="415.50" width="22.17" height="10.35" fill="#feede7" clip-path="url(#cD)"/>
<rect x="94.42" y="415.50" width="22.17" height="10.35" fill="#a7cbd8" clip-path="url(#cD)"/>
<rect x="116.53" y="415.50" width="22.17" height="10.35" fill="#fff9f7" clip-path="url(#cD)"/>
<rect x="138.65" y="415.50" width="22.17" height="10.35" fill="#ecf4f6" clip-path="url(#cD)"/>
<rect x="160.77" y="415.50" width="22.17" height="10.35" fill="#ecf4f6" clip-path="url(#cD)"/>
<rect x="182.88" y="415.50" width="22.17" height="10.35" fill="#f5f9fb" clip-path="url(#cD)"/>
<rect x="58.10" y="425.80" width="12.00" height="10.35" fill="#b956c4" clip-path="url(#cD)"/>
<text x="57.4" y="433.7" font-size="7.6" text-anchor="end">magenta</text>
<rect x="72.30" y="425.80" width="22.17" height="10.35" fill="#fff9f7" clip-path="url(#cD)"/>
<rect x="94.42" y="425.80" width="22.17" height="10.35" fill="#f5f9fb" clip-path="url(#cD)"/>
<rect x="116.53" y="425.80" width="22.17" height="10.35" fill="#f5f9fb" clip-path="url(#cD)"/>
<rect x="138.65" y="425.80" width="22.17" height="10.35" fill="#f5f9fb" clip-path="url(#cD)"/>
<rect x="160.77" y="425.80" width="22.17" height="10.35" fill="#fff9f7" clip-path="url(#cD)"/>
<rect x="182.88" y="425.80" width="22.17" height="10.35" fill="#feede7" clip-path="url(#cD)"/>
<rect x="58.10" y="436.10" width="12.00" height="10.35" fill="#999999" clip-path="url(#cD)"/>
<text x="57.4" y="444.0" font-size="7.6" text-anchor="end">grey60</text>
<rect x="72.30" y="436.10" width="22.17" height="10.35" fill="#feede7" clip-path="url(#cD)"/>
<rect x="94.42" y="436.10" width="22.17" height="10.35" fill="#d8e8ee" clip-path="url(#cD)"/>
<rect x="116.53" y="436.10" width="22.17" height="10.35" fill="#f5f9fb" clip-path="url(#cD)"/>
<rect x="138.65" y="436.10" width="22.17" height="10.35" fill="#d8e8ee" clip-path="url(#cD)"/>
<rect x="160.77" y="436.10" width="22.17" height="10.35" fill="#fee8df" clip-path="url(#cD)"/>
<rect x="182.88" y="436.10" width="22.17" height="10.35" fill="#fee8df" clip-path="url(#cD)"/>
<rect x="58.10" y="446.40" width="12.00" height="10.35" fill="#e4fafa" clip-path="url(#cD)"/>
<text x="57.4" y="454.3" font-size="7.6" text-anchor="end">lightcyan</text>
<rect x="72.30" y="446.40" width="22.17" height="10.35" fill="#f5f9fb" clip-path="url(#cD)"/>
<rect x="94.42" y="446.40" width="22.17" height="10.35" fill="#c4dce5" clip-path="url(#cD)"/>
<rect x="116.53" y="446.40" width="22.17" height="10.35" fill="#f5f9fb" clip-path="url(#cD)"/>
<rect x="138.65" y="446.40" width="22.17" height="10.35" fill="#c4dce5" clip-path="url(#cD)"/>
<rect x="160.77" y="446.40" width="22.17" height="10.35" fill="#fff9f7" clip-path="url(#cD)"/>
<rect x="182.88" y="446.40" width="22.17" height="10.35" fill="#fee8df" clip-path="url(#cD)"/>
<rect x="58.10" y="456.70" width="12.00" height="10.35" fill="#8de0e4" clip-path="url(#cD)"/>
<text x="57.4" y="464.6" font-size="7.6" text-anchor="end">cyan</text>
<rect x="72.30" y="456.70" width="22.17" height="10.35" fill="#f9fcfc" clip-path="url(#cD)"/>
<rect x="94.42" y="456.70" width="22.17" height="10.35" fill="#9ec6d4" clip-path="url(#cD)"/>
<rect x="116.53" y="456.70" width="22.17" height="10.35" fill="#fff9f7" clip-path="url(#cD)"/>
<rect x="138.65" y="456.70" width="22.17" height="10.35" fill="#bbd7e1" clip-path="url(#cD)"/>
<rect x="160.77" y="456.70" width="22.17" height="10.35" fill="#fffbfa" clip-path="url(#cD)"/>
<rect x="182.88" y="456.70" width="22.17" height="10.35" fill="#fef1ec" clip-path="url(#cD)"/>
<rect x="58.10" y="467.00" width="12.00" height="10.35" fill="#7ac60e" clip-path="url(#cD)"/>
<text x="57.4" y="474.9" font-size="7.6" text-anchor="end">green</text>
<rect x="72.30" y="467.00" width="22.17" height="10.35" fill="#fef1ec" clip-path="url(#cD)"/>
<rect x="94.42" y="467.00" width="22.17" height="10.35" fill="#c4dce5" clip-path="url(#cD)"/>
<rect x="116.53" y="467.00" width="22.17" height="10.35" fill="#f5f9fb" clip-path="url(#cD)"/>
<rect x="138.65" y="467.00" width="22.17" height="10.35" fill="#d8e8ee" clip-path="url(#cD)"/>
<rect x="160.77" y="467.00" width="22.17" height="10.35" fill="#fee8df" clip-path="url(#cD)"/>
<rect x="182.88" y="467.00" width="22.17" height="10.35" fill="#fee8df" clip-path="url(#cD)"/>
<rect x="58.10" y="477.30" width="12.00" height="10.35" fill="#fffbe0" clip-path="url(#cD)"/>
<text x="57.4" y="485.2" font-size="7.6" text-anchor="end">lightyellow</text>
<rect x="72.30" y="477.30" width="22.17" height="10.35" fill="#f5f9fb" clip-path="url(#cD)"/>
<rect x="94.42" y="477.30" width="22.17" height="10.35" fill="#ecf4f6" clip-path="url(#cD)"/>
<rect x="116.53" y="477.30" width="22.17" height="10.35" fill="#fee8df" clip-path="url(#cD)"/>
<rect x="138.65" y="477.30" width="22.17" height="10.35" fill="#ecf4f6" clip-path="url(#cD)"/>
<rect x="160.77" y="477.30" width="22.17" height="10.35" fill="#ecf4f6" clip-path="url(#cD)"/>
<rect x="182.88" y="477.30" width="22.17" height="10.35" fill="#c4dce5" clip-path="url(#cD)"/>
<rect x="58.10" y="487.60" width="12.00" height="10.35" fill="#7d40b6" clip-path="url(#cD)"/>
<text x="57.4" y="495.5" font-size="7.6" text-anchor="end">purple</text>
<rect x="72.30" y="487.60" width="22.17" height="10.35" fill="#fef1ec" clip-path="url(#cD)"/>
<rect x="94.42" y="487.60" width="22.17" height="10.35" fill="#fee8df" clip-path="url(#cD)"/>
<rect x="116.53" y="487.60" width="22.17" height="10.35" fill="#fef1ec" clip-path="url(#cD)"/>
<rect x="138.65" y="487.60" width="22.17" height="10.35" fill="#fef1ec" clip-path="url(#cD)"/>
<rect x="160.77" y="487.60" width="22.17" height="10.35" fill="#f9fcfc" clip-path="url(#cD)"/>
<rect x="182.88" y="487.60" width="22.17" height="10.35" fill="#ecf4f6" clip-path="url(#cD)"/>
<rect x="58.10" y="497.90" width="12.00" height="10.35" fill="#3450b0" clip-path="url(#cD)"/>
<text x="57.4" y="505.8" font-size="7.6" text-anchor="end">blue</text>
<rect x="72.30" y="497.90" width="22.17" height="10.35" fill="#f5f9fb" clip-path="url(#cD)"/>
<rect x="94.42" y="497.90" width="22.17" height="10.35" fill="#fddccf" clip-path="url(#cD)"/>
<rect x="116.53" y="497.90" width="22.17" height="10.35" fill="#fef1ec" clip-path="url(#cD)"/>
<rect x="138.65" y="497.90" width="22.17" height="10.35" fill="#fee2d7" clip-path="url(#cD)"/>
<rect x="160.77" y="497.90" width="22.17" height="10.35" fill="#f9fcfc" clip-path="url(#cD)"/>
<rect x="182.88" y="497.90" width="22.17" height="10.35" fill="#d8e8ee" clip-path="url(#cD)"/>
<rect x="58.10" y="508.20" width="12.00" height="10.35" fill="#ffc0d2" clip-path="url(#cD)"/>
<text x="57.4" y="516.1" font-size="7.6" text-anchor="end">pink</text>
<rect x="72.30" y="508.20" width="22.17" height="10.35" fill="#d8e8ee" clip-path="url(#cD)"/>
<rect x="94.42" y="508.20" width="22.17" height="10.35" fill="#f5f9fb" clip-path="url(#cD)"/>
<rect x="116.53" y="508.20" width="22.17" height="10.35" fill="#fee8df" clip-path="url(#cD)"/>
<rect x="138.65" y="508.20" width="22.17" height="10.35" fill="#f5f9fb" clip-path="url(#cD)"/>
<rect x="160.77" y="508.20" width="22.17" height="10.35" fill="#d8e8ee" clip-path="url(#cD)"/>
<rect x="182.88" y="508.20" width="22.17" height="10.35" fill="#c4dce5" clip-path="url(#cD)"/>
<rect x="58.10" y="518.50" width="12.00" height="10.35" fill="#aee88a" clip-path="url(#cD)"/>
<text x="57.4" y="526.4" font-size="7.6" text-anchor="end">lightgreen</text>
<rect x="72.30" y="518.50" width="22.17" height="10.35" fill="#fff9f7" clip-path="url(#cD)"/>
<rect x="94.42" y="518.50" width="22.17" height="10.35" fill="#d8e8ee" clip-path="url(#cD)"/>
<rect x="116.53" y="518.50" width="22.17" height="10.35" fill="#f5f9fb" clip-path="url(#cD)"/>
<rect x="138.65" y="518.50" width="22.17" height="10.35" fill="#d8e8ee" clip-path="url(#cD)"/>
<rect x="160.77" y="518.50" width="22.17" height="10.35" fill="#feede7" clip-path="url(#cD)"/>
<rect x="182.88" y="518.50" width="22.17" height="10.35" fill="#fff9f7" clip-path="url(#cD)"/>
<rect x="58.10" y="528.80" width="12.00" height="10.35" fill="#2f2a5c" clip-path="url(#cD)"/>
<text x="57.4" y="536.7" font-size="7.6" text-anchor="end">midnightblue</text>
<rect x="72.30" y="528.80" width="22.17" height="10.35" fill="#f9fcfc" clip-path="url(#cD)"/>
<rect x="94.42" y="528.80" width="22.17" height="10.35" fill="#d8e8ee" clip-path="url(#cD)"/>
<rect x="116.53" y="528.80" width="22.17" height="10.35" fill="#fff9f7" clip-path="url(#cD)"/>
<rect x="138.65" y="528.80" width="22.17" height="10.35" fill="#d8e8ee" clip-path="url(#cD)"/>
<rect x="160.77" y="528.80" width="22.17" height="10.35" fill="#e8f1f5" clip-path="url(#cD)"/>
<rect x="182.88" y="528.80" width="22.17" height="10.35" fill="#f5f9fb" clip-path="url(#cD)"/>
<rect x="58.10" y="539.10" width="12.00" height="10.35" fill="#cfaa8a" clip-path="url(#cD)"/>
<text x="57.4" y="547.0" font-size="7.6" text-anchor="end">tan</text>
<rect x="72.30" y="539.10" width="22.17" height="10.35" fill="#f9fcfc" clip-path="url(#cD)"/>
<rect x="94.42" y="539.10" width="22.17" height="10.35" fill="#c4dce5" clip-path="url(#cD)"/>
<rect x="116.53" y="539.10" width="22.17" height="10.35" fill="#fff9f7" clip-path="url(#cD)"/>
<rect x="138.65" y="539.10" width="22.17" height="10.35" fill="#ecf4f6" clip-path="url(#cD)"/>
<rect x="160.77" y="539.10" width="22.17" height="10.35" fill="#deebf0" clip-path="url(#cD)"/>
<rect x="182.88" y="539.10" width="22.17" height="10.35" fill="#ecf4f6" clip-path="url(#cD)"/>
<rect x="58.10" y="549.40" width="12.00" height="10.35" fill="#ff8578" clip-path="url(#cD)"/>
<text x="57.4" y="557.3" font-size="7.6" text-anchor="end">salmon</text>
<rect x="72.30" y="549.40" width="22.17" height="10.35" fill="#f9fcfc" clip-path="url(#cD)"/>
<rect x="94.42" y="549.40" width="22.17" height="10.35" fill="#c4dce5" clip-path="url(#cD)"/>
<rect x="116.53" y="549.40" width="22.17" height="10.35" fill="#ecf4f6" clip-path="url(#cD)"/>
<rect x="138.65" y="549.40" width="22.17" height="10.35" fill="#b1d1dc" clip-path="url(#cD)"/>
<rect x="160.77" y="549.40" width="22.17" height="10.35" fill="#f9fcfc" clip-path="url(#cD)"/>
<rect x="182.88" y="549.40" width="22.17" height="10.35" fill="#f9fcfc" clip-path="url(#cD)"/>
<rect x="58.10" y="559.70" width="12.00" height="10.35" fill="#f5e344" clip-path="url(#cD)"/>
<text x="57.4" y="567.6" font-size="7.6" text-anchor="end">yellow</text>
<rect x="72.30" y="559.70" width="22.17" height="10.35" fill="#e2eef2" clip-path="url(#cD)"/>
<rect x="94.42" y="559.70" width="22.17" height="10.35" fill="#a7cbd8" clip-path="url(#cD)"/>
<rect x="116.53" y="559.70" width="22.17" height="10.35" fill="#feede7" clip-path="url(#cD)"/>
<rect x="138.65" y="559.70" width="22.17" height="10.35" fill="#a7cbd8" clip-path="url(#cD)"/>
<rect x="160.77" y="559.70" width="22.17" height="10.35" fill="#ecf4f6" clip-path="url(#cD)"/>
<rect x="182.88" y="559.70" width="22.17" height="10.35" fill="#f9fcfc" clip-path="url(#cD)"/>
<rect x="72.30" y="353.70" width="132.70" height="212.90" fill="none" stroke="#000" stroke-width="0.8"/>
<rect x="207.6" y="369.2" width="6.8" height="183.7" fill="url(#gradD)"/>
<line x1="214.40" y1="369.20" x2="218.00" y2="369.20" stroke="#000" stroke-width="0.7"/>
<text x="223.4" y="369.2" font-size="10.4" text-anchor="middle" transform="rotate(-90 223.4 369.2)">1</text>
<line x1="214.40" y1="415.12" x2="218.00" y2="415.12" stroke="#000" stroke-width="0.7"/>
<text x="223.4" y="415.1" font-size="10.4" text-anchor="middle" transform="rotate(-90 223.4 415.1)">0.5</text>
<line x1="214.40" y1="461.05" x2="218.00" y2="461.05" stroke="#000" stroke-width="0.7"/>
<text x="223.4" y="461.1" font-size="10.4" text-anchor="middle" transform="rotate(-90 223.4 461.1)">0</text>
<line x1="214.40" y1="506.98" x2="218.00" y2="506.98" stroke="#000" stroke-width="0.7"/>
<text x="223.4" y="507.0" font-size="10.4" text-anchor="middle" transform="rotate(-90 223.4 507.0)">−0.5</text>
<line x1="214.40" y1="552.90" x2="218.00" y2="552.90" stroke="#000" stroke-width="0.7"/>
<text x="223.4" y="552.9" font-size="10.4" text-anchor="middle" transform="rotate(-90 223.4 552.9)">−1</text>
</g>
<g id="panel-e">
<text x="260.5" y="333.8" font-size="16">e</text>
<text x="329.2" y="324.3" font-size="8.6" text-anchor="middle">NANOS1-Low</text>
<text x="416.6" y="324.3" font-size="8.6" text-anchor="middle">NANOS1-High</text>
<line x1="276.80" y1="332.00" x2="276.80" y2="448.00" stroke="#000" stroke-width="0.7"/>
<text x="274.4" y="382.0" font-size="8.8" text-anchor="middle" transform="rotate(-90 274.4 382.0)">IHC staining of NANOS1</text>
<text x="285.6" y="355.5" font-size="8.3" text-anchor="middle" transform="rotate(-90 285.6 355.5)">200×</text>
<text x="285.6" y="418.0" font-size="8.3" text-anchor="middle" transform="rotate(-90 285.6 418.0)">400×</text>
<clipPath id="ce0"><rect x="285.5" y="327.7" width="84.8" height="58.2"/></clipPath>
<g clip-path="url(#ce0)">
<rect x="285.50" y="327.70" width="84.80" height="58.20" fill="#e4e0ec"/>
<rect x="285.5" y="327.7" width="84.8" height="58.2" fill="#d6cfe4" opacity="0.8" filter="url(#ihcCloud)"/>
<rect x="285.5" y="327.7" width="84.8" height="58.2" fill="#7868a4" opacity="0.42" filter="url(#ihcSpkL)"/>
<g filter="url(#blur4)">
<ellipse cx="292" cy="339" rx="2.2" ry="1.8" fill="#e6dde6" stroke="#5e4c8c" stroke-width="1.0" stroke-dasharray="1.6 0.5" opacity="0.75"/>
<ellipse cx="298" cy="342" rx="1.6" ry="1.3" fill="#e6dde6" stroke="#5e4c8c" stroke-width="1.0" stroke-dasharray="1.6 0.5" opacity="0.75"/>
<ellipse cx="296" cy="349" rx="2.0" ry="1.6" fill="#e6dde6" stroke="#5e4c8c" stroke-width="1.0" stroke-dasharray="1.6 0.5" opacity="0.75"/>
<ellipse cx="302" cy="352" rx="1.8" ry="1.4" fill="#e6dde6" stroke="#5e4c8c" stroke-width="1.0" stroke-dasharray="1.6 0.5" opacity="0.75"/>
<ellipse cx="310" cy="345" rx="2.4" ry="1.9" fill="#e6dde6" stroke="#5e4c8c" stroke-width="1.0" stroke-dasharray="1.6 0.5" opacity="0.75"/>
<ellipse cx="316" cy="347" rx="2.0" ry="1.6" fill="#e6dde6" stroke="#5e4c8c" stroke-width="1.0" stroke-dasharray="1.6 0.5" opacity="0.75"/>
<ellipse cx="320" cy="341" rx="2.2" ry="1.8" fill="#e6dde6" stroke="#5e4c8c" stroke-width="1.0" stroke-dasharray="1.6 0.5" opacity="0.75"/>
<ellipse cx="326" cy="343" rx="1.8" ry="1.4" fill="#e6dde6" stroke="#5e4c8c" stroke-width="1.0" stroke-dasharray="1.6 0.5" opacity="0.75"/>
<ellipse cx="330" cy="338" rx="1.6" ry="1.3" fill="#e6dde6" stroke="#5e4c8c" stroke-width="1.0" stroke-dasharray="1.6 0.5" opacity="0.75"/>
<ellipse cx="344" cy="350" rx="3.0" ry="2.4" fill="#e6dde6" stroke="#5e4c8c" stroke-width="1.0" stroke-dasharray="1.6 0.5" opacity="0.75"/>
<ellipse cx="348" cy="345" rx="2.4" ry="1.9" fill="#e6dde6" stroke="#5e4c8c" stroke-width="1.0" stroke-dasharray="1.6 0.5" opacity="0.75"/>
<ellipse cx="351" cy="341" rx="2.0" ry="1.6" fill="#e6dde6" stroke="#5e4c8c" stroke-width="1.0" stroke-dasharray="1.6 0.5" opacity="0.75"/>
<ellipse cx="346" cy="356" rx="1.8" ry="1.4" fill="#e6dde6" stroke="#5e4c8c" stroke-width="1.0" stroke-dasharray="1.6 0.5" opacity="0.75"/>
<ellipse cx="340" cy="355" rx="1.6" ry="1.3" fill="#e6dde6" stroke="#5e4c8c" stroke-width="1.0" stroke-dasharray="1.6 0.5" opacity="0.75"/>
<ellipse cx="326" cy="371" rx="1.6" ry="1.3" fill="#e6dde6" stroke="#5e4c8c" stroke-width="1.0" stroke-dasharray="1.6 0.5" opacity="0.75"/>
<ellipse cx="331" cy="368" rx="1.4" ry="1.1" fill="#e6dde6" stroke="#5e4c8c" stroke-width="1.0" stroke-dasharray="1.6 0.5" opacity="0.75"/>
</g>
</g>
<clipPath id="ce1"><rect x="374.9" y="327.7" width="85.1" height="58.2"/></clipPath>
<g clip-path="url(#ce1)">
<rect x="374.90" y="327.70" width="85.10" height="58.20" fill="#ecebf2"/>
<rect x="374.9" y="327.7" width="85.1" height="58.2" fill="#dedaea" filter="url(#ihcCloud)"/>
<rect x="374.9" y="327.7" width="85.1" height="58.2" fill="#64569a" opacity="0.55" filter="url(#ihcSpkR)"/>
</g>
<clipPath id="ce2"><rect x="285.5" y="388.7" width="84.8" height="58.1"/></clipPath>
<g clip-path="url(#ce2)">
<rect x="285.50" y="388.70" width="84.80" height="58.10" fill="#e4e0ec"/>
<rect x="285.5" y="388.7" width="84.8" height="58.1" fill="#d6cfe4" opacity="0.8" filter="url(#ihcCloud)"/>
<rect x="285.5" y="388.7" width="84.8" height="58.1" fill="#7868a4" opacity="0.42" filter="url(#ihcSpkL2)"/>
<g filter="url(#blur4)">
<ellipse cx="297" cy="430" rx="3.2" ry="2.4" fill="#e8dfe6" stroke="#5e4c8c" stroke-width="1.3" stroke-dasharray="2 0.6" opacity="0.75"/>
<ellipse cx="306" cy="433" rx="2.6" ry="2.0" fill="#e8dfe6" stroke="#5e4c8c" stroke-width="1.3" stroke-dasharray="2 0.6" opacity="0.75"/>
<ellipse cx="301" cy="439" rx="2.8" ry="2.1" fill="#e8dfe6" stroke="#5e4c8c" stroke-width="1.3" stroke-dasharray="2 0.6" opacity="0.75"/>
<ellipse cx="312" cy="439" rx="2.4" ry="1.8" fill="#e8dfe6" stroke="#5e4c8c" stroke-width="1.3" stroke-dasharray="2 0.6" opacity="0.75"/>
<ellipse cx="318" cy="423" rx="2.8" ry="2.1" fill="#e8dfe6" stroke="#5e4c8c" stroke-width="1.3" stroke-dasharray="2 0.6" opacity="0.75"/>
<ellipse cx="326" cy="421" rx="3.0" ry="2.2" fill="#e8dfe6" stroke="#5e4c8c" stroke-width="1.3" stroke-dasharray="2 0.6" opacity="0.75"/>
<ellipse cx="324" cy="428" rx="2.6" ry="2.0" fill="#e8dfe6" stroke="#5e4c8c" stroke-width="1.3" stroke-dasharray="2 0.6" opacity="0.75"/>
<ellipse cx="332" cy="426" rx="2.8" ry="2.1" fill="#e8dfe6" stroke="#5e4c8c" stroke-width="1.3" stroke-dasharray="2 0.6" opacity="0.75"/>
<ellipse cx="338" cy="430" rx="3.2" ry="2.4" fill="#e8dfe6" stroke="#5e4c8c" stroke-width="1.3" stroke-dasharray="2 0.6" opacity="0.75"/>
<ellipse cx="335" cy="418" rx="2.6" ry="2.0" fill="#e8dfe6" stroke="#5e4c8c" stroke-width="1.3" stroke-dasharray="2 0.6" opacity="0.75"/>
<ellipse cx="342" cy="412" rx="3.4" ry="2.5" fill="#e8dfe6" stroke="#5e4c8c" stroke-width="1.3" stroke-dasharray="2 0.6" opacity="0.75"/>
<ellipse cx="350" cy="409" rx="3.2" ry="2.4" fill="#e8dfe6" stroke="#5e4c8c" stroke-width="1.3" stroke-dasharray="2 0.6" opacity="0.75"/>
<ellipse cx="356" cy="413" rx="2.6" ry="2.0" fill="#e8dfe6" stroke="#5e4c8c" stroke-width="1.3" stroke-dasharray="2 0.6" opacity="0.75"/>
<ellipse cx="330" cy="411" rx="2.4" ry="1.8" fill="#e8dfe6" stroke="#5e4c8c" stroke-width="1.3" stroke-dasharray="2 0.6" opacity="0.75"/>
<ellipse cx="322" cy="414" rx="2.2" ry="1.7" fill="#e8dfe6" stroke="#5e4c8c" stroke-width="1.3" stroke-dasharray="2 0.6" opacity="0.75"/>
<ellipse cx="345" cy="420" rx="2.2" ry="1.7" fill="#e8dfe6" stroke="#5e4c8c" stroke-width="1.3" stroke-dasharray="2 0.6" opacity="0.75"/>
<ellipse cx="330" cy="434" rx="2.4" ry="1.8" fill="#e8dfe6" stroke="#5e4c8c" stroke-width="1.3" stroke-dasharray="2 0.6" opacity="0.75"/>
<ellipse cx="297" cy="430" rx="1.4" ry="1.1" fill="#b07c50" opacity="0.8"/>
<ellipse cx="306" cy="433" rx="1.2" ry="0.9" fill="#b07c50" opacity="0.8"/>
<ellipse cx="301" cy="439" rx="1.3" ry="1.0" fill="#b07c50" opacity="0.8"/>
<ellipse cx="312" cy="439" rx="1.1" ry="0.8" fill="#b07c50" opacity="0.8"/>
<ellipse cx="318" cy="423" rx="1.3" ry="1.0" fill="#b07c50" opacity="0.8"/>
</g>
</g>
<clipPath id="ce3"><rect x="374.9" y="388.7" width="85.1" height="58.1"/></clipPath>
<g clip-path="url(#ce3)">
<rect x="374.90" y="388.70" width="85.10" height="58.10" fill="#ecebf2"/>
<rect x="374.9" y="388.7" width="85.1" height="58.1" fill="#dedaea" filter="url(#ihcCloud)"/>
<rect x="374.9" y="388.7" width="85.1" height="58.1" fill="#64569a" opacity="0.55" filter="url(#ihcSpkR2)"/>
</g>
<rect x="317.50" y="334.50" width="44.00" height="28.00" fill="none" stroke="#111" stroke-width="0.8"/>
<rect x="381.50" y="333.50" width="43.00" height="28.00" fill="none" stroke="#111" stroke-width="0.8"/>
<line x1="317.80" y1="362.00" x2="285.50" y2="388.70" stroke="#111" stroke-width="0.6"/>
<line x1="361.60" y1="362.00" x2="370.30" y2="388.70" stroke="#111" stroke-width="0.6"/>
<line x1="381.20" y1="362.00" x2="374.90" y2="388.70" stroke="#111" stroke-width="0.6"/>
<line x1="424.70" y1="362.00" x2="460.00" y2="388.70" stroke="#111" stroke-width="0.6"/>
<line x1="342.70" y1="382.40" x2="365.00" y2="382.40" stroke="#222" stroke-width="0.9"/>
<line x1="432.00" y1="382.40" x2="454.40" y2="382.40" stroke="#222" stroke-width="0.9"/>
<line x1="319.20" y1="441.60" x2="365.00" y2="441.60" stroke="#222" stroke-width="0.9"/>
<line x1="408.90" y1="441.60" x2="454.40" y2="441.60" stroke="#222" stroke-width="0.9"/>
</g>
<g id="panel-f">
<text x="470.5" y="333.5" font-size="16">f</text>
<text x="505.3" y="327.4" font-size="9.0">NANOS1 OS</text>
<text x="534.8" y="342.9" font-size="9.3">NANOS1</text>
<rect x="575.40" y="334.50" width="10.60" height="9.50" fill="#ecd2cf"/>
<line x1="575.60" y1="339.40" x2="585.80" y2="339.40" stroke="#a83a32" stroke-width="1.6"/>
<line x1="580.70" y1="337.20" x2="580.70" y2="341.60" stroke="#a83a32" stroke-width="1.2"/>
<text x="590.4" y="342.5" font-size="9.3">High</text>
<rect x="609.50" y="334.50" width="11.00" height="9.50" fill="#cfe3ee"/>
<line x1="609.80" y1="339.40" x2="620.50" y2="339.40" stroke="#3a8ab4" stroke-width="1.4"/>
<line x1="615.20" y1="337.20" x2="615.20" y2="341.60" stroke="#3a8ab4" stroke-width="1.2"/>
<text x="625.2" y="342.5" font-size="9.3">Low</text>
<line x1="504.60" y1="349.50" x2="504.60" y2="452.30" stroke="#000" stroke-width="0.8"/>
<line x1="504.60" y1="452.00" x2="675.30" y2="452.00" stroke="#000" stroke-width="0.8"/>
<line x1="502.60" y1="351.60" x2="504.60" y2="351.60" stroke="#000" stroke-width="0.7"/>
<text x="501.2" y="354.9" font-size="9.2" text-anchor="end">1.00</text>
<line x1="502.60" y1="375.80" x2="504.60" y2="375.80" stroke="#000" stroke-width="0.7"/>
<text x="501.2" y="379.1" font-size="9.2" text-anchor="end">0.75</text>
<line x1="502.60" y1="400.00" x2="504.60" y2="400.00" stroke="#000" stroke-width="0.7"/>
<text x="501.2" y="403.3" font-size="9.2" text-anchor="end">0.50</text>
<line x1="502.60" y1="424.20" x2="504.60" y2="424.20" stroke="#000" stroke-width="0.7"/>
<text x="501.2" y="427.5" font-size="9.2" text-anchor="end">0.25</text>
<line x1="502.60" y1="448.40" x2="504.60" y2="448.40" stroke="#000" stroke-width="0.7"/>
<text x="501.2" y="451.7" font-size="9.2" text-anchor="end">0.00</text>
<line x1="513.00" y1="452.30" x2="513.00" y2="454.50" stroke="#000" stroke-width="0.7"/>
<text x="513.0" y="462.3" font-size="9.2" text-anchor="middle">0</text>
<line x1="551.58" y1="452.30" x2="551.58" y2="454.50" stroke="#000" stroke-width="0.7"/>
<text x="551.6" y="462.3" font-size="9.2" text-anchor="middle">2.5</text>
<line x1="590.15" y1="452.30" x2="590.15" y2="454.50" stroke="#000" stroke-width="0.7"/>
<text x="590.1" y="462.3" font-size="9.2" text-anchor="middle">5</text>
<line x1="628.73" y1="452.30" x2="628.73" y2="454.50" stroke="#000" stroke-width="0.7"/>
<text x="628.7" y="462.3" font-size="9.2" text-anchor="middle">7.5</text>
<text x="588.2" y="470.9" font-size="9.3" text-anchor="middle">Survival time(years)</text>
<path d="M522.3,352.6 L596.3,352.6 L596.3,352.6 L596.3,425.7 L596.3,425.7 L544.9,425.7 L544.9,410.6 L530.7,410.6 L530.7,396.1 L522.6,396.1 L522.6,352.6 L522.3,352.6 Z" fill="#e6c3c0"/>
<g style="mix-blend-mode:multiply">
<path d="M513.0,351.6 L536.9,351.6 L536.9,353.1 L553.7,353.1 L553.7,354.5 L578.9,354.5 L578.9,357.4 L584.4,357.4 L584.4,361.8 L597.9,361.8 L597.9,365.4 L633.4,365.4 L633.4,368.2 L642.6,368.2 L642.6,365.4 L661.1,365.4 L661.1,365.4 L661.1,435.3 L661.1,435.3 L642.6,435.3 L642.6,418.2 L633.4,418.2 L633.4,407.7 L597.9,407.7 L597.9,399.5 L584.4,399.5 L584.4,381.6 L578.9,381.6 L578.9,375.3 L553.7,375.3 L553.7,371.9 L541.2,371.9 L541.2,365.4 L536.9,365.4 L536.9,361.3 L534.0,361.3 L534.0,357.7 L522.7,357.7 L522.7,351.6 L513.0,351.6 Z" fill="#c6dcea"/>
</g>
<path d="M513.0,351.6 L522.7,351.6 L522.7,354.9 L534.0,354.9 L534.0,357.7 L536.9,357.7 L536.9,361.3 L541.2,361.3 L541.2,364.1 L553.7,364.1 L553.7,366.9 L578.9,366.9 L578.9,372.4 L584.4,372.4 L584.4,384.0 L597.9,384.0 L597.9,389.6 L633.4,389.6 L633.4,400.0 L642.6,400.0 L642.6,416.0 L661.1,416.0 L661.1,416.0" fill="none" stroke="#3a8ab4" stroke-width="2.0"/>
<path d="M513.0,351.6 L522.3,351.6 L522.3,362.7 L524.6,362.7 L524.6,372.9 L530.7,372.9 L530.7,386.4 L544.9,386.4 L544.9,401.5 L597.9,401.5 L597.9,401.5" fill="none" stroke="#a83a32" stroke-width="2.0"/>
<line x1="514.54" y1="350.00" x2="514.54" y2="353.20" stroke="#3a8ab4" stroke-width="0.8"/>
<line x1="516.86" y1="350.00" x2="516.86" y2="353.20" stroke="#3a8ab4" stroke-width="0.8"/>
<line x1="519.17" y1="350.00" x2="519.17" y2="353.20" stroke="#3a8ab4" stroke-width="0.8"/>
<line x1="520.72" y1="350.00" x2="520.72" y2="353.20" stroke="#3a8ab4" stroke-width="0.8"/>
<line x1="526.89" y1="353.29" x2="526.89" y2="356.49" stroke="#3a8ab4" stroke-width="0.8"/>
<line x1="531.52" y1="353.29" x2="531.52" y2="356.49" stroke="#3a8ab4" stroke-width="0.8"/>
<line x1="545.40" y1="362.49" x2="545.40" y2="365.69" stroke="#3a8ab4" stroke-width="0.8"/>
<line x1="550.03" y1="362.49" x2="550.03" y2="365.69" stroke="#3a8ab4" stroke-width="0.8"/>
<line x1="559.29" y1="365.29" x2="559.29" y2="368.49" stroke="#3a8ab4" stroke-width="0.8"/>
<line x1="565.46" y1="365.29" x2="565.46" y2="368.49" stroke="#3a8ab4" stroke-width="0.8"/>
<line x1="571.63" y1="365.29" x2="571.63" y2="368.49" stroke="#3a8ab4" stroke-width="0.8"/>
<line x1="576.26" y1="365.29" x2="576.26" y2="368.49" stroke="#3a8ab4" stroke-width="0.8"/>
<line x1="580.89" y1="370.81" x2="580.89" y2="374.01" stroke="#3a8ab4" stroke-width="0.8"/>
<line x1="590.15" y1="382.43" x2="590.15" y2="385.63" stroke="#3a8ab4" stroke-width="0.8"/>
<line x1="608.67" y1="388.04" x2="608.67" y2="391.24" stroke="#3a8ab4" stroke-width="0.8"/>
<line x1="630.27" y1="388.04" x2="630.27" y2="391.24" stroke="#3a8ab4" stroke-width="0.8"/>
<line x1="644.15" y1="414.37" x2="644.15" y2="417.57" stroke="#3a8ab4" stroke-width="0.8"/>
<line x1="567.00" y1="399.95" x2="567.00" y2="403.15" stroke="#a83a32" stroke-width="0.8"/>
<line x1="597.87" y1="399.95" x2="597.87" y2="403.15" stroke="#a83a32" stroke-width="0.8"/>
<line x1="526.89" y1="371.30" x2="526.89" y2="374.50" stroke="#a83a32" stroke-width="0.8"/>
<text x="548.5" y="427.9" font-size="9.3" text-anchor="middle">p=0.021</text>
<text x="548.0" y="437.3" font-size="9.3" text-anchor="middle">Hazard Ratio=3.38</text>
<text x="548.0" y="446.9" font-size="9.3" text-anchor="middle">95% CI:0.6−18.89</text>
</g>
<g id="panel-g">
<text x="260.5" y="486.5" font-size="16">g</text>
<text x="343.6" y="455.2" font-size="8.3" text-anchor="middle">TTN<tspan font-size="4.6" dy="-3">WT</tspan></text>
<text x="415.4" y="455.2" font-size="8.3" text-anchor="middle">TTN<tspan font-size="4.6" dy="-3">MUT</tspan></text>
<line x1="312.90" y1="457.00" x2="381.90" y2="457.00" stroke="#444" stroke-width="0.7"/>
<line x1="384.70" y1="457.00" x2="460.00" y2="457.00" stroke="#444" stroke-width="0.7"/>
<text x="298.8" y="493.6" font-size="8.6" transform="rotate(-45 298.8 493.6)">Organoid1#</text>
<text x="313.3" y="493.6" font-size="8.6" transform="rotate(-45 313.3 493.6)">Organoid2#</text>
<text x="327.7" y="493.6" font-size="8.6" transform="rotate(-45 327.7 493.6)">Organoid3#</text>
<text x="342.1" y="493.6" font-size="8.6" transform="rotate(-45 342.1 493.6)">Organoid4#</text>
<text x="356.6" y="493.6" font-size="8.6" transform="rotate(-45 356.6 493.6)">Organoid5#</text>
<text x="371.0" y="493.6" font-size="8.6" transform="rotate(-45 371.0 493.6)">Organoid6#</text>
<text x="385.5" y="493.6" font-size="8.6" transform="rotate(-45 385.5 493.6)">Organoid7#</text>
<text x="399.9" y="493.6" font-size="8.6" transform="rotate(-45 399.9 493.6)">Organoid8#</text>
<text x="414.3" y="493.6" font-size="8.6" transform="rotate(-45 414.3 493.6)">Organoid9#</text>
<text x="428.8" y="493.6" font-size="8.6" transform="rotate(-45 428.8 493.6)">Organoid10#</text>
<rect x="290.10" y="493.10" width="144.40" height="15.70" fill="#e6e6e6" stroke="#262626" stroke-width="0.9"/>
<g filter="url(#blur1)">
<rect x="291.8" y="499.6" width="11.0" height="2.9" rx="1.5" fill="#050505" opacity="0.45"/>
<rect x="306.3" y="499.9" width="11.0" height="2.3" rx="1.1" fill="#050505" opacity="0.22"/>
<rect x="320.7" y="499.9" width="11.0" height="2.1" rx="1.0" fill="#050505" opacity="0.15"/>
<rect x="335.1" y="499.6" width="11.0" height="2.7" rx="1.4" fill="#050505" opacity="0.35"/>
<rect x="349.6" y="499.4" width="11.0" height="3.1" rx="1.5" fill="#050505" opacity="0.5"/>
<rect x="364.0" y="498.8" width="11.0" height="4.4" rx="2.2" fill="#050505" opacity="1"/>
<rect x="378.5" y="498.8" width="11.0" height="4.4" rx="2.2" fill="#050505" opacity="1"/>
<rect x="392.9" y="499.0" width="11.0" height="4.0" rx="2.0" fill="#050505" opacity="1"/>
<rect x="407.3" y="499.1" width="11.0" height="3.7" rx="1.9" fill="#050505" opacity="0.85"/>
<rect x="421.8" y="498.9" width="11.0" height="4.2" rx="2.1" fill="#050505" opacity="1"/>
</g>
<rect x="290.10" y="513.00" width="144.40" height="13.40" fill="#e6e6e6" stroke="#262626" stroke-width="0.9"/>
<g filter="url(#blur1)">
<rect x="291.5" y="518.2" width="11.6" height="3.6" rx="1.8" fill="#050505" opacity="1"/>
<rect x="306.0" y="518.2" width="11.6" height="3.6" rx="1.8" fill="#050505" opacity="1"/>
<rect x="320.4" y="518.2" width="11.6" height="3.6" rx="1.8" fill="#050505" opacity="1"/>
<rect x="334.8" y="518.2" width="11.6" height="3.6" rx="1.8" fill="#050505" opacity="1"/>
<rect x="349.3" y="518.2" width="11.6" height="3.6" rx="1.8" fill="#050505" opacity="1"/>
<rect x="363.7" y="518.2" width="11.6" height="3.6" rx="1.8" fill="#050505" opacity="1"/>
<rect x="378.2" y="518.2" width="11.6" height="3.6" rx="1.8" fill="#050505" opacity="1"/>
<rect x="392.6" y="518.2" width="11.6" height="3.6" rx="1.8" fill="#050505" opacity="1"/>
<rect x="407.0" y="518.2" width="11.6" height="3.6" rx="1.8" fill="#050505" opacity="1"/>
<rect x="421.5" y="518.2" width="11.6" height="3.6" rx="1.8" fill="#050505" opacity="1"/>
</g>
<text x="284.8" y="504.6" font-size="8.3" text-anchor="end">NANOS1</text>
<text x="284.8" y="523.2" font-size="8.3" text-anchor="end">β-Tubulin</text>
</g>
<g id="panel-h">
<text x="260.5" y="572.5" font-size="16">h</text>
<text x="313.5" y="537.5" font-size="8.5" text-anchor="middle">MDA-MB-231</text>
<line x1="286.60" y1="540.40" x2="335.20" y2="540.40" stroke="#000" stroke-width="1.3"/>
<text x="366.2" y="537.5" font-size="8.5" text-anchor="middle">BT549</text>
<line x1="336.00" y1="541.90" x2="390.40" y2="541.90" stroke="#000" stroke-width="1.3"/>
<text x="425.4" y="537.5" font-size="8.5" text-anchor="middle">MDA-MB-468</text>
<line x1="398.20" y1="540.40" x2="446.80" y2="540.40" stroke="#000" stroke-width="1.3"/>
<text x="479.8" y="537.5" font-size="8.5" text-anchor="middle">HCC1187</text>
<line x1="460.00" y1="540.40" x2="502.70" y2="540.40" stroke="#000" stroke-width="1.3"/>
<text x="299.3" y="579.0" font-size="8.6" transform="rotate(-45 299.3 579.0)">vector</text>
<text x="313.3" y="579.4" font-size="8.6" transform="rotate(-45 313.3 579.4)">NANOS1-OE</text>
<text x="339.5" y="579.0" font-size="8.6" transform="rotate(-45 339.5 579.0)">vector</text>
<text x="353.5" y="579.4" font-size="8.6" transform="rotate(-45 353.5 579.4)">NANOS1-OE</text>
<text x="380.2" y="579.0" font-size="8.6" transform="rotate(-45 380.2 579.0)">scramble</text>
<text x="394.2" y="579.4" font-size="8.6" transform="rotate(-45 394.2 579.4)">NANOS1-KD</text>
<text x="420.4" y="579.0" font-size="8.6" transform="rotate(-45 420.4 579.0)">scramble</text>
<text x="434.4" y="579.4" font-size="8.6" transform="rotate(-45 434.4 579.4)">NANOS1-KD</text>
<rect x="289.70" y="579.40" width="36.20" height="15.00" fill="#e6e6e6" stroke="#262626" stroke-width="0.9"/>
<g filter="url(#blur1)">
<rect x="294.1" y="585.5" width="12.5" height="3.3" rx="1.6" fill="#050505" opacity="0.35"/>
<rect x="309.8" y="584.8" width="12.5" height="4.6" rx="2.2" fill="#050505" opacity="1.0"/>
</g>
<rect x="329.90" y="579.40" width="36.20" height="15.00" fill="#e6e6e6" stroke="#262626" stroke-width="0.9"/>
<g filter="url(#blur1)">
<rect x="334.2" y="585.6" width="12.5" height="2.9" rx="1.5" fill="#050505" opacity="0.18"/>
<rect x="350.0" y="585.1" width="12.5" height="4.0" rx="2.0" fill="#050505" opacity="0.9"/>
</g>
<rect x="370.60" y="579.40" width="36.20" height="15.00" fill="#e6e6e6" stroke="#262626" stroke-width="0.9"/>
<g filter="url(#blur1)">
<rect x="375.0" y="584.3" width="12.5" height="5.6" rx="2.2" fill="#050505" opacity="1.0"/>
<rect x="390.8" y="584.4" width="12.5" height="5.4" rx="2.2" fill="#050505" opacity="1.0"/>
</g>
<rect x="410.80" y="579.40" width="36.20" height="15.00" fill="#e6e6e6" stroke="#262626" stroke-width="0.9"/>
<g filter="url(#blur1)">
<rect x="415.2" y="585.3" width="12.5" height="3.6" rx="1.8" fill="#050505" opacity="0.9"/>
<rect x="430.9" y="585.2" width="12.5" height="3.7" rx="1.9" fill="#050505" opacity="0.5"/>
</g>
<rect x="289.70" y="600.40" width="36.20" height="15.00" fill="#e6e6e6" stroke="#262626" stroke-width="0.9"/>
<g filter="url(#blur1)">
<rect x="294.1" y="606.2" width="12.5" height="3.7" rx="1.9" fill="#050505" opacity="0.65"/>
<rect x="309.8" y="605.6" width="12.5" height="5.0" rx="2.2" fill="#050505" opacity="1.0"/>
</g>
<rect x="329.90" y="600.40" width="36.20" height="15.00" fill="#e6e6e6" stroke="#262626" stroke-width="0.9"/>
<g filter="url(#blur1)">
<rect x="334.2" y="606.6" width="12.5" height="3.1" rx="1.5" fill="#050505" opacity="0.25"/>
<rect x="350.0" y="606.1" width="12.5" height="4.1" rx="2.0" fill="#050505" opacity="0.75"/>
</g>
<rect x="370.60" y="600.40" width="36.20" height="15.00" fill="#e6e6e6" stroke="#262626" stroke-width="0.9"/>
<g filter="url(#blur1)">
<rect x="375.0" y="606.1" width="12.5" height="4.0" rx="2.0" fill="#050505" opacity="0.9"/>
<rect x="390.8" y="606.5" width="12.5" height="3.3" rx="1.6" fill="#050505" opacity="0.3"/>
</g>
<rect x="410.80" y="600.40" width="36.20" height="15.00" fill="#e6e6e6" stroke="#262626" stroke-width="0.9"/>
<g filter="url(#blur1)">
<rect x="415.2" y="605.3" width="12.5" height="5.6" rx="2.2" fill="#050505" opacity="1.0"/>
<rect x="430.9" y="606.2" width="12.5" height="3.8" rx="1.9" fill="#050505" opacity="0.85"/>
</g>
<rect x="289.70" y="621.20" width="36.20" height="14.70" fill="#e6e6e6" stroke="#262626" stroke-width="0.9"/>
<g filter="url(#blur1)">
<rect x="294.1" y="626.2" width="12.5" height="5.2" rx="2.2" fill="#050505" opacity="1"/>
<rect x="309.8" y="626.2" width="12.5" height="5.2" rx="2.2" fill="#050505" opacity="1"/>
</g>
<rect x="329.90" y="621.20" width="36.20" height="14.70" fill="#e6e6e6" stroke="#262626" stroke-width="0.9"/>
<g filter="url(#blur1)">
<rect x="334.2" y="626.2" width="12.5" height="5.2" rx="2.2" fill="#050505" opacity="1"/>
<rect x="350.0" y="626.2" width="12.5" height="5.2" rx="2.2" fill="#050505" opacity="1"/>
</g>
<rect x="370.60" y="621.20" width="36.20" height="14.70" fill="#e6e6e6" stroke="#262626" stroke-width="0.9"/>
<g filter="url(#blur1)">
<rect x="375.0" y="626.2" width="12.5" height="5.2" rx="2.2" fill="#050505" opacity="1"/>
<rect x="390.8" y="626.2" width="12.5" height="5.2" rx="2.2" fill="#050505" opacity="1"/>
</g>
<rect x="410.80" y="621.20" width="36.20" height="14.70" fill="#e6e6e6" stroke="#262626" stroke-width="0.9"/>
<g filter="url(#blur1)">
<rect x="415.2" y="626.2" width="12.5" height="5.2" rx="2.2" fill="#050505" opacity="1"/>
<rect x="430.9" y="626.2" width="12.5" height="5.2" rx="2.2" fill="#050505" opacity="1"/>
</g>
<text x="284.8" y="590.0" font-size="8.3" text-anchor="end">NANOS1</text>
<text x="284.8" y="611.2" font-size="8.3" text-anchor="end">DLL4</text>
<text x="284.8" y="631.8" font-size="8.3" text-anchor="end">β-Tubulin</text>
</g>
<g id="panel-i">
<text x="516.3" y="503.0" font-size="16">i</text>
<text x="582.6" y="481.0" font-size="8.3" text-anchor="end">TTN</text>
<text x="582.6" y="489.4" font-size="8.3" text-anchor="end">NANOS1</text>
<text x="588.2" y="480.1" font-size="6.5" text-anchor="middle" fill="#333">+</text>
<text x="588.2" y="488.5" font-size="6.5" text-anchor="middle" fill="#333">+</text>
<text x="606.8" y="480.1" font-size="6.5" text-anchor="middle" fill="#333">+</text>
<text x="606.8" y="488.5" font-size="6.5" text-anchor="middle" fill="#333">-</text>
<text x="627.6" y="480.1" font-size="6.5" text-anchor="middle" fill="#333">-</text>
<text x="627.6" y="488.5" font-size="6.5" text-anchor="middle" fill="#333">+</text>
<text x="643.4" y="480.1" font-size="6.5" text-anchor="middle" fill="#333">-</text>
<text x="643.4" y="488.5" font-size="6.5" text-anchor="middle" fill="#333">-</text>
<rect x="575.60" y="494.50" width="82.50" height="14.10" fill="#e6e6e6" stroke="#262626" stroke-width="0.9"/>
<g filter="url(#blur1)">
<rect x="580.2" y="499.6" width="15.5" height="3.9" rx="2.0" fill="#050505" opacity="1"/>
<rect x="598.9" y="499.6" width="15.5" height="3.9" rx="2.0" fill="#050505" opacity="1"/>
</g>
<text x="572.4" y="504.9" font-size="8.6" text-anchor="end">TTN</text>
<rect x="575.60" y="511.90" width="82.50" height="14.50" fill="#e6e6e6" stroke="#262626" stroke-width="0.9"/>
<g filter="url(#blur1)">
<rect x="580.2" y="516.9" width="15.5" height="4.6" rx="2.2" fill="#050505" opacity="1"/>
<rect x="599.9" y="517.4" width="13.5" height="3.5" rx="1.8" fill="#050505" opacity="0.6"/>
<rect x="619.6" y="516.5" width="15.5" height="5.2" rx="2.2" fill="#050505" opacity="1"/>
<rect x="638.2" y="517.6" width="13.5" height="3.1" rx="1.5" fill="#050505" opacity="0.35"/>
</g>
<text x="572.4" y="522.5" font-size="8.6" text-anchor="end">NANOS1</text>
<rect x="575.60" y="529.60" width="82.50" height="14.20" fill="#e6e6e6" stroke="#262626" stroke-width="0.9"/>
<g filter="url(#blur1)">
<rect x="580.2" y="534.5" width="15.5" height="4.4" rx="2.2" fill="#050505" opacity="1"/>
<rect x="599.9" y="535.0" width="13.5" height="3.5" rx="1.8" fill="#050505" opacity="0.6"/>
<rect x="619.6" y="533.9" width="15.5" height="5.6" rx="2.2" fill="#050505" opacity="1"/>
<rect x="637.2" y="534.8" width="15.5" height="3.9" rx="2.0" fill="#050505" opacity="0.8"/>
</g>
<text x="572.4" y="540.1" font-size="8.6" text-anchor="end">DLL4</text>
<rect x="575.60" y="547.00" width="82.50" height="13.90" fill="#e6e6e6" stroke="#262626" stroke-width="0.9"/>
<g filter="url(#blur1)">
<rect x="580.2" y="551.9" width="15.5" height="4.1" rx="2.0" fill="#050505" opacity="1"/>
<rect x="598.9" y="551.9" width="15.5" height="4.1" rx="2.0" fill="#050505" opacity="1"/>
<rect x="619.6" y="551.9" width="15.5" height="4.1" rx="2.0" fill="#050505" opacity="1"/>
<rect x="637.2" y="551.9" width="15.5" height="4.1" rx="2.0" fill="#050505" opacity="1"/>
</g>
<text x="572.4" y="557.3" font-size="8.6" text-anchor="end">β-Tubulin</text>
</g>
<g id="panel-j">
<text x="517.3" y="571.0" font-size="16">j</text>
<rect x="476.40" y="581.50" width="13.80" height="6.00" fill="#f5e6c8" stroke="#555" stroke-width="0.6"/>
<text x="498.4" y="587.7" font-size="8.8">TTN<tspan font-size="4.8" dy="-3.2">WT</tspan><tspan font-size="8.8" dy="3.2">-scramble</tspan></text>
<rect x="476.40" y="597.20" width="13.80" height="6.00" fill="#d6f0f0" stroke="#555" stroke-width="0.6"/>
<text x="498.4" y="603.4" font-size="8.8">TTN<tspan font-size="4.8" dy="-3.2">WT</tspan><tspan font-size="7.2" dy="3.2">-shNANOS1</tspan></text>
<rect x="476.40" y="612.80" width="13.80" height="6.00" fill="#e8b89a" stroke="#555" stroke-width="0.6"/>
<text x="498.4" y="619.0" font-size="8.8">TTN<tspan font-size="4.8" dy="-3.2">KO</tspan><tspan font-size="8.8" dy="3.2">-scramble</tspan></text>
<rect x="476.40" y="628.20" width="13.80" height="6.00" fill="#f0b8d8" stroke="#555" stroke-width="0.6"/>
<text x="498.4" y="634.4" font-size="8.8">TTN<tspan font-size="4.8" dy="-3.2">KO</tspan><tspan font-size="7.2" dy="3.2">-shNANOS1</tspan></text>
<line x1="578.90" y1="570.56" x2="578.90" y2="638.40" stroke="#000" stroke-width="0.8"/>
<line x1="578.90" y1="638.40" x2="685.00" y2="638.40" stroke="#000" stroke-width="0.8"/>
<line x1="576.50" y1="638.40" x2="578.90" y2="638.40" stroke="#000" stroke-width="0.7"/>
<text x="575.5" y="641.5" font-size="8.6" text-anchor="end">0</text>
<line x1="576.50" y1="621.54" x2="578.90" y2="621.54" stroke="#000" stroke-width="0.7"/>
<text x="575.5" y="624.6" font-size="8.6" text-anchor="end">2</text>
<line x1="576.50" y1="604.68" x2="578.90" y2="604.68" stroke="#000" stroke-width="0.7"/>
<text x="575.5" y="607.8" font-size="8.6" text-anchor="end">4</text>
<line x1="576.50" y1="587.82" x2="578.90" y2="587.82" stroke="#000" stroke-width="0.7"/>
<text x="575.5" y="590.9" font-size="8.6" text-anchor="end">6</text>
<line x1="576.50" y1="570.96" x2="578.90" y2="570.96" stroke="#000" stroke-width="0.7"/>
<text x="575.5" y="574.1" font-size="8.6" text-anchor="end">8</text>
<text x="571.4" y="604.5" font-size="8.3" text-anchor="middle" transform="rotate(-90 571.4 604.5)">RNA fold change</text>
<rect x="584.80" y="629.97" width="9.40" height="8.43" fill="#f5e6c8" stroke="#8a8270" stroke-width="0.5"/>
<line x1="589.50" y1="628.96" x2="589.50" y2="630.98" stroke="#444" stroke-width="0.5"/>
<line x1="588.00" y1="628.96" x2="591.00" y2="628.96" stroke="#444" stroke-width="0.5"/>
<circle cx="587.70" cy="629.55" r="1.80" fill="#fff" stroke="#222" stroke-width="0.6"/>
<circle cx="591.10" cy="630.14" r="1.80" fill="#fff" stroke="#222" stroke-width="0.6"/>
<circle cx="589.50" cy="628.96" r="1.80" fill="#fff" stroke="#222" stroke-width="0.6"/>
<rect x="597.00" y="634.18" width="9.40" height="4.22" fill="#d6f0f0" stroke="#7a9a9a" stroke-width="0.5"/>
<line x1="601.70" y1="633.17" x2="601.70" y2="635.20" stroke="#444" stroke-width="0.5"/>
<line x1="600.20" y1="633.17" x2="603.20" y2="633.17" stroke="#444" stroke-width="0.5"/>
<circle cx="599.90" cy="633.76" r="1.80" fill="#fff" stroke="#222" stroke-width="0.6"/>
<circle cx="603.30" cy="634.35" r="1.80" fill="#fff" stroke="#222" stroke-width="0.6"/>
<circle cx="601.70" cy="633.17" r="1.80" fill="#fff" stroke="#222" stroke-width="0.6"/>
<rect x="607.80" y="605.52" width="9.40" height="32.88" fill="#e8b89a" stroke="#9a7a62" stroke-width="0.5"/>
<line x1="612.50" y1="601.73" x2="612.50" y2="609.32" stroke="#444" stroke-width="0.5"/>
<line x1="611.00" y1="601.73" x2="614.00" y2="601.73" stroke="#444" stroke-width="0.5"/>
<circle cx="611.90" cy="610.16" r="1.80" fill="#fff" stroke="#222" stroke-width="0.6"/>
<circle cx="613.30" cy="604.68" r="1.80" fill="#fff" stroke="#222" stroke-width="0.6"/>
<circle cx="612.50" cy="600.46" r="1.80" fill="#fff" stroke="#222" stroke-width="0.6"/>
<rect x="618.30" y="634.18" width="9.40" height="4.22" fill="#f0b8d8" stroke="#a07a90" stroke-width="0.5"/>
<line x1="623.00" y1="633.17" x2="623.00" y2="635.20" stroke="#444" stroke-width="0.5"/>
<line x1="621.50" y1="633.17" x2="624.50" y2="633.17" stroke="#444" stroke-width="0.5"/>
<circle cx="621.20" cy="633.76" r="1.80" fill="#fff" stroke="#222" stroke-width="0.6"/>
<circle cx="624.60" cy="634.35" r="1.80" fill="#fff" stroke="#222" stroke-width="0.6"/>
<circle cx="623.00" cy="633.17" r="1.80" fill="#fff" stroke="#222" stroke-width="0.6"/>
<rect x="637.40" y="629.97" width="9.40" height="8.43" fill="#f5e6c8" stroke="#8a8270" stroke-width="0.5"/>
<line x1="642.10" y1="628.96" x2="642.10" y2="630.98" stroke="#444" stroke-width="0.5"/>
<line x1="640.60" y1="628.96" x2="643.60" y2="628.96" stroke="#444" stroke-width="0.5"/>
<circle cx="640.30" cy="629.55" r="1.80" fill="#fff" stroke="#222" stroke-width="0.6"/>
<circle cx="643.70" cy="630.14" r="1.80" fill="#fff" stroke="#222" stroke-width="0.6"/>
<circle cx="642.10" cy="628.96" r="1.80" fill="#fff" stroke="#222" stroke-width="0.6"/>
<rect x="648.90" y="633.34" width="9.40" height="5.06" fill="#d6f0f0" stroke="#7a9a9a" stroke-width="0.5"/>
<line x1="653.60" y1="632.33" x2="653.60" y2="634.35" stroke="#444" stroke-width="0.5"/>
<line x1="652.10" y1="632.33" x2="655.10" y2="632.33" stroke="#444" stroke-width="0.5"/>
<circle cx="651.80" cy="632.92" r="1.80" fill="#fff" stroke="#222" stroke-width="0.6"/>
<circle cx="655.20" cy="633.51" r="1.80" fill="#fff" stroke="#222" stroke-width="0.6"/>
<circle cx="653.60" cy="632.33" r="1.80" fill="#fff" stroke="#222" stroke-width="0.6"/>
<rect x="660.40" y="586.98" width="9.40" height="51.42" fill="#e8b89a" stroke="#9a7a62" stroke-width="0.5"/>
<line x1="665.10" y1="583.18" x2="665.10" y2="590.77" stroke="#444" stroke-width="0.5"/>
<line x1="663.60" y1="583.18" x2="666.60" y2="583.18" stroke="#444" stroke-width="0.5"/>
<circle cx="664.50" cy="591.61" r="1.80" fill="#fff" stroke="#222" stroke-width="0.6"/>
<circle cx="665.90" cy="586.13" r="1.80" fill="#fff" stroke="#222" stroke-width="0.6"/>
<circle cx="665.10" cy="581.92" r="1.80" fill="#fff" stroke="#222" stroke-width="0.6"/>
<rect x="671.90" y="633.34" width="9.40" height="5.06" fill="#f0b8d8" stroke="#a07a90" stroke-width="0.5"/>
<line x1="676.60" y1="632.33" x2="676.60" y2="634.35" stroke="#444" stroke-width="0.5"/>
<line x1="675.10" y1="632.33" x2="678.10" y2="632.33" stroke="#444" stroke-width="0.5"/>
<circle cx="674.80" cy="632.92" r="1.80" fill="#fff" stroke="#222" stroke-width="0.6"/>
<circle cx="678.20" cy="633.51" r="1.80" fill="#fff" stroke="#222" stroke-width="0.6"/>
<circle cx="676.60" cy="632.33" r="1.80" fill="#fff" stroke="#222" stroke-width="0.6"/>
<line x1="589.80" y1="593.00" x2="612.80" y2="593.00" stroke="#000" stroke-width="0.7"/>
<text x="601.3" y="595.5" font-size="8" text-anchor="middle">**</text>
<line x1="597.30" y1="586.50" x2="621.60" y2="586.50" stroke="#000" stroke-width="0.7"/>
<text x="611.0" y="585.9" font-size="8.6" text-anchor="middle">n.s.</text>
<line x1="642.30" y1="574.00" x2="663.70" y2="574.00" stroke="#000" stroke-width="0.7"/>
<text x="653.6" y="576.5" font-size="8" text-anchor="middle">***</text>
<line x1="653.80" y1="567.80" x2="676.80" y2="567.80" stroke="#000" stroke-width="0.7"/>
<text x="665.4" y="567.3" font-size="8.6" text-anchor="middle">n.s.</text>
<text x="606.2" y="651.1" font-size="8.6" text-anchor="middle">NANOS1</text>
<text x="658.8" y="651.1" font-size="8.6" text-anchor="middle">DLL4</text>
</g>
<g id="panel-k">
<text x="3.0" y="595.5" font-size="16">k</text>
<rect x="26.40" y="602.50" width="186.60" height="37.80" fill="#1a1a1a"/>
<rect x="26.4" y="602.5" width="186.6" height="37.8" fill="url(#gelg)"/>
<g filter="url(#blur2)">
<rect x="62.30" y="608.50" width="23.60" height="19.40" fill="#5a5a5a" opacity="0.25"/>
<rect x="60.30" y="622.40" width="27.60" height="7.00" fill="#888" opacity="0.4"/>
<rect x="123.60" y="608.50" width="23.40" height="19.40" fill="#5a5a5a" opacity="0.25"/>
<rect x="121.60" y="622.40" width="27.40" height="7.00" fill="#888" opacity="0.4"/>
<rect x="154.30" y="608.50" width="23.10" height="19.40" fill="#5a5a5a" opacity="0.25"/>
<rect x="152.30" y="622.40" width="27.10" height="7.00" fill="#888" opacity="0.4"/>
<rect x="30.80" y="605.50" width="24.00" height="11.00" fill="#666" opacity="0.22"/>
<rect x="32.80" y="616.50" width="20.00" height="10.00" fill="#000" opacity="0.35"/>
<rect x="184.00" y="605.50" width="24.00" height="11.00" fill="#666" opacity="0.22"/>
<rect x="186.00" y="616.50" width="20.00" height="10.00" fill="#000" opacity="0.35"/>
</g>
<g filter="url(#blur3)">
<rect x="61.70" y="624.30" width="24.80" height="3.20" fill="#ffffff" rx="1.5"/>
<rect x="123.00" y="624.30" width="24.60" height="3.20" fill="#ffffff" rx="1.5"/>
<rect x="153.70" y="624.30" width="24.30" height="3.20" fill="#ffffff" rx="1.5"/>
<rect x="30.80" y="606.50" width="24.00" height="1.10" fill="#8a8a8a" opacity="0.60"/>
<rect x="30.80" y="609.90" width="24.00" height="1.10" fill="#8a8a8a" opacity="0.47"/>
<rect x="30.80" y="613.30" width="24.00" height="1.10" fill="#8a8a8a" opacity="0.34"/>
<rect x="30.80" y="616.70" width="24.00" height="1.10" fill="#8a8a8a" opacity="0.21"/>
<rect x="184.00" y="606.50" width="24.00" height="1.10" fill="#8a8a8a" opacity="0.60"/>
<rect x="184.00" y="609.90" width="24.00" height="1.10" fill="#8a8a8a" opacity="0.47"/>
<rect x="184.00" y="613.30" width="24.00" height="1.10" fill="#8a8a8a" opacity="0.34"/>
<rect x="184.00" y="616.70" width="24.00" height="1.10" fill="#8a8a8a" opacity="0.21"/>
</g>
<text x="23.6" y="621.4" font-size="8.5" text-anchor="middle" transform="rotate(-90 23.6 621.4)">Site1</text>
<text x="42.4" y="600.9" font-size="8.5" transform="rotate(-45 42.4 600.9)">marker</text>
<text x="74.0" y="600.9" font-size="8.5" transform="rotate(-45 74.0 600.9)">PC</text>
<text x="105.5" y="600.9" font-size="8.5" transform="rotate(-45 105.5 600.9)">IgG</text>
<text x="135.3" y="600.9" font-size="8.5" transform="rotate(-45 135.3 600.9)">Input</text>
<text x="166.8" y="600.9" font-size="8.5" transform="rotate(-45 166.8 600.9)">NANOS1</text>
<text x="196.6" y="600.9" font-size="8.5" transform="rotate(-45 196.6 600.9)">marker</text>
<text x="213.2" y="625.6" font-size="7.9">300</text>
<text x="213.2" y="632.2" font-size="7.9">200</text>
<rect x="26.40" y="669.70" width="186.60" height="37.80" fill="#1a1a1a"/>
<rect x="26.4" y="669.7" width="186.6" height="37.8" fill="url(#gelg)"/>
<g filter="url(#blur2)">
<rect x="61.30" y="675.70" width="21.80" height="19.20" fill="#5a5a5a" opacity="0.25"/>
<rect x="59.30" y="689.40" width="25.80" height="7.00" fill="#888" opacity="0.4"/>
<rect x="121.20" y="675.70" width="22.20" height="19.20" fill="#5a5a5a" opacity="0.25"/>
<rect x="119.20" y="689.40" width="26.20" height="7.00" fill="#888" opacity="0.4"/>
<rect x="29.80" y="672.70" width="24.00" height="11.00" fill="#666" opacity="0.22"/>
<rect x="31.80" y="683.70" width="20.00" height="10.00" fill="#000" opacity="0.35"/>
<rect x="181.00" y="672.70" width="24.00" height="11.00" fill="#666" opacity="0.22"/>
<rect x="183.00" y="683.70" width="20.00" height="10.00" fill="#000" opacity="0.35"/>
</g>
<g filter="url(#blur3)">
<rect x="60.70" y="691.30" width="23.00" height="3.20" fill="#ffffff" rx="1.5"/>
<rect x="120.60" y="691.30" width="23.40" height="3.20" fill="#ffffff" rx="1.5"/>
<rect x="29.80" y="673.70" width="24.00" height="1.10" fill="#8a8a8a" opacity="0.60"/>
<rect x="29.80" y="677.10" width="24.00" height="1.10" fill="#8a8a8a" opacity="0.47"/>
<rect x="29.80" y="680.50" width="24.00" height="1.10" fill="#8a8a8a" opacity="0.34"/>
<rect x="29.80" y="683.90" width="24.00" height="1.10" fill="#8a8a8a" opacity="0.21"/>
<rect x="181.00" y="673.70" width="24.00" height="1.10" fill="#8a8a8a" opacity="0.60"/>
<rect x="181.00" y="677.10" width="24.00" height="1.10" fill="#8a8a8a" opacity="0.47"/>
<rect x="181.00" y="680.50" width="24.00" height="1.10" fill="#8a8a8a" opacity="0.34"/>
<rect x="181.00" y="683.90" width="24.00" height="1.10" fill="#8a8a8a" opacity="0.21"/>
</g>
<text x="23.6" y="688.6" font-size="8.5" text-anchor="middle" transform="rotate(-90 23.6 688.6)">Site2</text>
<text x="42.4" y="668.1" font-size="8.5" transform="rotate(-45 42.4 668.1)">marker</text>
<text x="74.0" y="668.1" font-size="8.5" transform="rotate(-45 74.0 668.1)">PC</text>
<text x="105.5" y="668.1" font-size="8.5" transform="rotate(-45 105.5 668.1)">IgG</text>
<text x="135.3" y="668.1" font-size="8.5" transform="rotate(-45 135.3 668.1)">Input</text>
<text x="166.8" y="668.1" font-size="8.5" transform="rotate(-45 166.8 668.1)">NANOS1</text>
<text x="193.6" y="667.9" font-size="7.1" transform="rotate(-45 193.6 667.9)">marker</text>
<text x="213.2" y="692.6" font-size="7.9">300</text>
<text x="213.2" y="699.2" font-size="7.9">200</text>
<rect x="26.40" y="736.80" width="186.60" height="37.80" fill="#1a1a1a"/>
<rect x="26.4" y="736.8" width="186.6" height="37.8" fill="url(#gelg)"/>
<g filter="url(#blur2)">
<rect x="62.40" y="742.80" width="24.30" height="20.10" fill="#5a5a5a" opacity="0.25"/>
<rect x="60.40" y="757.40" width="28.30" height="7.00" fill="#888" opacity="0.4"/>
<rect x="123.60" y="742.80" width="24.30" height="20.10" fill="#5a5a5a" opacity="0.25"/>
<rect x="121.60" y="757.40" width="28.30" height="7.00" fill="#888" opacity="0.4"/>
<rect x="31.60" y="739.80" width="24.00" height="11.00" fill="#666" opacity="0.22"/>
<rect x="33.60" y="750.80" width="20.00" height="10.00" fill="#000" opacity="0.35"/>
<rect x="184.00" y="739.80" width="24.00" height="11.00" fill="#666" opacity="0.22"/>
<rect x="186.00" y="750.80" width="20.00" height="10.00" fill="#000" opacity="0.35"/>
</g>
<g filter="url(#blur3)">
<rect x="61.80" y="759.30" width="25.50" height="3.20" fill="#ffffff" rx="1.5"/>
<rect x="123.00" y="759.30" width="25.50" height="3.20" fill="#ffffff" rx="1.5"/>
<rect x="31.60" y="740.80" width="24.00" height="1.10" fill="#8a8a8a" opacity="0.60"/>
<rect x="31.60" y="744.20" width="24.00" height="1.10" fill="#8a8a8a" opacity="0.47"/>
<rect x="31.60" y="747.60" width="24.00" height="1.10" fill="#8a8a8a" opacity="0.34"/>
<rect x="31.60" y="751.00" width="24.00" height="1.10" fill="#8a8a8a" opacity="0.21"/>
<rect x="184.00" y="740.80" width="24.00" height="1.10" fill="#8a8a8a" opacity="0.60"/>
<rect x="184.00" y="744.20" width="24.00" height="1.10" fill="#8a8a8a" opacity="0.47"/>
<rect x="184.00" y="747.60" width="24.00" height="1.10" fill="#8a8a8a" opacity="0.34"/>
<rect x="184.00" y="751.00" width="24.00" height="1.10" fill="#8a8a8a" opacity="0.21"/>
</g>
<text x="23.6" y="755.7" font-size="8.5" text-anchor="middle" transform="rotate(-90 23.6 755.7)">Site3</text>
<text x="42.4" y="735.2" font-size="8.5" transform="rotate(-45 42.4 735.2)">marker</text>
<text x="74.0" y="735.2" font-size="8.5" transform="rotate(-45 74.0 735.2)">PC</text>
<text x="105.5" y="735.2" font-size="8.5" transform="rotate(-45 105.5 735.2)">IgG</text>
<text x="135.3" y="735.2" font-size="8.5" transform="rotate(-45 135.3 735.2)">Input</text>
<text x="166.8" y="735.2" font-size="8.5" transform="rotate(-45 166.8 735.2)">NANOS1</text>
<text x="196.6" y="735.2" font-size="8.5" transform="rotate(-45 196.6 735.2)">marker</text>
<text x="213.2" y="760.6" font-size="7.9">300</text>
<text x="213.2" y="767.2" font-size="7.9">200</text>
<rect x="26.40" y="803.90" width="186.60" height="37.50" fill="#1a1a1a"/>
<rect x="26.4" y="803.9" width="186.6" height="37.5" fill="url(#gelg)"/>
<g filter="url(#blur2)">
<rect x="60.60" y="809.90" width="23.80" height="21.40" fill="#5a5a5a" opacity="0.25"/>
<rect x="58.60" y="825.80" width="27.80" height="7.00" fill="#888" opacity="0.4"/>
<rect x="121.90" y="809.90" width="22.50" height="21.40" fill="#5a5a5a" opacity="0.25"/>
<rect x="119.90" y="825.80" width="26.50" height="7.00" fill="#888" opacity="0.4"/>
<rect x="29.80" y="806.90" width="24.00" height="11.00" fill="#666" opacity="0.22"/>
<rect x="31.80" y="817.90" width="20.00" height="10.00" fill="#000" opacity="0.35"/>
<rect x="182.20" y="806.90" width="24.00" height="11.00" fill="#666" opacity="0.22"/>
<rect x="184.20" y="817.90" width="20.00" height="10.00" fill="#000" opacity="0.35"/>
</g>
<g filter="url(#blur3)">
<rect x="60.00" y="827.70" width="25.00" height="3.20" fill="#ffffff" rx="1.5"/>
<rect x="121.30" y="827.70" width="23.70" height="3.20" fill="#ffffff" rx="1.5"/>
<rect x="29.80" y="807.90" width="24.00" height="1.10" fill="#8a8a8a" opacity="0.60"/>
<rect x="29.80" y="811.30" width="24.00" height="1.10" fill="#8a8a8a" opacity="0.47"/>
<rect x="29.80" y="814.70" width="24.00" height="1.10" fill="#8a8a8a" opacity="0.34"/>
<rect x="29.80" y="818.10" width="24.00" height="1.10" fill="#8a8a8a" opacity="0.21"/>
<rect x="182.20" y="807.90" width="24.00" height="1.10" fill="#8a8a8a" opacity="0.60"/>
<rect x="182.20" y="811.30" width="24.00" height="1.10" fill="#8a8a8a" opacity="0.47"/>
<rect x="182.20" y="814.70" width="24.00" height="1.10" fill="#8a8a8a" opacity="0.34"/>
<rect x="182.20" y="818.10" width="24.00" height="1.10" fill="#8a8a8a" opacity="0.21"/>
</g>
<text x="23.6" y="822.6" font-size="8.5" text-anchor="middle" transform="rotate(-90 23.6 822.6)">Site4</text>
<text x="42.4" y="802.3" font-size="8.5" transform="rotate(-45 42.4 802.3)">marker</text>
<text x="74.0" y="802.3" font-size="8.5" transform="rotate(-45 74.0 802.3)">PC</text>
<text x="105.5" y="802.3" font-size="8.5" transform="rotate(-45 105.5 802.3)">IgG</text>
<text x="135.3" y="802.3" font-size="8.5" transform="rotate(-45 135.3 802.3)">Input</text>
<text x="166.8" y="802.3" font-size="8.5" transform="rotate(-45 166.8 802.3)">NANOS1</text>
<text x="196.6" y="802.3" font-size="8.5" transform="rotate(-45 196.6 802.3)">marker</text>
<text x="213.2" y="829.0" font-size="7.9">300</text>
<text x="213.2" y="835.6" font-size="7.9">200</text>
</g>
<g id="panel-l">
<text x="230.3" y="632.6" font-size="16">l</text>
<line x1="255.10" y1="641.90" x2="255.10" y2="720.20" stroke="#000" stroke-width="0.9"/>
<line x1="255.10" y1="720.20" x2="305.80" y2="720.20" stroke="#000" stroke-width="0.9"/>
<line x1="252.70" y1="720.20" x2="255.10" y2="720.20" stroke="#000" stroke-width="0.7"/>
<text x="252.1" y="723.5" font-size="9.2" text-anchor="end">0.0</text>
<line x1="252.70" y1="704.95" x2="255.10" y2="704.95" stroke="#000" stroke-width="0.7"/>
<text x="252.1" y="708.3" font-size="9.2" text-anchor="end">0.5</text>
<line x1="252.70" y1="689.70" x2="255.10" y2="689.70" stroke="#000" stroke-width="0.7"/>
<text x="252.1" y="693.0" font-size="9.2" text-anchor="end">1.0</text>
<line x1="252.70" y1="674.45" x2="255.10" y2="674.45" stroke="#000" stroke-width="0.7"/>
<text x="252.1" y="677.8" font-size="9.2" text-anchor="end">1.5</text>
<line x1="252.70" y1="659.20" x2="255.10" y2="659.20" stroke="#000" stroke-width="0.7"/>
<text x="252.1" y="662.5" font-size="9.2" text-anchor="end">2.0</text>
<line x1="252.70" y1="643.95" x2="255.10" y2="643.95" stroke="#000" stroke-width="0.7"/>
<text x="252.1" y="647.3" font-size="9.2" text-anchor="end">2.5</text>
<text x="239.4" y="688.3" font-size="8.6" text-anchor="middle" transform="rotate(-90 239.4 688.3)">Relative luciferase activity</text>
<rect x="259.20" y="689.70" width="15.40" height="30.50" fill="#dff7d5" stroke="#8a9a86" stroke-width="0.8"/>
<line x1="266.90" y1="720.20" x2="266.90" y2="722.40" stroke="#000" stroke-width="0.7"/>
<circle cx="261.50" cy="689.70" r="2.10" fill="#fff" stroke="#222" stroke-width="0.6"/>
<circle cx="266.90" cy="689.70" r="2.10" fill="#fff" stroke="#222" stroke-width="0.6"/>
<circle cx="272.30" cy="689.70" r="2.10" fill="#fff" stroke="#222" stroke-width="0.6"/>
<rect x="283.70" y="667.13" width="15.80" height="53.07" fill="#c08086" stroke="#6a4a4c" stroke-width="0.8"/>
<line x1="291.60" y1="720.20" x2="291.60" y2="722.40" stroke="#000" stroke-width="0.7"/>
<line x1="291.60" y1="661.64" x2="291.60" y2="672.62" stroke="#222" stroke-width="0.7"/>
<line x1="288.80" y1="661.64" x2="294.40" y2="661.64" stroke="#222" stroke-width="0.7"/>
<line x1="288.80" y1="672.62" x2="294.40" y2="672.62" stroke="#222" stroke-width="0.7"/>
<circle cx="285.60" cy="662.56" r="2.10" fill="#fff" stroke="#222" stroke-width="0.6"/>
<circle cx="297.80" cy="664.69" r="2.10" fill="#fff" stroke="#222" stroke-width="0.6"/>
<circle cx="291.20" cy="672.62" r="2.10" fill="#fff" stroke="#222" stroke-width="0.6"/>
<line x1="266.50" y1="648.00" x2="291.60" y2="648.00" stroke="#000" stroke-width="0.9"/>
<text x="279.0" y="650.6" font-size="9" text-anchor="middle">**</text>
<text x="270.4" y="724.4" font-size="9.2" text-anchor="end" transform="rotate(-31 270.4 724.4)">vector</text>
<text x="300.2" y="724.4" font-size="9.2" text-anchor="end" transform="rotate(-31 300.2 724.4)">NANOS1</text>
</g>
<g id="panel-n">
<text x="297.0" y="647.6" font-size="16">n</text>
<line x1="331.20" y1="645.00" x2="331.20" y2="716.20" stroke="#000" stroke-width="0.9"/>
<line x1="331.20" y1="716.20" x2="384.70" y2="716.20" stroke="#000" stroke-width="0.9"/>
<line x1="328.80" y1="716.20" x2="331.20" y2="716.20" stroke="#000" stroke-width="0.7"/>
<text x="328.2" y="719.1" font-size="9.2" text-anchor="end">0.0</text>
<line x1="328.80" y1="702.45" x2="331.20" y2="702.45" stroke="#000" stroke-width="0.7"/>
<text x="328.2" y="705.8" font-size="9.2" text-anchor="end">0.5</text>
<line x1="328.80" y1="688.70" x2="331.20" y2="688.70" stroke="#000" stroke-width="0.7"/>
<text x="328.2" y="692.0" font-size="9.2" text-anchor="end">1.0</text>
<line x1="328.80" y1="674.95" x2="331.20" y2="674.95" stroke="#000" stroke-width="0.7"/>
<text x="328.2" y="678.3" font-size="9.2" text-anchor="end">1.5</text>
<line x1="328.80" y1="661.20" x2="331.20" y2="661.20" stroke="#000" stroke-width="0.7"/>
<text x="328.2" y="664.5" font-size="9.2" text-anchor="end">2.0</text>
<line x1="328.80" y1="647.45" x2="331.20" y2="647.45" stroke="#000" stroke-width="0.7"/>
<text x="328.2" y="650.8" font-size="9.2" text-anchor="end">2.5</text>
<text x="313.2" y="683.0" font-size="6.7" text-anchor="middle" transform="rotate(-90 313.2 683.0)">Relative luciferase activity</text>
<rect x="335.60" y="688.70" width="12.30" height="27.50" fill="#80a2d0" stroke="#56708e" stroke-width="0.8"/>
<line x1="341.75" y1="716.20" x2="341.75" y2="718.40" stroke="#000" stroke-width="0.7"/>
<circle cx="337.95" cy="688.70" r="1.90" fill="#fff" stroke="#222" stroke-width="0.6"/>
<circle cx="341.75" cy="688.70" r="1.90" fill="#fff" stroke="#222" stroke-width="0.6"/>
<circle cx="345.55" cy="688.70" r="1.90" fill="#fff" stroke="#222" stroke-width="0.6"/>
<rect x="352.40" y="666.70" width="12.30" height="49.50" fill="#c8caf2" stroke="#7c7ea6" stroke-width="0.8"/>
<line x1="358.55" y1="716.20" x2="358.55" y2="718.40" stroke="#000" stroke-width="0.7"/>
<line x1="358.55" y1="662.58" x2="358.55" y2="670.83" stroke="#222" stroke-width="0.7"/>
<line x1="355.75" y1="662.58" x2="361.35" y2="662.58" stroke="#222" stroke-width="0.7"/>
<line x1="355.75" y1="670.83" x2="361.35" y2="670.83" stroke="#222" stroke-width="0.7"/>
<circle cx="356.05" cy="662.58" r="1.90" fill="#fff" stroke="#222" stroke-width="0.6"/>
<circle cx="361.95" cy="666.70" r="1.90" fill="#fff" stroke="#222" stroke-width="0.6"/>
<circle cx="359.05" cy="669.45" r="1.90" fill="#fff" stroke="#222" stroke-width="0.6"/>
<rect x="369.60" y="687.33" width="12.30" height="28.88" fill="#e2b4ea" stroke="#9a7aa2" stroke-width="0.8"/>
<line x1="375.75" y1="716.20" x2="375.75" y2="718.40" stroke="#000" stroke-width="0.7"/>
<line x1="375.75" y1="684.03" x2="375.75" y2="690.62" stroke="#222" stroke-width="0.7"/>
<line x1="372.95" y1="684.03" x2="378.55" y2="684.03" stroke="#222" stroke-width="0.7"/>
<line x1="372.95" y1="690.62" x2="378.55" y2="690.62" stroke="#222" stroke-width="0.7"/>
<circle cx="372.35" cy="688.70" r="1.90" fill="#fff" stroke="#222" stroke-width="0.6"/>
<circle cx="379.35" cy="685.95" r="1.90" fill="#fff" stroke="#222" stroke-width="0.6"/>
<circle cx="375.75" cy="682.38" r="1.90" fill="#fff" stroke="#222" stroke-width="0.6"/>
<line x1="342.60" y1="647.30" x2="375.90" y2="647.30" stroke="#000" stroke-width="0.9"/>
<text x="358.8" y="646.6" font-size="9" text-anchor="middle">n.s.</text>
<line x1="342.60" y1="654.30" x2="357.70" y2="654.30" stroke="#000" stroke-width="0.9"/>
<text x="350.2" y="656.7" font-size="8.4" text-anchor="middle">***</text>
<line x1="361.20" y1="654.30" x2="375.90" y2="654.30" stroke="#000" stroke-width="0.9"/>
<text x="368.6" y="656.7" font-size="8.4" text-anchor="middle">**</text>
<text x="344.9" y="720.0" font-size="9.2" text-anchor="end" transform="rotate(-31 344.9 720.0)">vector</text>
<text x="362.0" y="721.2" font-size="9.2" text-anchor="end" transform="rotate(-31 362.0 721.2)">NANOS1</text>
<text x="395.0" y="718.4" font-size="9.2" text-anchor="end" transform="rotate(-31 395.0 718.4)">NANOS1-DLL4-</text>
<text x="392.6" y="728.6" font-size="9.2" text-anchor="end" transform="rotate(-31 392.6 728.6)">promoter<tspan font-size="4.6" dy="-3.4">858-836</tspan></text>
</g>
<g id="panel-m">
<text x="239.0" y="754.6" font-size="16">m</text>
<line x1="276.30" y1="741.50" x2="276.30" y2="815.30" stroke="#000" stroke-width="0.9"/>
<line x1="276.30" y1="815.30" x2="358.40" y2="815.30" stroke="#000" stroke-width="0.9"/>
<line x1="273.90" y1="815.30" x2="276.30" y2="815.30" stroke="#000" stroke-width="0.7"/>
<text x="273.3" y="816.0" font-size="9.2" text-anchor="end">0</text>
<line x1="273.90" y1="800.70" x2="276.30" y2="800.70" stroke="#000" stroke-width="0.7"/>
<text x="273.3" y="804.0" font-size="9.2" text-anchor="end">1</text>
<line x1="273.90" y1="786.10" x2="276.30" y2="786.10" stroke="#000" stroke-width="0.7"/>
<text x="273.3" y="789.4" font-size="9.2" text-anchor="end">2</text>
<line x1="273.90" y1="771.50" x2="276.30" y2="771.50" stroke="#000" stroke-width="0.7"/>
<text x="273.3" y="774.8" font-size="9.2" text-anchor="end">3</text>
<line x1="273.90" y1="756.90" x2="276.30" y2="756.90" stroke="#000" stroke-width="0.7"/>
<text x="273.3" y="760.2" font-size="9.2" text-anchor="end">4</text>
<line x1="273.90" y1="742.30" x2="276.30" y2="742.30" stroke="#000" stroke-width="0.7"/>
<text x="273.3" y="745.6" font-size="9.2" text-anchor="end">5</text>
<text x="264.4" y="786.5" font-size="8.6" text-anchor="middle" transform="rotate(-90 264.4 786.5)">Relative luciferase activity</text>
<rect x="281.20" y="800.70" width="13.50" height="14.60" fill="#dff7d5" stroke="#8a9a86" stroke-width="0.8"/>
<line x1="287.95" y1="815.30" x2="287.95" y2="817.50" stroke="#000" stroke-width="0.7"/>
<circle cx="283.55" cy="800.70" r="2.10" fill="#fff" stroke="#222" stroke-width="0.6"/>
<circle cx="287.95" cy="800.70" r="2.10" fill="#fff" stroke="#222" stroke-width="0.6"/>
<circle cx="292.35" cy="800.70" r="2.10" fill="#fff" stroke="#222" stroke-width="0.6"/>
<rect x="301.30" y="790.19" width="13.50" height="25.11" fill="#c08086" stroke="#6a4a4c" stroke-width="0.8"/>
<line x1="308.05" y1="815.30" x2="308.05" y2="817.50" stroke="#000" stroke-width="0.7"/>
<line x1="308.05" y1="788.73" x2="308.05" y2="791.65" stroke="#222" stroke-width="0.7"/>
<line x1="305.25" y1="788.73" x2="310.85" y2="788.73" stroke="#222" stroke-width="0.7"/>
<line x1="305.25" y1="791.65" x2="310.85" y2="791.65" stroke="#222" stroke-width="0.7"/>
<circle cx="303.45" cy="792.38" r="2.10" fill="#fff" stroke="#222" stroke-width="0.6"/>
<circle cx="312.85" cy="789.02" r="2.10" fill="#fff" stroke="#222" stroke-width="0.6"/>
<circle cx="308.45" cy="787.85" r="2.10" fill="#fff" stroke="#222" stroke-width="0.6"/>
<rect x="321.50" y="788.44" width="13.50" height="26.86" fill="#8a92e0" stroke="#585e9a" stroke-width="0.8"/>
<line x1="328.25" y1="815.30" x2="328.25" y2="817.50" stroke="#000" stroke-width="0.7"/>
<line x1="328.25" y1="787.27" x2="328.25" y2="789.60" stroke="#222" stroke-width="0.7"/>
<line x1="325.45" y1="787.27" x2="331.05" y2="787.27" stroke="#222" stroke-width="0.7"/>
<line x1="325.45" y1="789.60" x2="331.05" y2="789.60" stroke="#222" stroke-width="0.7"/>
<circle cx="323.25" cy="790.19" r="2.10" fill="#fff" stroke="#222" stroke-width="0.6"/>
<circle cx="328.25" cy="786.98" r="2.10" fill="#fff" stroke="#222" stroke-width="0.6"/>
<circle cx="333.05" cy="786.68" r="2.10" fill="#fff" stroke="#222" stroke-width="0.6"/>
<rect x="341.60" y="766.39" width="13.50" height="48.91" fill="#c882c0" stroke="#865684" stroke-width="0.8"/>
<line x1="348.35" y1="815.30" x2="348.35" y2="817.50" stroke="#000" stroke-width="0.7"/>
<line x1="348.35" y1="762.74" x2="348.35" y2="770.04" stroke="#222" stroke-width="0.7"/>
<line x1="345.55" y1="762.74" x2="351.15" y2="762.74" stroke="#222" stroke-width="0.7"/>
<line x1="345.55" y1="770.04" x2="351.15" y2="770.04" stroke="#222" stroke-width="0.7"/>
<circle cx="348.65" cy="762.01" r="2.10" fill="#fff" stroke="#222" stroke-width="0.6"/>
<circle cx="350.35" cy="766.39" r="2.10" fill="#fff" stroke="#222" stroke-width="0.6"/>
<circle cx="348.95" cy="771.06" r="2.10" fill="#fff" stroke="#222" stroke-width="0.6"/>
<line x1="288.80" y1="780.60" x2="308.40" y2="780.60" stroke="#000" stroke-width="0.9"/>
<text x="298.3" y="783.2" font-size="9" text-anchor="middle">**</text>
<line x1="328.60" y1="754.40" x2="348.90" y2="754.40" stroke="#000" stroke-width="0.9"/>
<text x="338.7" y="757.0" font-size="9" text-anchor="middle">**</text>
<text x="293.2" y="824.0" font-size="9.2" text-anchor="end" transform="rotate(-28 293.2 824.0)">vector</text>
<text x="317.6" y="824.0" font-size="9.2" text-anchor="end" transform="rotate(-28 317.6 824.0)">NANOS1</text>
<text x="334.0" y="824.0" font-size="9.2" text-anchor="end" transform="rotate(-28 334.0 824.0)">vector</text>
<text x="361.0" y="824.0" font-size="9.2" text-anchor="end" transform="rotate(-28 361.0 824.0)">NANOS1</text>
<line x1="271.90" y1="840.00" x2="305.20" y2="840.00" stroke="#555" stroke-width="1.3"/>
<line x1="309.20" y1="840.00" x2="342.00" y2="840.00" stroke="#555" stroke-width="1.3"/>
<text x="288.5" y="848.0" font-size="9.6" text-anchor="middle">TTN<tspan font-size="5.2" dy="-3.4">WT</tspan></text>
<text x="324.5" y="848.0" font-size="9.6" text-anchor="middle">TTN<tspan font-size="5.2" dy="-3.4">KO</tspan></text>
</g>
<g id="panel-o">
<text x="409.6" y="658.6" font-size="16">o</text>
<text x="479.0" y="664.5" font-size="8.6" text-anchor="middle">NANOS1-High</text>
<text x="599.6" y="664.5" font-size="8.6" text-anchor="middle">NANOS1-Low</text>
<line x1="421.60" y1="668.30" x2="539.40" y2="668.30" stroke="#666" stroke-width="0.8"/>
<line x1="542.70" y1="668.30" x2="660.00" y2="668.30" stroke="#666" stroke-width="0.8"/>
<rect x="421.90" y="670.90" width="237.70" height="108.80" fill="#000"/>
<text x="450.2" y="678.1" font-size="8.6" text-anchor="middle" fill="#3038b8">DAPI</text>
<text x="493.0" y="678.1" font-size="8.6" text-anchor="middle" fill="#30b830">CK19</text>
<text x="542.4" y="678.1" font-size="8.6" text-anchor="middle" fill="#e8d020">NANOS1</text>
<text x="592.4" y="678.1" font-size="8.6" text-anchor="middle" fill="#e01898">DLL4</text>
<text x="632.2" y="678.1" font-size="8.6" text-anchor="middle"><tspan fill="#2090d0">M</tspan><tspan fill="#20b8c8">E</tspan><tspan fill="#38c038">R</tspan><tspan fill="#e02878">G</tspan><tspan fill="#28c0b0">E</tspan></text>
<clipPath id="ct0"><rect x="421.9" y="679.8" width="29.2" height="19.1"/></clipPath>
<g clip-path="url(#ct0)">
<rect x="421.9" y="679.8" width="29.2" height="19.1" fill="#1c2c9c" opacity="0.75" filter="url(#fTexA)"/>
</g>
<line x1="445.60" y1="696.70" x2="449.10" y2="696.70" stroke="#ddd" stroke-width="0.6"/>
<clipPath id="ct1"><rect x="452.4" y="679.8" width="29.0" height="19.1"/></clipPath>
<g clip-path="url(#ct1)">
<g transform="translate(452.4,679.8) scale(0.2464,0.2399) translate(-421.9,-700.1)"><rect x="421.9" y="700.1" width="117.7" height="79.6" fill="#58d838" opacity="0.9" filter="url(#fTexB)" clip-path="url(#cY)"/></g>
</g>
<line x1="475.90" y1="696.70" x2="479.40" y2="696.70" stroke="#ddd" stroke-width="0.6"/>
<clipPath id="ct2"><rect x="482.4" y="679.8" width="29.2" height="19.1"/></clipPath>
<g clip-path="url(#ct2)">
<g transform="translate(482.4,679.8) scale(0.2481,0.2399) translate(-421.9,-700.1)"><rect x="421.9" y="700.1" width="117.7" height="79.6" fill="#a89826" opacity="0.6" filter="url(#fTexB)" clip-path="url(#cY)"/></g>
</g>
<line x1="506.10" y1="696.70" x2="509.60" y2="696.70" stroke="#ddd" stroke-width="0.6"/>
<clipPath id="ct3"><rect x="512.6" y="679.8" width="27.0" height="19.1"/></clipPath>
<g clip-path="url(#ct3)">
<rect x="512.6" y="679.8" width="27.0" height="19.1" fill="#8a2090" opacity="0.65" filter="url(#fTexA)"/>
</g>
<line x1="534.10" y1="696.70" x2="537.60" y2="696.70" stroke="#ddd" stroke-width="0.6"/>
<clipPath id="ct4"><rect x="541.9" y="679.8" width="28.6" height="19.1"/></clipPath>
<g clip-path="url(#ct4)">
<rect x="541.9" y="679.8" width="28.6" height="19.1" fill="#2030a8" opacity="0.75" filter="url(#fTexA)"/>
</g>
<line x1="565.00" y1="696.70" x2="568.50" y2="696.70" stroke="#ddd" stroke-width="0.6"/>
<clipPath id="ct5"><rect x="571.5" y="679.8" width="28.5" height="19.1"/></clipPath>
<g clip-path="url(#ct5)">
<g transform="translate(571.5,679.8) scale(0.2421,0.2399) translate(-541.9,-700.1)"><rect x="541.9" y="700.1" width="117.7" height="79.6" fill="#40c840" opacity="0.9" filter="url(#fTexB)" clip-path="url(#cLobes)"/></g>
</g>
<line x1="594.50" y1="696.70" x2="598.00" y2="696.70" stroke="#ddd" stroke-width="0.6"/>
<clipPath id="ct6"><rect x="601.4" y="679.8" width="28.8" height="19.1"/></clipPath>
<g clip-path="url(#ct6)">
<rect x="601.4" y="679.8" width="28.8" height="19.1" fill="#504810" opacity="0.4" filter="url(#fTexC)"/>
</g>
<line x1="624.70" y1="696.70" x2="628.20" y2="696.70" stroke="#ddd" stroke-width="0.6"/>
<clipPath id="ct7"><rect x="631.6" y="679.8" width="28.0" height="19.1"/></clipPath>
<g clip-path="url(#ct7)">
<rect x="631.6" y="679.8" width="28.0" height="19.1" fill="#600c60" opacity="0.3" filter="url(#fTexC)"/>
</g>
<line x1="654.10" y1="696.70" x2="657.60" y2="696.70" stroke="#ddd" stroke-width="0.6"/>
<line x1="451.70" y1="679.30" x2="451.70" y2="699.50" stroke="#fff" stroke-width="0.9"/>
<line x1="482.00" y1="679.30" x2="482.00" y2="699.50" stroke="#fff" stroke-width="0.9"/>
<line x1="512.20" y1="679.30" x2="512.20" y2="699.50" stroke="#fff" stroke-width="0.9"/>
<line x1="540.20" y1="679.30" x2="540.20" y2="699.50" stroke="#fff" stroke-width="0.9"/>
<line x1="571.10" y1="679.30" x2="571.10" y2="699.50" stroke="#fff" stroke-width="0.9"/>
<line x1="600.60" y1="679.30" x2="600.60" y2="699.50" stroke="#fff" stroke-width="0.9"/>
<line x1="630.80" y1="679.30" x2="630.80" y2="699.50" stroke="#fff" stroke-width="0.9"/>
<line x1="421.90" y1="679.30" x2="659.60" y2="679.30" stroke="#fff" stroke-width="0.8"/>
<line x1="421.90" y1="699.50" x2="659.60" y2="699.50" stroke="#fff" stroke-width="0.9"/>
<rect x="539.90" y="679.30" width="1.80" height="100.40" fill="#fff"/>
<clipPath id="cL"><rect x="421.9" y="700.1" width="117.7" height="79.6"/></clipPath>
<clipPath id="cY"><polygon points="460.1,717.6 473.4,710.5 491.2,706.9 503.7,703.7 517.1,706.0 526.9,711.4 529.5,715.8 525.1,721.2 512.6,725.1 501.9,732.2 494.8,739.3 487.7,746.4 478.8,751.8 471.6,757.1 464.5,766.0 455.6,773.2 446.7,776.7 441.4,779.6 430.7,779.6 444.9,772.8 455.6,767.1 464.5,758.6 469.9,751.4 473.1,744.7 470.8,739.3 461.9,734.5 459.5,726.5"/><polygon points="464.5,771.0 478.8,766.0 491.2,764.3 498.4,769.6 503.3,779.6 462.7,779.6"/></clipPath>
<mask id="mY" maskUnits="userSpaceOnUse" x="415" y="695" width="130" height="90"><g filter="url(#fRough)"><polygon points="460.1,717.6 473.4,710.5 491.2,706.9 503.7,703.7 517.1,706.0 526.9,711.4 529.5,715.8 525.1,721.2 512.6,725.1 501.9,732.2 494.8,739.3 487.7,746.4 478.8,751.8 471.6,757.1 464.5,766.0 455.6,773.2 446.7,776.7 441.4,779.6 430.7,779.6 444.9,772.8 455.6,767.1 464.5,758.6 469.9,751.4 473.1,744.7 470.8,739.3 461.9,734.5 459.5,726.5" fill="#fff"/><polygon points="464.5,771.0 478.8,766.0 491.2,764.3 498.4,769.6 503.3,779.6 462.7,779.6" fill="#fff"/></g></mask>
<g clip-path="url(#cL)"><g filter="url(#blurIF)">
<rect x="421.9" y="700.1" width="117.7" height="79.6" fill="#4420b0" filter="url(#fTexP)"/>
<rect x="421.9" y="700.1" width="117.7" height="79.6" fill="#a044dc" opacity="0.7" filter="url(#fTexP2)"/>
<rect x="421.9" y="700.1" width="117.7" height="79.6" fill="#05000c" opacity="0.85" filter="url(#fTexD)"/>
<g filter="url(#fRough)" opacity="0.85"><polygon points="458.3,699.8 496.6,699.8 498.4,703.3 491.2,706.5 473.4,710.1 462.7,714.4 458.3,708.7" fill="#000"/><polygon points="498.4,760.3 509.0,758.6 514.4,765.7 510.8,774.6 503.7,776.4 499.3,769.2" fill="#000"/><polygon points="432.5,735.4 446.7,731.8 455.6,739.0 453.8,749.6 441.4,753.2 432.5,746.1" fill="#000" opacity="0.7"/></g>
<polygon points="530.4,716.7 534.0,722.9 519.7,733.6 505.5,744.3 496.6,755.0 484.1,763.9 471.6,772.8 464.5,769.2 472.0,757.8 479.1,752.5 488.0,747.2 495.2,740.0 502.3,732.9 513.0,725.8 525.4,721.9" fill="#6a3ce0" opacity="0.7" filter="url(#fTexG2)"/>
<g mask="url(#mY)"><rect x="421.9" y="700.1" width="117.7" height="79.6" fill="#081806"/><rect x="421.9" y="700.1" width="117.7" height="79.6" fill="#8ce25c" filter="url(#fTexG3)"/>
<ellipse cx="483.2" cy="736.3" rx="13" ry="11" fill="#84d8e4" opacity="0.85" filter="url(#fTexG2)"/>
<ellipse cx="509.0" cy="706.9" rx="11" ry="4.5" fill="#ece4ff" filter="url(#fTexG2)"/>
</g>
</g>
<line x1="528.00" y1="776.80" x2="537.00" y2="776.80" stroke="#ddd" stroke-width="0.6"/>
</g>
<clipPath id="cR"><rect x="541.9" y="700.1" width="117.7" height="79.6"/></clipPath>
<clipPath id="cLobes"><polygon points="561.4,708.7 575.6,705.1 584.5,710.5 587.2,722.9 584.5,739.0 585.4,751.4 581.0,760.3 568.5,758.6 557.8,751.4 553.4,737.2 555.1,721.2"/><polygon points="593.4,705.1 604.1,700.7 611.2,708.7 614.8,719.4 623.7,724.7 632.6,717.6 634.4,705.1 641.5,699.8 659.0,699.8 659.0,751.4 648.6,762.1 645.1,779.6 598.8,779.6 593.4,769.2 598.8,756.8 591.6,744.3 593.4,726.5"/><polygon points="541.8,756.8 556.0,758.6 570.3,763.9 584.5,769.2 593.4,779.6 541.8,779.6"/></clipPath>
<mask id="mLobes" maskUnits="userSpaceOnUse" x="535" y="695" width="130" height="90"><g filter="url(#fRough)"><polygon points="561.4,708.7 575.6,705.1 584.5,710.5 587.2,722.9 584.5,739.0 585.4,751.4 581.0,760.3 568.5,758.6 557.8,751.4 553.4,737.2 555.1,721.2" fill="#fff"/><polygon points="593.4,705.1 604.1,700.7 611.2,708.7 614.8,719.4 623.7,724.7 632.6,717.6 634.4,705.1 641.5,699.8 659.0,699.8 659.0,751.4 648.6,762.1 645.1,779.6 598.8,779.6 593.4,769.2 598.8,756.8 591.6,744.3 593.4,726.5" fill="#fff"/><polygon points="541.8,756.8 556.0,758.6 570.3,763.9 584.5,769.2 593.4,779.6 541.8,779.6" fill="#fff"/></g></mask>
<g clip-path="url(#cR)"><g filter="url(#blurIF)">
<rect x="541.9" y="700.1" width="117.7" height="79.6" fill="#1a2890" opacity="0.35" filter="url(#fTexA)"/>
<path d="M559.6,707.8 L553.4,721.2 L551.0,737.2 L555.1,753.2 L568.5,762.1 L584.5,768.3 L593.4,774.6" fill="none" stroke="#2c3cc4" stroke-width="2.2" opacity="0.6" stroke-linejoin="round" filter="url(#blur3)"/>
<path d="M593.4,706.0 L589.9,722.9 L587.7,739.0 L589.0,751.4 L584.5,760.3" fill="none" stroke="#2c3cc4" stroke-width="2.0" opacity="0.55" stroke-linejoin="round" filter="url(#blur3)"/>
<path d="M659.0,749.6 L654.0,763.9 L646.9,779.6" fill="none" stroke="#3434b8" stroke-width="5" opacity="0.6" filter="url(#blur3)"/>
<g mask="url(#mLobes)"><rect x="541.9" y="700.1" width="117.7" height="79.6" fill="#061208"/><rect x="541.9" y="700.1" width="117.7" height="79.6" fill="#52d452" filter="url(#fTexG3)"/>
<rect x="590" y="700.1" width="69.6" height="79.6" fill="#48a8c8" opacity="0.9" filter="url(#fTexC2)"/>
<rect x="541.9" y="700.1" width="117.7" height="79.6" fill="#4cc0c0" opacity="0.6" filter="url(#fTexC2)"/>
<rect x="596" y="700.1" width="63.6" height="60" fill="#4a8cd8" opacity="0.6" filter="url(#fTexG2)"/>
<rect x="541.9" y="700.1" width="117.7" height="79.6" fill="#000" opacity="0.8" filter="url(#fTexD2)"/>
<polygon points="563.2,730.1 575.6,728.3 581.9,739.0 578.3,751.4 566.7,751.4 561.4,740.7" fill="#000" opacity="0.75" filter="url(#fRough)"/>
</g>
<ellipse cx="574.7" cy="718.5" rx="5.5" ry="4.5" fill="#f0d8ff" filter="url(#fTexG2)"/>
</g>
<line x1="648.00" y1="776.80" x2="657.00" y2="776.80" stroke="#ddd" stroke-width="0.6"/>
</g>
</g>
<g id="panel-p">
<text x="433.6" y="792.6" font-size="16">p</text>
<text x="536.8" y="788.9" font-size="8.5" text-anchor="middle">DLL4 positive area (%)</text>
<line x1="488.80" y1="800.60" x2="574.80" y2="800.60" stroke="#000" stroke-width="0.9"/>
<line x1="488.80" y1="800.60" x2="488.80" y2="849.00" stroke="#000" stroke-width="0.9"/>
<line x1="489.40" y1="798.20" x2="489.40" y2="800.60" stroke="#000" stroke-width="0.7"/>
<text x="487.2" y="794.8" font-size="8.2" text-anchor="middle" transform="rotate(90 487.2 794.8)">0</text>
<line x1="510.30" y1="798.20" x2="510.30" y2="800.60" stroke="#000" stroke-width="0.7"/>
<text x="508.1" y="794.8" font-size="8.2" text-anchor="middle" transform="rotate(90 508.1 794.8)">10</text>
<line x1="531.20" y1="798.20" x2="531.20" y2="800.60" stroke="#000" stroke-width="0.7"/>
<text x="529.0" y="794.8" font-size="8.2" text-anchor="middle" transform="rotate(90 529.0 794.8)">20</text>
<line x1="552.10" y1="798.20" x2="552.10" y2="800.60" stroke="#000" stroke-width="0.7"/>
<text x="549.9" y="794.8" font-size="8.2" text-anchor="middle" transform="rotate(90 549.9 794.8)">30</text>
<line x1="573.00" y1="798.20" x2="573.00" y2="800.60" stroke="#000" stroke-width="0.7"/>
<text x="570.8" y="794.8" font-size="8.2" text-anchor="middle" transform="rotate(90 570.8 794.8)">40</text>
<rect x="488.80" y="806.40" width="53.90" height="15.50" fill="#78b843"/>
<rect x="488.80" y="828.40" width="43.90" height="14.80" fill="#f5ab4e"/>
<line x1="486.40" y1="814.20" x2="488.80" y2="814.20" stroke="#000" stroke-width="0.7"/>
<line x1="486.40" y1="835.80" x2="488.80" y2="835.80" stroke="#000" stroke-width="0.7"/>
<text x="486.6" y="817.0" font-size="8.6" text-anchor="end">NANOS1-High</text>
<text x="486.6" y="838.3" font-size="8.6" text-anchor="end">NANOS1-Low</text>
<circle cx="541.33" cy="811.53" r="1.45" fill="#fff" stroke="#222" stroke-width="0.5"/>
<circle cx="540.97" cy="810.96" r="1.45" fill="#fff" stroke="#222" stroke-width="0.5"/>
<circle cx="541.54" cy="818.31" r="1.45" fill="#fff" stroke="#222" stroke-width="0.5"/>
<circle cx="524.36" cy="809.46" r="1.45" fill="#fff" stroke="#222" stroke-width="0.5"/>
<circle cx="540.42" cy="810.91" r="1.45" fill="#fff" stroke="#222" stroke-width="0.5"/>
<circle cx="544.59" cy="814.06" r="1.45" fill="#fff" stroke="#222" stroke-width="0.5"/>
<circle cx="551.37" cy="815.65" r="1.45" fill="#fff" stroke="#222" stroke-width="0.5"/>
<circle cx="544.53" cy="814.49" r="1.45" fill="#fff" stroke="#222" stroke-width="0.5"/>
<circle cx="546.23" cy="817.40" r="1.45" fill="#fff" stroke="#222" stroke-width="0.5"/>
<circle cx="559.58" cy="808.57" r="1.45" fill="#fff" stroke="#222" stroke-width="0.5"/>
<circle cx="549.81" cy="812.24" r="1.45" fill="#fff" stroke="#222" stroke-width="0.5"/>
<circle cx="524.91" cy="810.21" r="1.45" fill="#fff" stroke="#222" stroke-width="0.5"/>
<circle cx="554.09" cy="809.52" r="1.45" fill="#fff" stroke="#222" stroke-width="0.5"/>
<circle cx="540.12" cy="809.56" r="1.45" fill="#fff" stroke="#222" stroke-width="0.5"/>
<circle cx="552.95" cy="817.38" r="1.45" fill="#fff" stroke="#222" stroke-width="0.5"/>
<circle cx="529.18" cy="816.53" r="1.45" fill="#fff" stroke="#222" stroke-width="0.5"/>
<circle cx="522.24" cy="812.66" r="1.45" fill="#fff" stroke="#222" stroke-width="0.5"/>
<circle cx="535.53" cy="814.57" r="1.45" fill="#fff" stroke="#222" stroke-width="0.5"/>
<circle cx="551.47" cy="817.98" r="1.45" fill="#fff" stroke="#222" stroke-width="0.5"/>
<circle cx="527.85" cy="814.85" r="1.45" fill="#fff" stroke="#222" stroke-width="0.5"/>
<circle cx="542.06" cy="811.01" r="1.45" fill="#fff" stroke="#222" stroke-width="0.5"/>
<circle cx="539.45" cy="811.68" r="1.45" fill="#fff" stroke="#222" stroke-width="0.5"/>
<circle cx="551.15" cy="809.61" r="1.45" fill="#fff" stroke="#222" stroke-width="0.5"/>
<circle cx="547.53" cy="811.56" r="1.45" fill="#fff" stroke="#222" stroke-width="0.5"/>
<circle cx="535.28" cy="812.57" r="1.45" fill="#fff" stroke="#222" stroke-width="0.5"/>
<circle cx="534.14" cy="810.80" r="1.45" fill="#fff" stroke="#222" stroke-width="0.5"/>
<circle cx="540.00" cy="815.63" r="1.45" fill="#fff" stroke="#222" stroke-width="0.5"/>
<circle cx="564.04" cy="815.20" r="1.45" fill="#fff" stroke="#222" stroke-width="0.5"/>
<circle cx="552.78" cy="810.30" r="1.45" fill="#fff" stroke="#222" stroke-width="0.5"/>
<circle cx="560.97" cy="812.67" r="1.45" fill="#fff" stroke="#222" stroke-width="0.5"/>
<circle cx="561.03" cy="814.63" r="1.45" fill="#fff" stroke="#222" stroke-width="0.5"/>
<circle cx="541.96" cy="816.03" r="1.45" fill="#fff" stroke="#222" stroke-width="0.5"/>
<circle cx="510.75" cy="815.50" r="1.45" fill="#fff" stroke="#222" stroke-width="0.5"/>
<circle cx="519.11" cy="816.00" r="1.45" fill="#fff" stroke="#222" stroke-width="0.5"/>
<circle cx="571.36" cy="815.00" r="1.45" fill="#fff" stroke="#222" stroke-width="0.5"/>
<circle cx="539.06" cy="833.02" r="1.45" fill="#fff" stroke="#222" stroke-width="0.5"/>
<circle cx="523.03" cy="830.85" r="1.45" fill="#fff" stroke="#222" stroke-width="0.5"/>
<circle cx="530.58" cy="832.82" r="1.45" fill="#fff" stroke="#222" stroke-width="0.5"/>
<circle cx="537.53" cy="840.87" r="1.45" fill="#fff" stroke="#222" stroke-width="0.5"/>
<circle cx="536.84" cy="837.71" r="1.45" fill="#fff" stroke="#222" stroke-width="0.5"/>
<circle cx="528.61" cy="834.85" r="1.45" fill="#fff" stroke="#222" stroke-width="0.5"/>
<circle cx="539.06" cy="833.41" r="1.45" fill="#fff" stroke="#222" stroke-width="0.5"/>
<circle cx="528.90" cy="833.21" r="1.45" fill="#fff" stroke="#222" stroke-width="0.5"/>
<circle cx="527.85" cy="836.93" r="1.45" fill="#fff" stroke="#222" stroke-width="0.5"/>
<circle cx="530.73" cy="840.38" r="1.45" fill="#fff" stroke="#222" stroke-width="0.5"/>
<circle cx="528.89" cy="841.47" r="1.45" fill="#fff" stroke="#222" stroke-width="0.5"/>
<circle cx="535.47" cy="836.10" r="1.45" fill="#fff" stroke="#222" stroke-width="0.5"/>
<circle cx="534.44" cy="831.71" r="1.45" fill="#fff" stroke="#222" stroke-width="0.5"/>
<circle cx="533.81" cy="837.40" r="1.45" fill="#fff" stroke="#222" stroke-width="0.5"/>
<circle cx="534.52" cy="831.20" r="1.45" fill="#fff" stroke="#222" stroke-width="0.5"/>
<circle cx="525.93" cy="834.70" r="1.45" fill="#fff" stroke="#222" stroke-width="0.5"/>
<circle cx="540.90" cy="841.18" r="1.45" fill="#fff" stroke="#222" stroke-width="0.5"/>
<circle cx="532.49" cy="839.97" r="1.45" fill="#fff" stroke="#222" stroke-width="0.5"/>
<circle cx="543.34" cy="838.00" r="1.45" fill="#fff" stroke="#222" stroke-width="0.5"/>
<circle cx="533.46" cy="836.41" r="1.45" fill="#fff" stroke="#222" stroke-width="0.5"/>
<circle cx="531.68" cy="831.73" r="1.45" fill="#fff" stroke="#222" stroke-width="0.5"/>
<circle cx="542.21" cy="835.28" r="1.45" fill="#fff" stroke="#222" stroke-width="0.5"/>
<circle cx="520.15" cy="840.13" r="1.45" fill="#fff" stroke="#222" stroke-width="0.5"/>
<circle cx="537.44" cy="833.40" r="1.45" fill="#fff" stroke="#222" stroke-width="0.5"/>
<circle cx="528.49" cy="840.54" r="1.45" fill="#fff" stroke="#222" stroke-width="0.5"/>
<circle cx="532.67" cy="840.08" r="1.45" fill="#fff" stroke="#222" stroke-width="0.5"/>
<circle cx="529.83" cy="837.20" r="1.45" fill="#fff" stroke="#222" stroke-width="0.5"/>
<circle cx="541.80" cy="832.18" r="1.45" fill="#fff" stroke="#222" stroke-width="0.5"/>
<circle cx="533.34" cy="839.06" r="1.45" fill="#fff" stroke="#222" stroke-width="0.5"/>
<circle cx="524.39" cy="836.33" r="1.45" fill="#fff" stroke="#222" stroke-width="0.5"/>
<circle cx="538.61" cy="830.71" r="1.45" fill="#fff" stroke="#222" stroke-width="0.5"/>
<circle cx="532.71" cy="840.72" r="1.45" fill="#fff" stroke="#222" stroke-width="0.5"/>
<circle cx="541.82" cy="833.88" r="1.45" fill="#fff" stroke="#222" stroke-width="0.5"/>
<circle cx="523.97" cy="831.14" r="1.45" fill="#fff" stroke="#222" stroke-width="0.5"/>
<circle cx="511.79" cy="833.00" r="1.45" fill="#fff" stroke="#222" stroke-width="0.5"/>
<circle cx="512.84" cy="838.50" r="1.45" fill="#fff" stroke="#222" stroke-width="0.5"/>
<circle cx="517.01" cy="832.50" r="1.45" fill="#fff" stroke="#222" stroke-width="0.5"/>
<circle cx="518.06" cy="838.00" r="1.45" fill="#fff" stroke="#222" stroke-width="0.5"/>
<line x1="574.80" y1="817.40" x2="574.80" y2="835.30" stroke="#000" stroke-width="0.8"/>
<text x="575.6" y="826.0" font-size="7.5" text-anchor="middle" transform="rotate(90 575.6 826.0)">****</text>
</g>
</svg>
</body></html>
